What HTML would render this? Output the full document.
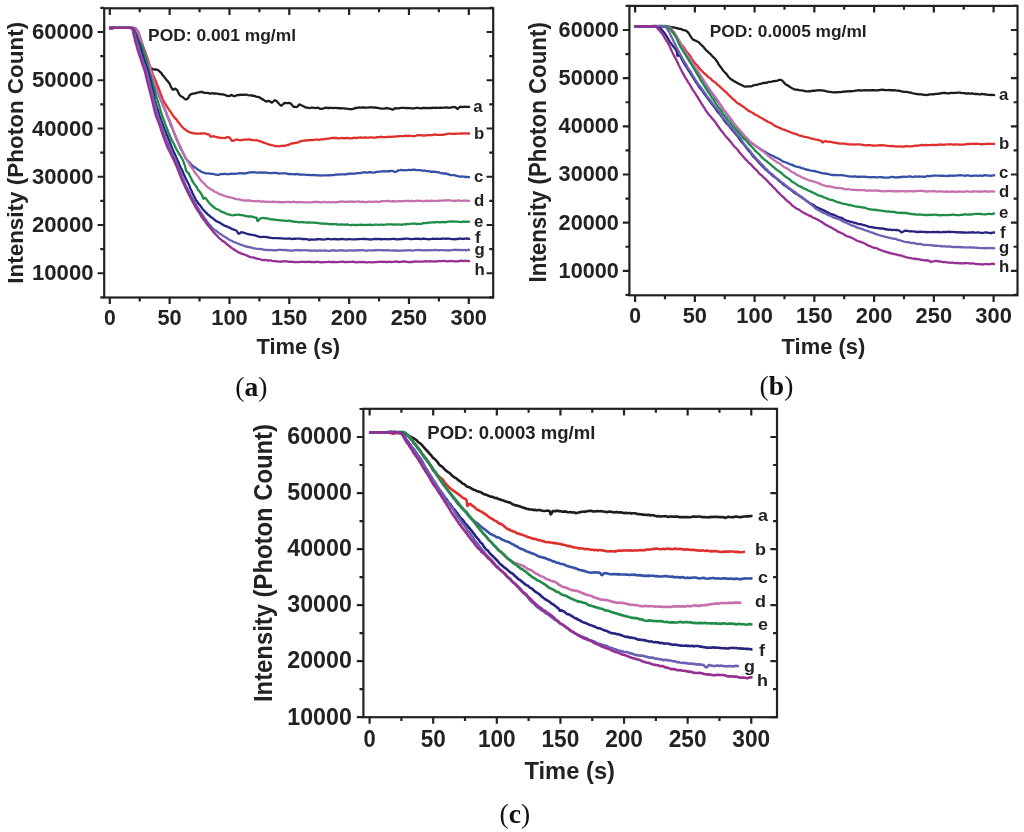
<!DOCTYPE html>
<html lang="en">
<head>
<meta charset="utf-8">
<title>Intensity (Photon Count) vs Time (s)</title>
<style>
html,body{margin:0;padding:0;background:#ffffff;}
body{width:1024px;height:832px;overflow:hidden;font-family:"Liberation Sans",sans-serif;}
svg{display:block;filter:blur(0.45px);}
text{white-space:pre;}
</style>
</head>
<body>
<svg width="1024" height="832" viewBox="0 0 1024 832">
<rect x="0" y="0" width="1024" height="832" fill="#ffffff"/>
<g>
<path d="M109.30,28.00 L110.05,28.00 L110.97,27.99 L112.06,27.98 L113.29,27.97 L114.63,27.96 L116.07,27.95 L117.58,27.94 L119.15,27.92 L120.75,27.91 L122.36,27.90 L123.97,27.89 L125.55,27.89 L127.07,27.89 L128.53,27.89 L129.89,27.90 L131.14,27.81 L132.26,27.88 L133.22,28.04 L134.00,28.16 L134.87,28.74 L135.50,29.54 L136.16,30.44 L136.87,31.56 L137.50,32.70 L137.80,33.24 L138.13,34.25 L138.48,35.32 L138.85,36.61 L139.25,37.78 L139.65,39.19 L140.06,40.27 L140.48,41.62 L140.89,42.53 L141.30,43.94 L141.70,44.89 L142.10,46.23 L142.51,47.30 L142.93,48.38 L143.35,49.55 L143.77,50.60 L144.19,52.13 L144.60,53.30 L145.01,54.37 L145.40,55.23 L145.79,56.54 L146.15,57.23 L146.63,58.91 L147.11,60.15 L147.57,61.55 L148.02,62.84 L148.45,63.52 L148.84,64.57 L149.20,65.19 L149.50,65.89 L149.97,67.28 L150.60,67.88 L151.65,68.60 L153.00,69.16 L153.99,69.53 L155.17,69.27 L156.38,69.58 L157.50,69.96 L158.49,70.36 L159.42,71.44 L160.33,72.22 L161.25,72.93 L162.00,74.08 L162.75,75.28 L163.50,75.91 L164.25,77.10 L165.00,77.80 L165.77,78.93 L166.56,80.02 L167.34,80.60 L168.08,81.81 L168.75,82.60 L169.34,83.30 L169.87,84.25 L170.36,85.39 L170.81,86.74 L171.25,87.28 L171.87,88.33 L172.48,89.42 L173.10,89.67 L174.05,89.31 L175.00,88.57 L175.97,89.19 L176.90,89.89 L177.47,90.59 L178.07,92.05 L178.72,93.39 L179.40,94.66 L180.12,95.50 L180.87,96.19 L181.67,96.57 L182.50,96.86 L183.44,97.74 L184.45,98.63 L185.43,99.32 L186.25,99.42 L187.28,99.03 L188.10,98.15 L188.63,97.23 L189.19,96.07 L189.83,95.03 L190.60,94.47 L191.52,94.19 L192.57,93.54 L193.73,93.53 L195.00,93.25 L196.13,93.22 L197.37,92.59 L198.66,92.41 L199.97,92.05 L201.25,91.86 L202.46,92.01 L203.63,92.60 L204.81,92.82 L206.09,92.78 L207.50,92.86 L208.60,93.21 L209.82,93.52 L211.14,93.29 L212.50,93.15 L213.86,93.61 L215.18,93.48 L216.40,93.59 L217.50,93.72 L218.93,94.01 L220.24,94.21 L221.46,94.47 L222.62,94.27 L223.75,94.68 L224.87,94.92 L225.96,95.38 L226.99,95.79 L227.93,95.83 L228.75,96.09 L229.71,95.83 L230.48,95.58 L231.25,94.85 L232.03,95.18 L232.81,95.55 L233.75,96.17 L234.73,96.03 L235.90,95.64 L237.19,95.09 L238.58,94.93 L240.00,95.00 L241.05,94.59 L242.16,94.77 L243.31,94.56 L244.48,94.84 L245.66,94.64 L246.84,94.70 L248.00,95.16 L249.16,95.31 L250.34,95.36 L251.53,95.35 L252.71,95.84 L253.86,95.76 L254.96,96.16 L256.00,96.62 L257.36,96.77 L258.63,97.19 L259.82,97.56 L260.94,98.30 L262.00,99.10 L263.23,99.65 L264.34,100.42 L265.35,101.18 L266.25,101.53 L267.52,101.17 L268.75,100.81 L269.73,101.28 L270.79,102.14 L271.90,102.63 L272.74,101.95 L273.59,101.28 L274.53,100.40 L275.60,100.46 L276.46,101.02 L277.43,102.10 L278.46,103.17 L279.48,104.30 L280.43,105.26 L281.25,105.71 L282.39,104.97 L283.26,103.99 L284.40,103.08 L285.39,102.92 L286.55,103.15 L287.78,103.03 L288.96,102.97 L290.00,103.22 L291.07,103.75 L291.99,104.97 L292.86,105.99 L293.75,106.78 L295.07,106.92 L296.39,106.98 L297.50,106.58 L298.16,106.05 L298.61,104.99 L299.40,104.33 L300.22,104.81 L301.21,105.23 L302.34,105.65 L303.57,106.33 L304.87,107.09 L306.19,107.55 L307.50,107.63 L308.70,107.90 L310.00,108.04 L311.36,107.71 L312.73,107.71 L314.08,107.88 L315.35,108.04 L316.50,107.81 L317.50,107.68 L318.78,108.08 L319.91,108.71 L320.94,108.94 L321.90,108.89 L322.97,108.51 L323.89,108.31 L325.00,107.84 L325.82,107.73 L326.80,107.95 L327.92,107.99 L329.15,108.01 L330.47,107.92 L331.85,107.96 L333.28,108.07 L334.73,107.85 L336.17,107.83 L337.58,108.18 L338.95,108.25 L340.24,108.05 L341.43,108.33 L342.50,108.45 L343.91,108.41 L345.31,108.62 L346.67,108.72 L347.98,108.92 L349.22,109.03 L350.37,109.24 L351.41,109.16 L352.33,109.08 L353.10,108.98 L354.05,108.58 L355.00,108.07 L355.80,107.88 L356.79,108.02 L357.93,107.57 L359.21,107.38 L360.59,107.59 L362.04,107.50 L363.52,107.34 L365.02,107.61 L366.50,107.60 L367.92,107.57 L369.26,107.28 L370.49,107.41 L371.58,107.25 L372.50,107.51 L373.71,107.55 L374.76,107.45 L375.75,107.50 L376.79,107.89 L378.00,107.80 L378.98,108.08 L380.14,108.42 L381.42,108.64 L382.79,108.66 L384.19,108.55 L385.57,108.25 L386.89,108.22 L388.10,108.44 L389.16,108.69 L390.00,108.64 L390.95,108.97 L391.73,109.29 L392.50,109.74 L393.26,109.50 L394.03,108.85 L395.00,108.36 L395.74,108.09 L396.59,108.34 L397.52,108.31 L398.53,108.47 L399.62,108.19 L400.79,107.93 L402.01,107.96 L403.29,107.90 L404.63,107.94 L406.01,108.11 L407.43,107.91 L408.88,108.07 L410.35,108.22 L411.84,108.36 L413.35,108.50 L414.86,108.08 L416.37,107.83 L417.87,107.86 L419.36,108.20 L420.83,108.42 L422.27,107.99 L423.68,107.95 L425.05,108.01 L426.37,108.06 L427.64,107.84 L428.85,108.06 L430.00,107.96 L431.50,108.00 L433.01,107.75 L434.51,107.78 L436.00,107.63 L437.48,107.87 L438.94,107.91 L440.39,107.55 L441.80,107.82 L443.18,107.65 L444.53,107.66 L445.84,107.32 L447.10,107.52 L448.31,107.56 L449.47,107.76 L450.57,107.55 L451.60,107.24 L452.56,107.14 L453.46,107.15 L454.27,107.02 L455.00,107.07 L455.96,107.68 L456.73,108.31 L457.50,109.00 L458.26,108.36 L459.02,107.45 L460.00,106.89 L460.96,106.74 L462.21,107.11 L463.64,106.93 L465.16,106.73 L466.65,106.88 L468.03,106.93 L469.18,106.87 L470.00,106.65" fill="none" stroke="#1d1d1d" stroke-width="2.3" stroke-linejoin="round" stroke-linecap="butt"/>
<path d="M109.30,28.00 L110.03,28.00 L110.94,27.99 L111.99,27.99 L113.18,27.98 L114.49,27.96 L115.88,27.95 L117.36,27.94 L118.89,27.93 L120.46,27.92 L122.06,27.91 L123.65,27.90 L125.23,27.89 L126.77,27.89 L128.26,27.89 L129.67,27.89 L131.00,27.94 L132.21,28.06 L133.29,27.85 L134.23,28.18 L135.00,28.09 L135.87,28.37 L136.50,29.66 L137.16,30.23 L137.87,30.96 L138.50,32.05 L138.80,33.30 L139.13,34.35 L139.48,35.11 L139.85,36.31 L140.25,37.74 L140.65,38.81 L141.06,40.25 L141.48,41.25 L141.89,42.60 L142.30,43.77 L142.70,45.14 L143.10,46.26 L143.50,47.62 L143.91,48.33 L144.32,49.24 L144.73,50.44 L145.14,51.64 L145.55,52.77 L145.96,53.73 L146.36,55.12 L146.76,56.16 L147.15,57.19 L147.53,58.47 L147.90,59.61 L148.26,60.58 L148.61,61.98 L148.96,63.00 L149.31,64.27 L149.67,65.13 L150.03,66.63 L150.41,67.82 L150.80,69.12 L151.20,69.95 L151.62,71.09 L152.06,71.96 L152.51,73.45 L152.96,74.79 L153.43,75.71 L153.90,77.09 L154.38,78.09 L154.85,78.92 L155.32,79.96 L155.79,80.98 L156.25,82.22 L156.72,83.59 L157.20,85.11 L157.70,86.03 L158.20,87.18 L158.70,88.33 L159.19,89.74 L159.67,90.85 L160.11,92.28 L160.53,93.43 L160.91,94.31 L161.25,95.37 L161.65,96.13 L161.96,97.30 L162.26,97.98 L162.62,99.10 L163.10,99.85 L163.58,100.84 L164.12,102.12 L164.71,103.08 L165.35,103.85 L166.03,105.29 L166.75,106.25 L167.50,107.26 L168.11,108.59 L168.76,109.39 L169.45,110.42 L170.15,111.16 L170.87,112.38 L171.60,113.32 L172.33,114.51 L173.05,115.64 L173.75,116.53 L174.54,117.64 L175.33,118.41 L176.12,119.19 L176.92,120.11 L177.70,121.54 L178.48,122.25 L179.25,123.04 L180.00,124.43 L180.84,125.27 L181.68,126.42 L182.51,127.09 L183.32,128.16 L184.11,128.73 L184.87,129.12 L185.60,129.86 L186.68,130.72 L187.67,131.27 L188.72,131.85 L190.00,132.25 L191.07,132.81 L192.27,132.90 L193.56,133.39 L194.89,133.47 L196.21,133.68 L197.50,133.66 L198.79,133.69 L200.11,133.52 L201.44,133.43 L202.73,133.62 L203.93,133.46 L205.00,133.35 L206.33,133.95 L207.53,134.29 L208.58,134.34 L209.40,134.83 L210.04,135.89 L210.60,136.72 L211.45,136.69 L212.52,136.48 L213.75,136.19 L214.75,136.62 L215.93,136.79 L217.23,137.35 L218.59,137.43 L219.95,137.82 L221.25,137.96 L222.55,137.91 L223.91,138.05 L225.27,137.82 L226.57,137.40 L227.75,137.13 L228.75,136.98 L229.82,137.95 L230.52,139.09 L231.13,139.78 L231.90,140.74 L232.89,140.89 L233.96,140.37 L235.09,139.98 L236.25,139.50 L237.45,139.60 L238.71,139.90 L239.98,140.16 L241.25,140.26 L242.45,139.93 L243.60,139.65 L244.84,139.63 L246.25,139.48 L247.17,139.54 L248.24,139.32 L249.43,139.36 L250.69,139.81 L252.00,139.93 L253.32,140.20 L254.61,140.30 L255.85,140.13 L256.99,140.17 L258.00,140.65 L259.38,141.19 L260.63,141.44 L261.78,141.80 L262.87,142.17 L263.93,142.85 L265.00,142.93 L266.24,143.47 L267.40,143.94 L268.54,144.48 L269.72,144.73 L271.00,144.80 L272.17,145.20 L273.43,145.44 L274.72,146.05 L276.02,146.06 L277.29,146.01 L278.50,146.28 L279.66,146.19 L280.80,146.00 L281.91,145.97 L282.98,145.80 L284.02,145.66 L285.00,145.75 L286.31,145.36 L287.47,144.97 L288.65,144.79 L290.00,144.11 L290.99,143.77 L292.07,143.40 L293.22,143.26 L294.41,143.21 L295.63,142.95 L296.83,142.69 L298.00,142.48 L299.11,141.70 L300.19,141.19 L301.25,141.23 L302.33,140.76 L303.47,140.56 L304.68,140.52 L306.00,140.45 L307.06,140.55 L308.22,140.10 L309.47,140.26 L310.78,139.89 L312.13,140.12 L313.50,139.93 L314.88,139.65 L316.24,139.70 L317.56,139.63 L318.82,139.81 L320.00,139.58 L321.33,139.35 L322.56,139.39 L323.72,139.38 L324.85,138.96 L325.96,138.97 L327.11,138.59 L328.31,138.71 L329.59,138.43 L331.00,138.11 L332.02,137.87 L333.07,138.01 L334.17,137.88 L335.30,138.01 L336.46,137.97 L337.66,138.27 L338.89,138.44 L340.16,138.22 L341.47,137.92 L342.81,138.20 L344.18,138.25 L345.59,138.20 L347.02,137.84 L348.50,138.04 L350.00,138.26 L351.06,138.38 L352.17,138.35 L353.31,137.90 L354.50,137.73 L355.71,138.05 L356.95,137.80 L358.22,137.56 L359.52,137.63 L360.83,137.51 L362.17,137.62 L363.52,137.70 L364.88,137.39 L366.24,137.67 L367.62,137.62 L368.99,137.64 L370.37,137.31 L371.74,137.42 L373.11,137.60 L374.47,137.57 L375.81,137.65 L377.14,137.14 L378.45,137.15 L379.74,137.04 L381.00,136.71 L382.31,137.02 L383.62,137.20 L384.94,137.04 L386.26,137.14 L387.59,136.80 L388.91,136.74 L390.23,136.96 L391.55,136.93 L392.87,136.60 L394.17,136.57 L395.48,136.69 L396.77,136.31 L398.05,136.35 L399.33,136.13 L400.58,136.06 L401.83,136.08 L403.06,136.05 L404.27,135.99 L405.46,135.69 L406.63,135.84 L407.78,136.11 L408.90,135.69 L410.00,135.79 L411.45,135.94 L412.85,136.05 L414.21,136.13 L415.53,135.84 L416.82,135.47 L418.08,135.16 L419.32,135.12 L420.53,135.37 L421.72,135.19 L422.89,135.51 L424.06,135.63 L425.21,135.31 L426.37,135.38 L427.52,135.08 L428.67,135.01 L429.83,135.11 L431.00,135.13 L432.32,135.15 L433.63,134.75 L434.91,134.49 L436.18,134.74 L437.44,134.86 L438.70,134.85 L439.94,134.88 L441.18,134.83 L442.42,134.71 L443.67,134.74 L444.91,134.40 L446.17,134.19 L447.43,133.86 L448.71,133.65 L450.00,133.61 L451.26,133.80 L452.59,133.73 L453.97,133.62 L455.40,133.88 L456.85,133.66 L458.31,133.71 L459.76,133.64 L461.19,133.48 L462.58,133.49 L463.92,133.62 L465.19,133.34 L466.38,133.43 L467.47,133.58 L468.45,133.29 L469.30,133.55 L470.00,133.44" fill="none" stroke="#df2f2d" stroke-width="2.3" stroke-linejoin="round" stroke-linecap="butt"/>
<path d="M109.30,28.00 L110.01,28.00 L110.89,27.99 L111.91,27.99 L113.06,27.98 L114.32,27.96 L115.68,27.95 L117.11,27.94 L118.59,27.93 L120.11,27.92 L121.66,27.91 L123.20,27.90 L124.73,27.89 L126.22,27.89 L127.67,27.89 L129.04,27.89 L130.32,28.04 L131.49,28.24 L132.55,28.40 L133.45,28.19 L134.20,27.89 L135.07,28.47 L135.70,29.49 L136.39,30.40 L137.15,31.38 L137.80,32.63 L138.10,33.41 L138.43,34.49 L138.78,35.57 L139.15,36.68 L139.53,37.99 L139.93,38.88 L140.34,40.25 L140.74,41.34 L141.15,42.44 L141.56,43.45 L141.95,44.68 L142.34,45.87 L142.74,47.16 L143.14,48.07 L143.55,49.34 L143.96,50.57 L144.37,51.49 L144.77,52.96 L145.18,54.05 L145.57,55.14 L145.97,56.06 L146.35,57.48 L146.73,58.35 L147.10,59.61 L147.46,60.83 L147.83,61.78 L148.18,63.06 L148.54,64.00 L148.89,65.10 L149.25,66.44 L149.60,67.35 L149.95,68.83 L150.30,70.19 L150.65,70.98 L151.00,72.18 L151.35,73.15 L151.70,74.19 L152.05,75.39 L152.39,76.72 L152.74,78.30 L153.08,79.63 L153.42,80.31 L153.76,81.23 L154.10,82.24 L154.56,83.58 L155.02,84.82 L155.48,85.91 L155.93,87.54 L156.38,88.42 L156.83,89.66 L157.27,90.95 L157.70,91.86 L158.17,93.04 L158.62,94.47 L159.05,95.48 L159.49,96.52 L159.94,97.64 L160.42,98.82 L160.95,100.22 L161.34,101.32 L161.75,102.03 L162.19,103.04 L162.64,104.42 L163.10,105.52 L163.58,106.93 L164.06,107.72 L164.54,108.73 L165.02,110.02 L165.49,111.11 L165.95,112.18 L166.40,113.71 L166.86,114.81 L167.31,116.01 L167.77,117.05 L168.22,118.40 L168.68,119.26 L169.13,120.23 L169.59,121.47 L170.04,122.88 L170.50,124.19 L170.95,125.45 L171.40,126.45 L171.86,127.41 L172.31,128.23 L172.77,129.72 L173.22,130.90 L173.68,131.72 L174.13,133.06 L174.59,134.44 L175.04,135.33 L175.50,136.29 L175.95,137.54 L176.45,138.71 L176.95,139.93 L177.45,140.89 L177.95,142.20 L178.45,143.41 L178.95,144.41 L179.45,145.68 L179.95,146.63 L180.45,147.99 L180.95,149.09 L181.51,149.88 L182.08,150.92 L182.65,152.07 L183.22,153.50 L183.79,154.41 L184.35,155.47 L184.90,156.77 L185.44,158.09 L185.95,158.76 L186.71,159.54 L187.49,160.45 L188.29,161.41 L189.12,162.05 L190.00,162.83 L190.78,163.95 L191.60,164.78 L192.44,165.53 L193.30,166.44 L194.16,166.96 L195.00,167.56 L196.00,168.02 L197.00,168.97 L198.00,169.68 L199.00,170.24 L200.00,170.82 L200.98,171.48 L201.94,172.01 L202.91,172.43 L203.92,172.69 L205.00,173.12 L206.17,173.30 L207.41,173.47 L208.69,173.41 L209.98,173.57 L211.25,173.82 L212.56,173.82 L213.93,174.05 L215.27,174.51 L216.49,174.71 L217.50,175.00 L218.39,174.81 L219.12,174.49 L220.00,174.39 L220.87,174.11 L221.91,174.11 L223.09,174.04 L224.38,173.72 L225.74,174.06 L227.15,174.09 L228.58,174.20 L230.00,174.02 L231.14,173.68 L232.29,173.92 L233.47,173.74 L234.68,173.86 L235.91,173.65 L237.16,173.58 L238.45,173.43 L239.77,173.24 L241.12,173.48 L242.50,173.21 L243.67,173.53 L244.84,173.26 L246.02,173.45 L247.21,172.98 L248.43,172.68 L249.67,172.48 L250.94,172.43 L252.26,172.27 L253.61,172.21 L255.02,172.37 L256.48,172.52 L258.00,172.65 L259.02,172.58 L260.11,172.35 L261.25,172.60 L262.45,172.48 L263.70,172.78 L264.98,172.47 L266.30,172.57 L267.64,172.82 L269.01,173.10 L270.39,173.11 L271.78,173.08 L273.18,172.89 L274.57,172.79 L275.95,172.84 L277.33,173.22 L278.67,173.56 L280.00,173.28 L281.29,173.38 L282.54,173.38 L283.75,173.28 L284.90,173.25 L286.00,173.49 L287.49,173.79 L288.94,174.14 L290.34,173.90 L291.69,174.16 L293.01,174.11 L294.29,174.42 L295.55,174.23 L296.78,174.12 L297.98,174.15 L299.17,174.55 L300.35,174.51 L301.51,174.63 L302.68,174.55 L303.84,174.54 L305.00,174.56 L306.32,175.02 L307.60,174.84 L308.84,174.78 L310.05,175.23 L311.24,175.08 L312.41,174.95 L313.59,175.20 L314.76,175.19 L315.95,175.24 L317.16,175.43 L318.40,175.28 L319.68,175.41 L321.00,175.56 L322.19,175.47 L323.41,175.44 L324.66,175.46 L325.93,175.32 L327.22,175.29 L328.53,175.25 L329.84,175.40 L331.16,175.07 L332.47,175.11 L333.78,175.18 L335.07,174.70 L336.34,174.65 L337.59,174.44 L338.81,174.54 L340.00,174.42 L341.32,174.32 L342.60,174.41 L343.84,174.47 L345.05,174.52 L346.24,174.09 L347.41,173.87 L348.59,174.01 L349.76,173.58 L350.95,173.63 L352.16,173.74 L353.40,173.66 L354.68,173.71 L356.00,173.47 L357.18,173.22 L358.39,173.05 L359.62,173.13 L360.88,173.02 L362.15,172.69 L363.43,172.38 L364.73,172.20 L366.03,172.59 L367.33,172.57 L368.63,172.26 L369.93,172.07 L371.22,172.35 L372.49,172.50 L373.76,172.53 L375.00,172.33 L376.35,171.83 L377.76,171.96 L379.20,171.64 L380.67,171.71 L382.14,171.28 L383.60,171.26 L385.03,171.45 L386.42,171.33 L387.76,171.17 L389.02,171.26 L390.19,171.07 L391.25,170.94 L392.19,170.96 L393.00,171.12 L393.96,171.56 L394.73,171.82 L395.50,172.06 L396.25,171.72 L397.00,171.18 L398.00,170.35 L398.80,170.50 L399.78,170.25 L400.90,169.89 L402.12,170.10 L403.42,170.05 L404.77,170.27 L406.13,170.05 L407.46,170.05 L408.74,169.94 L409.93,169.87 L411.00,170.09 L412.46,169.77 L413.78,169.73 L415.00,169.75 L416.19,170.20 L417.39,170.18 L418.64,170.17 L420.00,170.17 L421.12,170.37 L422.25,170.72 L423.41,170.75 L424.59,170.48 L425.80,170.87 L427.04,171.16 L428.32,171.11 L429.64,171.44 L431.00,171.76 L432.17,171.58 L433.40,171.87 L434.68,171.71 L436.00,171.96 L437.33,172.32 L438.67,172.23 L440.00,172.82 L441.32,173.04 L442.60,173.44 L443.83,173.52 L445.00,173.33 L446.34,173.71 L447.59,174.06 L448.78,174.38 L449.93,174.89 L451.07,175.16 L452.22,175.13 L453.41,175.16 L454.66,175.22 L456.00,175.81 L457.21,175.89 L458.55,176.36 L459.98,176.73 L461.46,176.48 L462.95,176.57 L464.41,176.67 L465.81,177.11 L467.11,176.98 L468.27,177.20 L469.24,177.10 L470.00,177.12" fill="none" stroke="#3451a6" stroke-width="2.3" stroke-linejoin="round" stroke-linecap="butt"/>
<path d="M109.30,28.00 L110.02,28.00 L110.91,27.99 L111.94,27.99 L113.11,27.98 L114.38,27.96 L115.75,27.95 L117.20,27.94 L118.70,27.93 L120.24,27.92 L121.81,27.91 L123.37,27.90 L124.92,27.89 L126.43,27.89 L127.89,27.89 L129.28,27.89 L130.57,27.97 L131.76,28.22 L132.83,28.09 L133.74,28.26 L134.50,28.23 L135.37,28.50 L136.00,29.68 L136.69,30.43 L137.45,31.11 L138.10,32.45 L138.40,33.14 L138.73,34.17 L139.08,35.12 L139.45,36.01 L139.83,37.56 L140.23,38.89 L140.64,40.07 L141.04,41.11 L141.45,42.58 L141.86,43.71 L142.25,45.09 L142.64,46.45 L143.04,47.24 L143.44,48.44 L143.85,49.63 L144.26,51.02 L144.67,52.20 L145.07,53.44 L145.48,54.32 L145.87,55.44 L146.27,56.41 L146.65,57.57 L147.03,58.69 L147.40,60.09 L147.76,61.03 L148.13,62.19 L148.48,63.47 L148.84,64.29 L149.19,65.44 L149.55,66.35 L149.90,67.50 L150.25,69.00 L150.60,70.35 L150.95,71.17 L151.30,72.04 L151.65,73.35 L152.00,74.45 L152.35,75.62 L152.69,76.74 L153.04,78.05 L153.38,79.17 L153.72,80.30 L154.06,81.43 L154.40,82.44 L154.86,84.10 L155.32,85.15 L155.78,86.58 L156.23,87.65 L156.68,88.75 L157.13,89.84 L157.57,90.97 L158.00,91.81 L158.47,93.35 L158.92,94.17 L159.35,95.57 L159.79,96.65 L160.24,97.76 L160.72,98.59 L161.25,100.11 L161.64,101.30 L162.05,102.01 L162.49,103.14 L162.94,104.02 L163.40,105.51 L163.88,106.65 L164.36,108.02 L164.84,109.23 L165.32,110.07 L165.79,111.41 L166.25,112.58 L166.70,113.43 L167.16,114.65 L167.61,116.13 L168.07,116.97 L168.52,117.91 L168.98,118.96 L169.43,120.02 L169.89,121.16 L170.34,122.51 L170.80,123.46 L171.25,124.55 L171.70,126.03 L172.16,127.48 L172.61,128.39 L173.07,129.79 L173.52,130.77 L173.98,131.78 L174.43,132.97 L174.89,134.21 L175.34,135.56 L175.80,136.35 L176.25,137.32 L176.75,138.73 L177.25,139.67 L177.75,141.08 L178.25,142.27 L178.75,143.22 L179.25,144.40 L179.75,145.70 L180.25,146.42 L180.75,147.32 L181.25,148.83 L181.80,149.98 L182.34,151.18 L182.87,152.23 L183.40,153.58 L183.94,154.61 L184.49,155.60 L185.05,156.80 L185.64,157.59 L186.25,158.70 L186.82,159.71 L187.42,161.02 L188.03,161.73 L188.66,162.59 L189.30,163.55 L189.94,164.94 L190.59,165.70 L191.23,167.04 L191.87,167.66 L192.50,168.76 L193.19,169.62 L193.89,170.57 L194.58,171.94 L195.28,173.10 L195.97,173.84 L196.67,174.98 L197.36,175.56 L198.06,176.40 L198.75,177.18 L199.53,178.57 L200.31,179.61 L201.09,180.71 L201.88,181.43 L202.66,182.29 L203.44,182.69 L204.22,183.45 L205.00,184.40 L205.89,185.48 L206.79,186.35 L207.68,187.16 L208.57,187.72 L209.46,188.27 L210.36,188.95 L211.25,189.54 L212.29,189.88 L213.33,190.76 L214.38,191.69 L215.42,192.01 L216.46,192.41 L217.50,192.94 L218.54,193.66 L219.58,194.24 L220.62,194.32 L221.67,194.56 L222.71,195.10 L223.75,195.61 L224.76,195.79 L225.73,196.48 L226.70,196.75 L227.71,196.98 L228.80,196.99 L230.00,197.41 L230.98,197.43 L232.05,197.97 L233.20,198.08 L234.41,198.67 L235.67,198.98 L236.98,199.24 L238.33,199.44 L239.71,199.34 L241.10,199.96 L242.50,200.34 L243.70,200.46 L244.95,200.52 L246.25,200.63 L247.57,200.42 L248.92,200.52 L250.28,200.51 L251.64,200.81 L252.98,201.04 L254.30,201.08 L255.58,201.33 L256.82,201.21 L258.00,200.99 L259.35,201.20 L260.64,201.56 L261.89,201.51 L263.10,201.47 L264.28,201.62 L265.44,201.83 L266.58,201.65 L267.72,201.96 L268.86,201.86 L270.00,201.83 L271.24,201.92 L272.43,201.76 L273.58,201.69 L274.72,201.80 L275.86,201.87 L277.04,202.16 L278.28,201.83 L279.59,202.16 L281.00,202.24 L281.81,202.25 L282.68,202.23 L283.60,202.09 L284.57,202.23 L285.59,202.07 L286.65,201.96 L287.76,201.87 L288.91,202.14 L290.10,201.85 L291.32,202.07 L292.58,201.96 L293.87,201.73 L295.19,202.04 L296.53,202.24 L297.89,202.25 L299.28,201.91 L300.68,202.15 L302.10,202.09 L303.53,202.29 L304.97,202.34 L306.42,202.30 L307.88,202.44 L309.34,202.29 L310.80,202.33 L312.25,202.02 L313.70,202.06 L315.15,201.76 L316.58,201.84 L318.01,202.15 L319.41,202.00 L320.80,202.30 L322.17,202.32 L323.52,201.89 L324.85,201.96 L326.14,202.21 L327.41,202.35 L328.64,202.00 L329.84,202.18 L331.00,202.33 L332.43,202.14 L333.83,202.05 L335.22,202.29 L336.59,202.20 L337.95,202.14 L339.29,201.76 L340.61,201.59 L341.92,201.52 L343.22,201.58 L344.50,201.96 L345.77,201.94 L347.03,201.75 L348.29,201.66 L349.53,201.89 L350.76,201.63 L351.99,201.41 L353.21,201.86 L354.42,202.00 L355.63,201.63 L356.83,201.59 L358.03,201.62 L359.23,201.51 L360.42,201.83 L361.61,201.80 L362.81,201.75 L364.00,201.95 L365.19,202.07 L366.39,202.11 L367.59,201.82 L368.79,201.57 L370.00,201.53 L371.34,201.76 L372.67,201.81 L374.00,201.91 L375.32,201.58 L376.64,201.63 L377.95,201.82 L379.26,201.86 L380.56,201.53 L381.86,201.23 L383.16,201.07 L384.45,201.10 L385.74,201.06 L387.03,201.01 L388.31,201.01 L389.59,201.15 L390.87,201.51 L392.14,201.26 L393.41,201.15 L394.68,201.29 L395.95,201.37 L397.21,201.34 L398.47,201.10 L399.73,200.99 L400.99,201.31 L402.24,201.09 L403.50,201.10 L404.75,200.97 L406.00,200.79 L407.30,200.79 L408.59,200.75 L409.89,201.09 L411.18,201.00 L412.48,200.87 L413.77,201.13 L415.06,201.22 L416.34,200.96 L417.63,200.70 L418.91,200.92 L420.19,200.92 L421.47,200.74 L422.74,201.08 L424.01,201.29 L425.27,200.85 L426.53,200.89 L427.79,200.70 L429.04,201.08 L430.28,200.86 L431.52,200.75 L432.75,200.97 L433.98,200.90 L435.20,200.78 L436.41,200.88 L437.61,201.12 L438.81,200.71 L440.00,200.54 L441.35,200.65 L442.74,200.63 L444.15,200.51 L445.58,200.47 L447.03,200.28 L448.48,200.17 L449.95,200.47 L451.41,200.57 L452.86,200.81 L454.30,200.64 L455.73,200.86 L457.12,200.56 L458.49,200.29 L459.83,200.63 L461.12,200.86 L462.37,200.85 L463.57,200.55 L464.70,200.64 L465.78,200.50 L466.78,200.79 L467.71,200.91 L468.56,200.97 L469.33,200.84 L470.00,200.50" fill="none" stroke="#c66fae" stroke-width="2.3" stroke-linejoin="round" stroke-linecap="butt"/>
<path d="M109.30,28.00 L110.05,28.00 L110.98,27.99 L112.08,27.98 L113.31,27.96 L114.67,27.94 L116.12,27.93 L117.64,27.91 L119.21,27.89 L120.81,27.88 L122.40,27.86 L123.98,27.85 L125.51,27.85 L126.98,27.86 L128.36,27.87 L129.62,27.88 L130.75,27.84 L131.71,27.96 L132.50,28.17 L133.46,28.61 L134.00,29.99 L134.35,30.92 L134.71,31.48 L135.09,32.56 L135.52,33.74 L136.00,34.93 L136.47,36.22 L137.01,37.12 L137.57,38.74 L138.15,40.02 L138.70,41.08 L139.20,42.19 L140.02,43.12 L140.88,43.89 L141.60,44.98 L141.92,45.75 L142.26,46.76 L142.64,47.66 L143.03,49.03 L143.43,50.18 L143.84,51.46 L144.25,52.67 L144.65,54.07 L145.04,55.13 L145.41,56.12 L145.75,57.66 L146.09,58.60 L146.41,60.11 L146.71,61.12 L147.00,62.31 L147.28,63.60 L147.55,64.94 L147.83,65.92 L148.12,67.56 L148.42,69.00 L148.75,70.34 L149.06,71.34 L149.39,72.59 L149.73,73.55 L150.07,74.59 L150.42,75.52 L150.77,76.96 L151.12,77.79 L151.48,79.25 L151.82,80.17 L152.17,81.25 L152.50,82.54 L152.87,83.82 L153.25,85.37 L153.63,86.60 L154.01,87.79 L154.39,89.15 L154.76,90.27 L155.10,91.93 L155.43,92.76 L155.73,93.79 L156.00,94.95 L156.32,96.04 L156.60,97.10 L156.88,98.18 L157.17,98.81 L157.50,100.07 L157.75,100.71 L158.04,101.74 L158.34,102.53 L158.67,103.86 L159.02,105.01 L159.38,106.42 L159.75,107.49 L160.12,108.81 L160.50,110.29 L160.88,111.40 L161.25,112.65 L161.62,113.82 L162.00,114.85 L162.38,116.04 L162.76,117.18 L163.15,117.96 L163.54,119.43 L163.95,120.39 L164.35,121.51 L164.76,122.56 L165.18,124.00 L165.60,125.30 L166.03,126.39 L166.47,127.21 L166.92,128.32 L167.37,129.49 L167.83,130.79 L168.29,132.16 L168.75,133.05 L169.22,134.04 L169.68,135.35 L170.14,136.19 L170.60,137.20 L171.16,138.82 L171.72,139.82 L172.29,140.87 L172.86,141.99 L173.42,142.93 L173.98,143.95 L174.53,145.26 L175.07,146.63 L175.60,147.69 L176.27,148.99 L176.92,150.17 L177.56,151.14 L178.19,152.27 L178.81,153.25 L179.41,153.90 L180.00,155.16 L180.59,156.26 L181.18,157.17 L181.76,158.03 L182.32,159.08 L182.84,160.34 L183.32,161.33 L183.75,162.50 L184.24,163.89 L184.63,164.99 L184.96,165.88 L185.24,166.87 L185.50,168.04 L185.74,168.95 L185.90,170.12 L186.25,171.01 L186.97,171.64 L187.89,172.63 L188.75,173.40 L189.21,174.60 L189.69,175.79 L190.20,176.49 L190.74,177.61 L191.30,178.69 L191.89,180.09 L192.50,181.28 L193.15,182.20 L193.84,183.32 L194.56,184.35 L195.29,185.24 L196.03,186.33 L196.77,187.25 L197.50,188.78 L198.25,190.08 L199.05,190.87 L199.85,191.95 L200.64,193.01 L201.36,194.30 L202.00,195.07 L202.50,196.15 L202.91,197.40 L203.18,198.19 L203.50,198.81 L204.17,198.11 L205.00,197.75 L205.51,198.07 L206.10,198.85 L206.77,199.47 L207.50,200.90 L208.29,201.69 L209.12,202.63 L210.00,203.87 L210.82,204.51 L211.70,205.35 L212.63,206.34 L213.59,206.93 L214.58,207.85 L215.57,208.49 L216.55,208.95 L217.50,209.34 L218.57,209.81 L219.64,210.59 L220.71,211.19 L221.79,211.83 L222.86,212.07 L223.93,212.64 L225.00,212.89 L226.28,213.68 L227.59,214.29 L228.91,214.44 L230.19,214.77 L231.39,215.15 L232.50,215.43 L233.84,215.19 L235.00,214.82 L236.16,214.82 L237.50,214.71 L238.52,214.53 L239.68,214.90 L240.94,215.13 L242.27,215.20 L243.62,215.46 L244.97,216.05 L246.28,216.02 L247.50,216.42 L248.88,216.52 L250.31,216.52 L251.73,216.49 L253.09,216.97 L254.33,217.30 L255.40,217.61 L256.25,217.54 L256.99,218.40 L257.10,220.09 L257.50,221.02 L258.17,220.91 L258.99,219.77 L259.99,218.72 L261.25,218.16 L262.21,218.03 L263.28,218.00 L264.47,218.06 L265.74,218.38 L267.10,218.40 L268.52,218.65 L270.00,219.11 L271.10,219.44 L272.28,219.36 L273.52,219.51 L274.80,219.67 L276.11,219.82 L277.43,220.13 L278.74,220.21 L280.04,220.31 L281.29,220.45 L282.50,220.51 L283.76,220.58 L284.96,220.76 L286.11,220.80 L287.25,220.83 L288.39,220.62 L289.56,220.68 L290.79,221.20 L292.09,221.46 L293.50,221.72 L294.58,221.74 L295.69,221.97 L296.84,221.79 L298.02,222.04 L299.24,222.27 L300.49,222.18 L301.77,222.21 L303.08,222.26 L304.41,222.34 L305.77,222.29 L307.16,222.73 L308.57,222.49 L310.00,222.48 L311.12,222.65 L312.28,222.61 L313.46,222.69 L314.67,222.66 L315.91,222.97 L317.16,222.89 L318.43,222.99 L319.70,223.46 L320.99,223.71 L322.27,223.46 L323.55,223.54 L324.83,223.79 L326.10,223.64 L327.36,223.69 L328.59,224.08 L329.81,224.12 L331.00,223.95 L332.33,224.40 L333.64,224.10 L334.94,224.20 L336.22,224.19 L337.50,224.61 L338.77,224.59 L340.03,224.51 L341.28,224.64 L342.53,224.43 L343.78,224.67 L345.02,224.75 L346.26,224.55 L347.51,224.39 L348.75,224.75 L350.00,225.04 L351.24,225.01 L352.47,224.92 L353.68,224.93 L354.89,225.02 L356.09,224.83 L357.29,225.05 L358.49,224.78 L359.70,224.73 L360.91,224.64 L362.13,225.03 L363.36,224.79 L364.62,224.95 L365.89,224.81 L367.18,224.94 L368.50,224.95 L369.70,224.70 L370.93,224.74 L372.19,225.12 L373.47,224.86 L374.77,224.72 L376.09,224.56 L377.41,224.71 L378.74,224.81 L380.07,224.71 L381.39,224.62 L382.70,224.81 L383.99,224.79 L385.26,224.64 L386.50,224.44 L387.70,224.40 L388.87,224.43 L390.00,224.36 L391.40,224.37 L392.73,224.62 L394.01,224.36 L395.23,224.60 L396.42,224.67 L397.58,224.39 L398.73,224.29 L399.88,224.63 L401.04,224.66 L402.22,224.76 L403.43,224.48 L404.69,224.24 L406.00,224.36 L407.18,223.97 L408.39,224.21 L409.62,223.92 L410.86,223.77 L412.13,223.52 L413.41,223.54 L414.70,223.64 L415.99,223.87 L417.29,223.99 L418.59,223.93 L419.89,223.89 L421.18,223.92 L422.47,223.47 L423.74,223.16 L425.00,223.07 L426.23,223.01 L427.43,222.79 L428.61,222.55 L429.77,222.47 L430.93,222.59 L432.08,222.44 L433.23,222.29 L434.40,222.09 L435.59,222.33 L436.80,222.21 L438.04,222.19 L439.33,222.38 L440.66,222.36 L442.05,221.96 L443.50,222.13 L444.62,222.26 L445.82,222.05 L447.10,221.89 L448.44,221.58 L449.83,221.62 L451.26,221.42 L452.72,221.48 L454.20,221.65 L455.69,221.69 L457.17,221.57 L458.64,221.91 L460.08,221.81 L461.48,222.06 L462.83,221.68 L464.13,221.76 L465.35,221.66 L466.49,221.54 L467.53,221.86 L468.48,221.54 L469.30,221.60 L470.00,221.61" fill="none" stroke="#1f8c48" stroke-width="2.3" stroke-linejoin="round" stroke-linecap="butt"/>
<path d="M109.30,28.00 L110.05,28.00 L110.98,27.99 L112.08,27.98 L113.31,27.96 L114.67,27.94 L116.12,27.93 L117.64,27.91 L119.21,27.89 L120.81,27.88 L122.40,27.86 L123.98,27.85 L125.51,27.85 L126.98,27.86 L128.36,27.87 L129.62,27.88 L130.75,27.77 L131.71,27.87 L132.50,28.17 L133.46,29.08 L134.00,29.99 L134.34,30.63 L134.69,31.89 L135.06,32.77 L135.46,34.10 L135.89,35.09 L136.23,35.68 L136.61,37.02 L137.02,38.19 L137.45,39.01 L137.90,40.17 L138.36,41.25 L138.82,42.72 L139.27,43.61 L139.70,45.07 L140.04,46.35 L140.39,47.11 L140.73,48.49 L141.07,49.29 L141.41,50.31 L141.75,51.39 L142.09,52.82 L142.43,53.84 L142.78,55.05 L143.14,56.01 L143.50,57.52 L143.87,58.94 L144.25,60.17 L144.64,60.85 L145.04,62.24 L145.43,63.19 L145.83,64.40 L146.22,65.69 L146.61,66.51 L146.99,67.80 L147.35,68.69 L147.70,69.88 L148.07,71.21 L148.42,72.23 L148.77,73.43 L149.10,74.86 L149.42,76.47 L149.74,77.63 L150.06,78.60 L150.37,79.95 L150.69,81.14 L151.00,82.56 L151.32,84.00 L151.65,85.26 L151.99,86.40 L152.33,87.98 L152.66,89.29 L152.97,90.83 L153.27,92.26 L153.55,93.02 L153.79,93.93 L154.00,94.65 L154.23,95.90 L154.37,97.10 L154.52,98.35 L154.80,99.70 L155.03,100.56 L155.30,101.37 L155.61,102.37 L155.94,103.70 L156.29,104.98 L156.67,106.50 L157.05,107.67 L157.44,108.78 L157.84,109.77 L158.22,110.85 L158.60,112.22 L158.97,113.57 L159.35,114.57 L159.73,116.09 L160.11,117.01 L160.50,118.29 L160.90,119.67 L161.30,120.69 L161.70,121.46 L162.11,122.68 L162.53,124.02 L162.95,124.87 L163.38,126.01 L163.82,127.46 L164.27,128.80 L164.72,129.87 L165.18,130.67 L165.64,131.61 L166.10,132.94 L166.57,134.24 L167.03,135.12 L167.49,136.01 L167.95,137.31 L168.40,138.47 L168.85,139.57 L169.30,140.59 L169.74,142.01 L170.19,143.04 L170.63,144.24 L171.08,145.60 L171.54,146.48 L172.00,147.70 L172.47,148.91 L172.95,150.07 L173.44,151.34 L173.94,152.32 L174.44,153.26 L174.95,154.34 L175.47,155.52 L175.99,156.90 L176.51,158.10 L177.04,159.10 L177.56,160.21 L178.08,161.22 L178.59,162.23 L179.11,163.69 L179.62,164.97 L180.13,166.11 L180.64,167.26 L181.15,168.34 L181.66,169.13 L182.17,170.18 L182.69,171.57 L183.20,172.90 L183.72,174.14 L184.24,175.10 L184.76,176.24 L185.29,177.56 L185.82,178.70 L186.36,179.83 L186.89,180.68 L187.42,181.71 L187.96,182.69 L188.48,183.74 L189.00,184.88 L189.50,186.07 L190.00,187.40 L190.58,188.89 L191.11,190.01 L191.63,190.93 L192.14,192.28 L192.65,193.50 L193.18,194.41 L193.74,195.52 L194.34,196.68 L195.00,198.05 L195.59,199.28 L196.21,200.41 L196.87,201.03 L197.54,202.18 L198.24,203.27 L198.95,204.12 L199.67,204.85 L200.39,205.80 L201.10,206.62 L201.81,207.95 L202.50,208.93 L203.32,209.78 L204.12,210.69 L204.91,211.46 L205.70,212.45 L206.50,213.02 L207.31,214.04 L208.17,214.73 L209.06,215.31 L210.00,216.41 L210.90,217.09 L211.84,217.63 L212.82,218.23 L213.82,219.23 L214.84,220.06 L215.88,220.73 L216.92,221.52 L217.96,221.84 L218.99,222.25 L220.00,222.94 L221.13,223.60 L222.29,224.41 L223.47,224.94 L224.65,225.69 L225.81,226.24 L226.94,226.47 L228.03,227.07 L229.05,227.46 L230.00,227.79 L231.21,228.63 L232.38,229.06 L233.49,229.54 L234.52,229.96 L235.45,230.22 L236.25,230.56 L237.09,231.53 L237.69,232.40 L238.20,233.48 L238.75,233.72 L239.51,233.59 L240.27,232.94 L241.25,232.22 L242.12,232.36 L243.16,232.56 L244.34,232.85 L245.62,233.25 L246.99,233.80 L248.40,234.02 L249.83,234.56 L251.25,234.66 L252.40,234.92 L253.59,235.10 L254.82,235.33 L256.07,235.72 L257.34,236.22 L258.63,236.60 L259.92,236.97 L261.21,237.06 L262.49,236.90 L263.75,236.95 L264.99,236.95 L266.23,237.09 L267.46,237.10 L268.69,237.70 L269.92,237.55 L271.16,237.93 L272.41,238.04 L273.67,238.07 L274.95,238.09 L276.25,238.15 L277.44,238.18 L278.64,238.02 L279.85,238.47 L281.06,238.30 L282.29,238.27 L283.53,238.59 L284.78,238.66 L286.05,238.61 L287.35,238.67 L288.66,238.70 L290.00,238.51 L291.19,238.85 L292.47,239.01 L293.80,238.73 L295.18,238.74 L296.58,238.68 L297.98,238.61 L299.36,238.56 L300.69,238.67 L301.96,239.07 L303.15,239.02 L304.23,239.12 L305.19,238.89 L306.00,239.07 L307.12,239.16 L308.06,239.55 L309.00,240.04 L309.94,239.71 L310.88,239.52 L312.00,239.48 L312.73,239.64 L313.52,239.64 L314.38,239.59 L315.30,239.67 L316.28,239.24 L317.31,239.16 L318.40,239.41 L319.53,238.99 L320.71,239.26 L321.94,239.46 L323.20,239.61 L324.50,239.38 L325.83,239.28 L327.20,238.92 L328.59,238.79 L330.00,239.22 L331.44,239.46 L332.89,239.21 L334.36,238.97 L335.84,239.28 L337.33,239.12 L338.82,239.39 L340.31,239.08 L341.81,238.95 L343.30,239.10 L344.78,239.38 L346.25,239.30 L347.71,239.24 L349.15,239.09 L350.57,239.22 L351.97,239.31 L353.35,239.44 L354.69,239.39 L356.00,239.41 L357.30,239.20 L358.59,239.18 L359.90,239.05 L361.20,238.95 L362.51,238.79 L363.82,238.99 L365.13,238.99 L366.44,239.12 L367.75,239.05 L369.06,239.35 L370.38,239.51 L371.69,239.36 L373.00,239.24 L374.32,238.98 L375.63,238.86 L376.94,239.21 L378.25,238.94 L379.56,238.98 L380.86,239.25 L382.17,239.23 L383.47,239.06 L384.77,239.03 L386.06,239.05 L387.35,239.11 L388.64,239.29 L389.92,239.22 L391.20,239.16 L392.47,238.83 L393.74,238.95 L395.01,239.02 L396.26,239.25 L397.52,239.37 L398.76,239.23 L400.00,239.19 L401.36,239.02 L402.71,239.04 L404.07,238.73 L405.43,238.67 L406.79,238.67 L408.14,238.66 L409.50,239.00 L410.85,239.09 L412.20,239.09 L413.55,238.95 L414.90,238.86 L416.23,238.65 L417.57,238.93 L418.90,238.72 L420.22,239.04 L421.53,238.99 L422.84,238.74 L424.14,238.74 L425.43,238.91 L426.71,239.06 L427.98,239.21 L429.24,239.24 L430.49,239.05 L431.72,238.89 L432.95,238.61 L434.16,238.78 L435.36,238.99 L436.54,238.74 L437.71,238.85 L438.86,238.89 L440.00,238.85 L441.47,238.77 L442.95,238.70 L444.43,238.58 L445.93,238.75 L447.42,238.55 L448.91,238.61 L450.39,238.84 L451.85,239.05 L453.30,239.17 L454.73,239.27 L456.13,239.00 L457.50,239.12 L458.84,238.66 L460.13,238.50 L461.39,238.83 L462.59,238.73 L463.75,239.00 L464.84,238.59 L465.88,238.60 L466.85,238.46 L467.75,238.74 L468.58,238.77 L469.33,238.99 L470.00,238.58" fill="none" stroke="#27247f" stroke-width="2.3" stroke-linejoin="round" stroke-linecap="butt"/>
<path d="M109.30,28.00 L110.03,28.00 L110.94,27.99 L112.02,27.98 L113.23,27.96 L114.56,27.94 L115.98,27.93 L117.47,27.91 L119.01,27.89 L120.58,27.88 L122.14,27.86 L123.68,27.85 L125.19,27.85 L126.62,27.86 L127.96,27.87 L129.20,27.88 L130.30,28.07 L131.24,27.85 L132.00,27.91 L132.82,28.93 L133.20,30.25 L133.49,30.93 L133.81,31.74 L134.14,32.94 L134.49,33.72 L134.86,35.20 L135.14,36.15 L135.45,37.18 L135.78,38.34 L136.12,39.31 L136.49,40.45 L136.86,41.29 L137.24,42.55 L137.62,43.82 L138.00,45.01 L138.31,45.87 L138.63,47.08 L138.95,48.48 L139.27,49.73 L139.60,50.82 L139.93,52.05 L140.27,52.83 L140.62,54.15 L140.97,55.45 L141.33,56.69 L141.70,57.43 L142.08,58.31 L142.49,59.48 L142.90,60.65 L143.33,62.11 L143.76,63.19 L144.20,64.07 L144.63,65.17 L145.04,66.55 L145.45,67.63 L145.84,68.92 L146.20,69.76 L146.57,70.91 L146.92,72.04 L147.26,73.52 L147.57,74.91 L147.88,76.08 L148.18,77.11 L148.48,78.62 L148.78,79.65 L149.09,80.80 L149.40,82.15 L149.72,83.40 L150.02,84.68 L150.33,85.98 L150.63,87.46 L150.93,88.56 L151.24,89.72 L151.56,90.63 L151.89,92.33 L152.24,93.34 L152.60,94.70 L152.87,95.80 L153.16,97.35 L153.45,98.48 L153.75,99.60 L154.05,100.75 L154.36,102.50 L154.68,103.64 L154.99,104.80 L155.31,106.45 L155.63,107.96 L155.95,108.92 L156.27,110.01 L156.59,111.16 L156.90,112.14 L157.30,113.82 L157.69,114.87 L158.09,116.36 L158.49,117.55 L158.89,118.76 L159.29,119.98 L159.70,120.79 L160.10,121.79 L160.50,122.70 L160.90,123.77 L161.30,125.14 L161.70,126.27 L162.09,127.16 L162.48,128.34 L162.87,129.43 L163.27,130.51 L163.66,131.95 L164.06,132.92 L164.46,134.09 L164.86,135.26 L165.28,136.56 L165.70,137.59 L166.13,138.73 L166.56,139.88 L166.99,141.17 L167.43,142.27 L167.88,143.22 L168.33,144.35 L168.79,145.27 L169.25,146.26 L169.72,147.33 L170.21,148.51 L170.70,149.97 L171.21,150.98 L171.74,152.14 L172.28,153.22 L172.84,154.28 L173.40,155.83 L173.97,157.09 L174.53,157.94 L175.08,158.87 L175.62,160.22 L176.15,161.23 L176.65,162.71 L177.13,163.52 L177.58,164.81 L178.02,166.18 L178.45,167.14 L178.86,167.96 L179.28,169.25 L179.70,170.61 L180.12,171.45 L180.56,172.38 L181.02,173.38 L181.50,174.50 L181.95,175.62 L182.42,176.88 L182.88,178.18 L183.36,179.57 L183.84,180.62 L184.33,181.92 L184.84,183.00 L185.35,184.47 L185.87,185.68 L186.40,186.55 L186.94,187.57 L187.50,188.58 L188.03,189.68 L188.57,191.20 L189.13,192.02 L189.70,193.31 L190.28,194.66 L190.86,195.42 L191.45,196.56 L192.05,197.77 L192.64,198.64 L193.24,199.89 L193.83,200.65 L194.42,201.73 L195.00,202.65 L195.68,203.74 L196.35,205.21 L197.01,206.64 L197.67,207.44 L198.34,208.33 L199.01,209.59 L199.68,210.60 L200.36,211.88 L201.06,212.70 L201.77,213.62 L202.50,214.83 L203.19,216.14 L203.89,216.84 L204.60,218.10 L205.32,219.01 L206.06,219.92 L206.80,221.05 L207.54,222.29 L208.29,223.22 L209.03,224.33 L209.78,224.97 L210.52,225.55 L211.25,226.60 L212.22,227.83 L213.17,228.65 L214.12,229.59 L215.07,230.29 L216.03,230.67 L216.99,231.60 L217.97,232.20 L218.97,233.06 L220.00,233.67 L220.95,234.17 L221.92,235.10 L222.91,235.75 L223.91,236.34 L224.92,236.94 L225.94,237.65 L226.96,238.02 L227.98,238.91 L228.99,239.68 L230.00,240.04 L231.11,240.56 L232.22,241.03 L233.33,241.85 L234.44,242.21 L235.56,242.50 L236.67,243.03 L237.78,243.54 L238.89,243.80 L240.00,244.52 L241.11,244.90 L242.22,244.98 L243.33,245.54 L244.44,246.03 L245.56,246.51 L246.67,246.49 L247.78,246.94 L248.89,247.09 L250.00,247.14 L251.22,247.59 L252.40,247.89 L253.57,248.29 L254.74,248.41 L255.94,248.70 L257.20,248.80 L258.55,248.94 L260.00,249.06 L261.03,249.01 L262.09,249.13 L263.19,249.57 L264.32,249.79 L265.50,249.86 L266.71,249.98 L267.95,250.02 L269.24,250.21 L270.56,249.97 L271.93,250.12 L273.33,250.30 L274.77,250.08 L276.25,250.37 L277.31,250.07 L278.40,249.89 L279.50,249.77 L280.63,249.95 L281.78,249.79 L282.95,250.06 L284.14,249.99 L285.35,249.85 L286.58,250.25 L287.83,250.37 L289.10,250.43 L290.40,250.57 L291.71,250.45 L293.04,250.53 L294.39,250.33 L295.77,250.07 L297.16,250.01 L298.57,250.44 L300.00,250.14 L301.14,250.48 L302.29,250.32 L303.44,250.17 L304.60,250.17 L305.77,250.35 L306.95,250.32 L308.14,250.27 L309.34,250.48 L310.55,250.77 L311.77,250.67 L313.02,250.60 L314.27,250.37 L315.55,250.55 L316.84,250.80 L318.15,250.52 L319.48,250.29 L320.83,250.58 L322.21,250.62 L323.61,250.72 L325.03,250.46 L326.48,250.72 L327.96,250.91 L329.47,250.86 L331.00,250.73 L331.94,250.37 L332.90,250.17 L333.89,250.44 L334.90,250.74 L335.94,250.38 L336.99,250.72 L338.07,250.74 L339.17,250.38 L340.29,250.31 L341.43,250.22 L342.58,250.55 L343.76,250.37 L344.95,250.65 L346.16,250.85 L347.39,250.51 L348.63,250.40 L349.88,250.28 L351.15,250.36 L352.43,250.56 L353.72,250.44 L355.03,250.53 L356.34,250.27 L357.67,250.24 L359.01,250.19 L360.35,250.28 L361.70,250.09 L363.06,250.09 L364.43,250.47 L365.80,250.74 L367.18,250.68 L368.56,250.47 L369.95,250.33 L371.34,250.32 L372.73,250.53 L374.12,250.24 L375.52,250.15 L376.91,250.24 L378.31,250.01 L379.70,250.17 L381.09,250.14 L382.48,250.25 L383.87,250.35 L385.25,250.28 L386.63,250.16 L388.00,250.25 L389.37,250.29 L390.73,250.47 L392.08,250.54 L393.43,250.30 L394.76,250.50 L396.09,250.44 L397.40,250.61 L398.71,250.76 L400.00,250.54 L401.30,250.70 L402.62,250.37 L403.97,250.58 L405.33,250.39 L406.72,250.33 L408.12,250.41 L409.54,250.23 L410.97,250.32 L412.42,250.53 L413.88,250.33 L415.35,250.06 L416.83,250.08 L418.32,249.90 L419.82,250.18 L421.32,250.05 L422.83,250.38 L424.34,250.47 L425.85,250.10 L427.36,250.33 L428.88,250.20 L430.38,250.10 L431.89,250.34 L433.39,250.13 L434.88,249.85 L436.37,250.11 L437.85,250.08 L439.31,250.32 L440.77,250.18 L442.21,250.15 L443.64,250.18 L445.05,250.28 L446.44,250.38 L447.81,250.16 L449.17,250.29 L450.50,250.40 L451.81,250.03 L453.10,249.93 L454.36,249.88 L455.60,249.73 L456.81,250.09 L457.98,249.85 L459.13,249.93 L460.25,250.16 L461.33,249.97 L462.37,250.22 L463.38,250.15 L464.36,249.97 L465.29,250.27 L466.18,250.22 L467.04,250.28 L467.84,249.91 L468.61,249.71 L469.33,250.11 L470.00,250.10" fill="none" stroke="#6c61b2" stroke-width="2.3" stroke-linejoin="round" stroke-linecap="butt"/>
<path d="M109.30,28.00 L110.01,28.00 L110.91,27.99 L111.96,27.98 L113.15,27.96 L114.45,27.94 L115.84,27.93 L117.30,27.91 L118.81,27.89 L120.34,27.88 L121.87,27.86 L123.38,27.85 L124.85,27.85 L126.25,27.86 L127.57,27.87 L128.77,27.88 L129.84,27.91 L130.76,27.83 L131.50,27.80 L132.23,28.35 L132.50,29.59 L132.78,30.55 L133.08,32.09 L133.40,33.74 L133.75,35.22 L133.99,36.19 L134.26,36.97 L134.54,38.10 L134.84,39.68 L135.17,41.14 L135.51,42.35 L135.87,43.55 L136.25,44.70 L136.54,45.62 L136.85,46.81 L137.16,47.81 L137.49,49.39 L137.83,50.79 L138.18,51.75 L138.54,52.93 L138.90,53.79 L139.26,54.93 L139.63,56.10 L140.00,57.10 L140.38,58.12 L140.78,59.22 L141.19,60.80 L141.61,62.16 L142.03,63.48 L142.45,64.52 L142.87,65.54 L143.28,66.53 L143.67,67.60 L144.05,69.01 L144.40,69.86 L144.76,71.07 L145.10,72.38 L145.42,73.55 L145.73,75.18 L146.03,76.63 L146.32,77.43 L146.60,78.81 L146.89,80.02 L147.19,81.44 L147.50,82.46 L147.82,83.60 L148.16,85.12 L148.50,86.35 L148.84,87.78 L149.18,89.08 L149.52,90.36 L149.84,91.54 L150.15,92.74 L150.44,93.88 L150.70,94.76 L151.03,96.19 L151.33,97.64 L151.61,98.64 L151.89,99.75 L152.18,100.86 L152.50,101.87 L152.74,102.71 L152.97,104.17 L153.21,105.11 L153.46,106.10 L153.72,107.46 L154.00,108.42 L154.30,109.58 L154.63,111.31 L155.00,112.71 L155.33,113.95 L155.69,114.98 L156.06,116.13 L156.46,117.22 L156.87,118.35 L157.30,119.29 L157.72,120.47 L158.15,121.49 L158.58,122.47 L158.99,123.47 L159.40,124.70 L159.79,125.86 L160.19,126.88 L160.57,128.26 L160.96,129.38 L161.34,130.57 L161.73,131.94 L162.12,133.02 L162.52,134.24 L162.92,135.30 L163.33,136.26 L163.75,137.37 L164.18,138.77 L164.60,139.82 L165.03,141.01 L165.47,142.38 L165.91,143.48 L166.36,144.52 L166.81,145.78 L167.28,146.79 L167.76,148.04 L168.25,149.07 L168.75,150.03 L169.28,150.86 L169.83,151.98 L170.40,153.37 L170.98,154.58 L171.58,155.48 L172.17,156.86 L172.77,157.93 L173.35,159.06 L173.92,160.46 L174.47,161.65 L175.00,162.75 L175.50,164.04 L175.97,165.01 L176.42,166.14 L176.86,167.00 L177.29,167.89 L177.71,169.30 L178.14,170.16 L178.58,171.39 L179.03,172.69 L179.50,173.86 L180.00,174.78 L180.44,176.17 L180.88,177.38 L181.33,178.51 L181.79,179.56 L182.26,180.61 L182.73,181.79 L183.21,182.73 L183.70,183.59 L184.19,184.80 L184.70,185.96 L185.21,187.29 L185.72,188.34 L186.25,189.19 L186.79,190.26 L187.34,191.60 L187.90,192.54 L188.47,193.57 L189.04,195.03 L189.63,195.97 L190.22,197.39 L190.81,198.28 L191.40,199.28 L191.99,200.82 L192.58,201.63 L193.17,202.52 L193.75,203.97 L194.37,204.87 L195.00,205.92 L195.62,207.28 L196.25,208.32 L196.87,209.09 L197.50,210.54 L198.12,211.21 L198.75,212.07 L199.38,212.98 L200.00,213.88 L200.62,215.27 L201.25,216.45 L201.99,217.37 L202.73,218.18 L203.46,219.55 L204.19,220.21 L204.92,221.22 L205.66,222.05 L206.41,223.44 L207.17,224.33 L207.95,225.41 L208.75,226.14 L209.50,227.05 L210.26,228.12 L211.05,228.86 L211.84,229.75 L212.64,230.95 L213.45,232.02 L214.27,232.83 L215.08,233.67 L215.89,234.60 L216.70,235.37 L217.50,236.18 L218.47,237.40 L219.44,238.35 L220.42,239.06 L221.39,239.77 L222.36,240.90 L223.33,241.34 L224.31,241.87 L225.28,242.61 L226.25,243.63 L227.22,244.60 L228.17,245.15 L229.12,246.10 L230.07,246.57 L231.03,247.49 L231.99,248.26 L232.97,248.76 L233.97,249.46 L235.00,250.01 L236.06,250.87 L237.14,251.49 L238.24,252.21 L239.36,252.81 L240.49,252.95 L241.62,253.76 L242.75,253.99 L243.88,254.37 L245.00,254.69 L246.11,255.37 L247.22,255.54 L248.33,256.28 L249.44,256.60 L250.56,257.07 L251.67,257.44 L252.78,257.45 L253.89,257.63 L255.00,258.14 L256.24,258.37 L257.47,258.93 L258.70,258.78 L259.92,259.28 L261.16,259.70 L262.41,260.05 L263.69,260.08 L265.00,259.93 L266.17,260.08 L267.33,260.49 L268.49,260.51 L269.66,260.42 L270.86,260.47 L272.11,260.87 L273.42,261.16 L274.79,261.03 L276.25,261.26 L277.24,261.34 L278.27,261.68 L279.35,261.70 L280.46,261.81 L281.61,261.41 L282.80,261.28 L284.02,261.49 L285.28,261.33 L286.57,261.25 L287.90,261.58 L289.26,261.96 L290.64,261.64 L292.06,261.92 L293.51,261.99 L294.98,262.19 L296.48,262.21 L298.00,262.21 L298.91,262.21 L299.86,261.98 L300.84,261.86 L301.87,261.69 L302.93,261.92 L304.03,261.85 L305.15,262.19 L306.31,261.95 L307.50,261.90 L308.72,261.99 L309.96,261.73 L311.23,262.08 L312.52,262.22 L313.84,261.95 L315.17,262.08 L316.52,261.77 L317.88,261.80 L319.26,262.08 L320.66,262.26 L322.06,262.42 L323.47,262.01 L324.90,262.10 L326.32,262.04 L327.76,261.92 L329.19,261.74 L330.63,262.15 L332.07,261.85 L333.50,262.01 L334.93,262.20 L336.36,262.12 L337.78,262.18 L339.19,261.84 L340.59,261.79 L341.98,261.77 L343.36,261.76 L344.72,262.11 L346.06,261.77 L347.38,262.05 L348.69,261.90 L349.97,261.80 L351.23,261.86 L352.46,261.75 L353.67,261.95 L354.85,262.13 L356.00,262.34 L357.49,262.08 L358.96,262.14 L360.41,261.88 L361.84,262.12 L363.26,262.00 L364.65,262.15 L366.03,262.30 L367.40,262.39 L368.75,262.23 L370.09,262.10 L371.41,262.30 L372.73,262.41 L374.03,261.97 L375.31,262.10 L376.59,262.07 L377.86,261.83 L379.12,261.90 L380.38,261.79 L381.63,261.66 L382.87,261.78 L384.10,261.65 L385.33,261.90 L386.56,262.14 L387.78,261.83 L389.00,261.86 L390.22,261.75 L391.44,262.09 L392.65,261.93 L393.87,261.88 L395.09,261.63 L396.31,261.42 L397.54,261.88 L398.77,262.00 L400.00,261.94 L401.36,261.75 L402.71,261.52 L404.07,261.46 L405.43,261.54 L406.79,261.79 L408.14,261.98 L409.50,262.04 L410.85,261.83 L412.20,261.99 L413.55,261.62 L414.90,261.51 L416.23,261.67 L417.57,261.44 L418.90,261.56 L420.22,261.63 L421.53,261.55 L422.84,261.69 L424.14,261.32 L425.43,261.19 L426.71,261.51 L427.98,261.39 L429.24,261.41 L430.49,261.17 L431.72,261.47 L432.95,261.43 L434.16,261.65 L435.36,261.31 L436.54,261.46 L437.71,261.30 L438.86,261.01 L440.00,261.16 L441.47,261.05 L442.95,260.95 L444.43,260.81 L445.93,261.16 L447.42,261.32 L448.91,261.02 L450.39,260.80 L451.85,261.05 L453.30,261.16 L454.73,261.33 L456.13,261.28 L457.50,261.40 L458.84,261.09 L460.13,260.80 L461.39,260.67 L462.59,260.98 L463.75,260.93 L464.84,260.79 L465.88,260.69 L466.85,260.87 L467.75,261.03 L468.58,261.00 L469.33,261.12 L470.00,260.80" fill="none" stroke="#962f92" stroke-width="2.3" stroke-linejoin="round" stroke-linecap="butt"/>
<rect x="104.2" y="8.3" width="389.0" height="289.2" fill="none" stroke="#222222" stroke-width="2.2"/>
<path d="M109.80,297.5 v6.6 M109.80,8.3 v6.6 M139.72,297.5 v3.9 M139.72,8.3 v3.9 M169.63,297.5 v6.6 M169.63,8.3 v6.6 M199.55,297.5 v3.9 M199.55,8.3 v3.9 M229.47,297.5 v6.6 M229.47,8.3 v6.6 M259.39,297.5 v3.9 M259.39,8.3 v3.9 M289.31,297.5 v6.6 M289.31,8.3 v6.6 M319.22,297.5 v3.9 M319.22,8.3 v3.9 M349.14,297.5 v6.6 M349.14,8.3 v6.6 M379.06,297.5 v3.9 M379.06,8.3 v3.9 M408.98,297.5 v6.6 M408.98,8.3 v6.6 M438.89,297.5 v3.9 M438.89,8.3 v3.9 M468.81,297.5 v6.6 M468.81,8.3 v6.6 M104.2,297.38 h-3.9 M493.2,297.38 h-3.9 M104.2,273.25 h-6.6 M493.2,273.25 h-6.6 M104.2,249.12 h-3.9 M493.2,249.12 h-3.9 M104.2,225.00 h-6.6 M493.2,225.00 h-6.6 M104.2,200.88 h-3.9 M493.2,200.88 h-3.9 M104.2,176.75 h-6.6 M493.2,176.75 h-6.6 M104.2,152.62 h-3.9 M493.2,152.62 h-3.9 M104.2,128.50 h-6.6 M493.2,128.50 h-6.6 M104.2,104.38 h-3.9 M493.2,104.38 h-3.9 M104.2,80.25 h-6.6 M493.2,80.25 h-6.6 M104.2,56.12 h-3.9 M493.2,56.12 h-3.9 M104.2,32.00 h-6.6 M493.2,32.00 h-6.6 M104.2,7.88 h-3.9 M493.2,7.88 h-3.9" fill="none" stroke="#222222" stroke-width="2.2"/>
<text x="93.5" y="280.45" font-family='"Liberation Sans", sans-serif' font-size="21.2" font-weight="bold" fill="#222222" text-anchor="end" textLength="61.5" lengthAdjust="spacingAndGlyphs">10000</text>
<text x="93.5" y="232.2" font-family='"Liberation Sans", sans-serif' font-size="21.2" font-weight="bold" fill="#222222" text-anchor="end" textLength="61.5" lengthAdjust="spacingAndGlyphs">20000</text>
<text x="93.5" y="183.95" font-family='"Liberation Sans", sans-serif' font-size="21.2" font-weight="bold" fill="#222222" text-anchor="end" textLength="61.5" lengthAdjust="spacingAndGlyphs">30000</text>
<text x="93.5" y="135.7" font-family='"Liberation Sans", sans-serif' font-size="21.2" font-weight="bold" fill="#222222" text-anchor="end" textLength="61.5" lengthAdjust="spacingAndGlyphs">40000</text>
<text x="93.5" y="87.45" font-family='"Liberation Sans", sans-serif' font-size="21.2" font-weight="bold" fill="#222222" text-anchor="end" textLength="61.5" lengthAdjust="spacingAndGlyphs">50000</text>
<text x="93.5" y="39.2" font-family='"Liberation Sans", sans-serif' font-size="21.2" font-weight="bold" fill="#222222" text-anchor="end" textLength="61.5" lengthAdjust="spacingAndGlyphs">60000</text>
<text x="109.8" y="324.5" font-family='"Liberation Sans", sans-serif' font-size="21.2" font-weight="bold" fill="#222222" text-anchor="middle" textLength="11.8" lengthAdjust="spacingAndGlyphs">0</text>
<text x="169.63" y="324.5" font-family='"Liberation Sans", sans-serif' font-size="21.2" font-weight="bold" fill="#222222" text-anchor="middle" textLength="24.2" lengthAdjust="spacingAndGlyphs">50</text>
<text x="229.47" y="324.5" font-family='"Liberation Sans", sans-serif' font-size="21.2" font-weight="bold" fill="#222222" text-anchor="middle" textLength="36.5" lengthAdjust="spacingAndGlyphs">100</text>
<text x="289.31" y="324.5" font-family='"Liberation Sans", sans-serif' font-size="21.2" font-weight="bold" fill="#222222" text-anchor="middle" textLength="36.5" lengthAdjust="spacingAndGlyphs">150</text>
<text x="349.14" y="324.5" font-family='"Liberation Sans", sans-serif' font-size="21.2" font-weight="bold" fill="#222222" text-anchor="middle" textLength="36.5" lengthAdjust="spacingAndGlyphs">200</text>
<text x="408.98" y="324.5" font-family='"Liberation Sans", sans-serif' font-size="21.2" font-weight="bold" fill="#222222" text-anchor="middle" textLength="36.5" lengthAdjust="spacingAndGlyphs">250</text>
<text x="468.81" y="324.5" font-family='"Liberation Sans", sans-serif' font-size="21.2" font-weight="bold" fill="#222222" text-anchor="middle" textLength="36.5" lengthAdjust="spacingAndGlyphs">300</text>
<text x="298.3" y="354.4" font-family='"Liberation Sans", sans-serif' font-size="21.5" font-weight="bold" fill="#222222" text-anchor="middle" textLength="83.8" lengthAdjust="spacingAndGlyphs">Time (s)</text>
<text transform="translate(23.2,152.8) rotate(-90)" font-family='"Liberation Sans", sans-serif' font-size="22" font-weight="bold" fill="#222222" text-anchor="middle" textLength="262" lengthAdjust="spacingAndGlyphs">Intensity (Photon Count)</text>
<text x="148.1" y="40.6" font-family='"Liberation Sans", sans-serif' font-size="16.3" font-weight="bold" fill="#222222" text-anchor="start" textLength="147.9" lengthAdjust="spacingAndGlyphs">POD: 0.001 mg/ml</text>
<text x="473.3" y="111.6" font-family='"Liberation Sans", sans-serif' font-size="16.5" font-weight="bold" fill="#222222" text-anchor="start" textLength="9.36" lengthAdjust="spacingAndGlyphs">a</text>
<text x="474" y="139" font-family='"Liberation Sans", sans-serif' font-size="16.5" font-weight="bold" fill="#222222" text-anchor="start" textLength="10.28" lengthAdjust="spacingAndGlyphs">b</text>
<text x="474" y="182" font-family='"Liberation Sans", sans-serif' font-size="16.5" font-weight="bold" fill="#222222" text-anchor="start" textLength="9.36" lengthAdjust="spacingAndGlyphs">c</text>
<text x="474" y="205.5" font-family='"Liberation Sans", sans-serif' font-size="16.5" font-weight="bold" fill="#222222" text-anchor="start" textLength="10.28" lengthAdjust="spacingAndGlyphs">d</text>
<text x="474" y="226.5" font-family='"Liberation Sans", sans-serif' font-size="16.5" font-weight="bold" fill="#222222" text-anchor="start" textLength="9.36" lengthAdjust="spacingAndGlyphs">e</text>
<text x="475" y="243" font-family='"Liberation Sans", sans-serif' font-size="16.5" font-weight="bold" fill="#222222" text-anchor="start" textLength="5.6" lengthAdjust="spacingAndGlyphs">f</text>
<text x="474.5" y="254.5" font-family='"Liberation Sans", sans-serif' font-size="16.5" font-weight="bold" fill="#222222" text-anchor="start" textLength="10.28" lengthAdjust="spacingAndGlyphs">g</text>
<text x="474.5" y="275" font-family='"Liberation Sans", sans-serif' font-size="16.5" font-weight="bold" fill="#222222" text-anchor="start" textLength="10.28" lengthAdjust="spacingAndGlyphs">h</text>
<text x="251.3" y="396.3" font-family='"Liberation Serif", serif' font-size="27.6" fill="#111" text-anchor="middle">(<tspan font-weight="bold">a</tspan>)</text>
</g>
<g>
<path d="M634.50,26.30 L635.20,26.30 L636.03,26.30 L636.99,26.30 L638.06,26.29 L639.22,26.29 L640.48,26.29 L641.81,26.28 L643.21,26.28 L644.66,26.28 L646.15,26.27 L647.68,26.27 L649.22,26.26 L650.78,26.26 L652.33,26.32 L653.87,26.35 L655.38,26.58 L656.86,26.38 L658.29,26.15 L659.66,26.03 L660.96,25.91 L662.17,25.86 L663.30,26.20 L664.32,26.16 L665.22,25.93 L666.00,26.13 L667.08,26.27 L668.01,26.71 L668.93,26.54 L670.00,26.69 L670.96,27.10 L672.11,27.23 L673.40,27.28 L674.78,27.63 L676.20,28.06 L677.60,28.15 L678.95,28.86 L680.18,28.93 L681.25,29.07 L682.50,29.84 L683.65,30.07 L684.72,30.27 L685.71,30.64 L686.64,31.07 L687.50,31.82 L688.43,32.96 L689.24,34.02 L689.96,35.29 L690.62,36.30 L691.25,37.28 L691.88,38.22 L692.40,38.92 L692.97,39.32 L693.75,40.07 L694.58,40.23 L695.55,40.57 L696.60,41.27 L697.69,41.63 L698.75,42.25 L699.48,43.06 L700.28,44.11 L701.14,44.65 L702.04,45.61 L702.97,46.37 L703.91,47.55 L704.85,48.68 L705.77,49.74 L706.66,50.71 L707.50,51.40 L708.40,52.31 L709.30,52.98 L710.19,53.83 L711.06,54.54 L711.91,55.71 L712.73,56.53 L713.53,57.26 L714.28,58.03 L715.00,58.62 L715.85,59.63 L716.61,61.01 L717.32,61.94 L717.99,62.93 L718.64,64.33 L719.31,65.25 L720.00,66.05 L720.71,67.12 L721.43,68.05 L722.14,68.98 L722.86,70.17 L723.57,70.99 L724.29,71.81 L725.00,72.53 L725.80,73.23 L726.57,74.19 L727.34,75.14 L728.15,76.42 L729.02,77.51 L730.00,78.40 L730.94,79.17 L731.96,79.84 L733.04,80.37 L734.15,81.41 L735.28,81.72 L736.41,82.55 L737.50,82.90 L738.59,83.77 L739.72,84.12 L740.85,84.75 L741.96,85.26 L743.04,85.84 L744.06,86.28 L745.00,86.62 L746.32,86.62 L747.48,86.43 L748.65,86.29 L750.00,86.30 L751.07,86.36 L752.20,85.97 L753.41,85.34 L754.69,85.12 L756.05,84.83 L757.50,84.58 L758.55,84.25 L759.70,83.91 L760.91,83.90 L762.15,83.26 L763.41,82.89 L764.65,82.99 L765.84,82.67 L766.97,82.74 L768.00,82.16 L769.35,81.83 L770.60,81.79 L771.77,81.55 L772.88,81.25 L773.95,81.08 L775.00,81.01 L776.24,80.86 L777.45,80.72 L778.59,80.08 L779.62,79.85 L780.50,79.89 L781.46,80.25 L782.23,80.58 L783.00,81.53 L783.77,82.25 L784.54,83.16 L785.50,84.18 L786.26,84.66 L787.11,85.09 L788.03,85.52 L789.00,86.28 L790.00,87.02 L791.00,87.64 L792.03,88.26 L793.11,88.65 L794.26,89.28 L795.50,89.61 L796.63,89.60 L797.85,89.75 L799.12,90.12 L800.43,90.37 L801.73,90.34 L803.00,90.53 L804.25,91.02 L805.50,91.12 L806.75,91.34 L808.00,91.29 L809.25,91.04 L810.50,91.32 L811.72,90.97 L812.91,90.72 L814.09,90.76 L815.31,90.74 L816.61,90.41 L818.00,90.32 L819.13,90.26 L820.32,90.41 L821.57,90.35 L822.84,90.52 L824.14,90.57 L825.44,90.98 L826.73,91.50 L828.00,91.66 L829.25,91.84 L830.50,91.86 L831.75,92.03 L833.00,92.27 L834.25,92.45 L835.50,92.26 L836.75,92.32 L838.00,92.13 L839.27,92.06 L840.56,92.13 L841.86,91.86 L843.16,91.79 L844.43,91.48 L845.68,91.68 L846.87,91.41 L848.00,91.26 L849.36,91.40 L850.57,91.25 L851.71,91.11 L852.86,91.14 L854.10,90.96 L855.50,90.56 L856.55,90.68 L857.68,90.38 L858.88,90.11 L860.14,90.48 L861.44,90.48 L862.76,90.39 L864.09,90.41 L865.42,90.17 L866.73,90.44 L868.00,90.35 L869.25,90.06 L870.52,90.38 L871.78,90.20 L873.05,90.27 L874.31,90.16 L875.57,90.28 L876.82,90.40 L878.06,90.25 L879.29,90.16 L880.50,89.84 L881.82,89.66 L883.13,89.89 L884.43,90.00 L885.71,90.16 L886.98,90.05 L888.24,90.03 L889.50,89.97 L890.75,90.26 L892.00,90.26 L893.26,90.26 L894.54,90.21 L895.81,90.41 L897.09,90.54 L898.34,90.58 L899.57,90.89 L900.77,91.23 L901.91,91.55 L903.00,91.62 L904.31,91.88 L905.53,91.81 L906.69,91.92 L907.80,92.10 L908.87,92.45 L909.94,92.56 L911.00,92.66 L912.22,93.09 L913.39,93.37 L914.53,93.58 L915.67,93.91 L916.82,94.04 L918.00,94.01 L919.21,94.36 L920.43,94.45 L921.66,94.34 L922.91,94.61 L924.19,94.97 L925.50,94.77 L926.66,95.12 L927.84,94.74 L929.05,94.71 L930.27,94.43 L931.51,94.47 L932.75,94.25 L934.00,94.30 L935.23,93.89 L936.45,93.92 L937.66,93.79 L938.91,93.51 L940.20,93.51 L941.55,93.14 L943.00,92.88 L944.07,93.02 L945.19,93.00 L946.35,93.12 L947.54,93.30 L948.75,93.37 L949.98,93.12 L951.23,92.97 L952.49,92.81 L953.75,93.04 L955.00,92.78 L956.14,92.89 L957.29,92.70 L958.45,92.59 L959.61,92.58 L960.79,92.78 L961.97,92.96 L963.16,93.09 L964.36,93.17 L965.56,93.48 L966.78,93.53 L968.00,93.24 L969.24,93.54 L970.50,93.66 L971.77,93.38 L973.06,93.48 L974.35,93.88 L975.65,94.00 L976.94,93.96 L978.23,94.17 L979.50,94.40 L980.76,94.24 L982.00,93.96 L983.27,94.21 L984.60,94.23 L985.97,94.61 L987.35,94.71 L988.71,94.80 L990.03,94.84 L991.27,95.00 L992.42,94.94 L993.44,94.87 L994.31,95.09 L995.00,94.79" fill="none" stroke="#1d1d1d" stroke-width="2.3" stroke-linejoin="round" stroke-linecap="butt"/>
<path d="M634.50,26.30 L635.22,26.30 L636.08,26.30 L637.08,26.29 L638.20,26.29 L639.42,26.28 L640.73,26.27 L642.13,26.26 L643.58,26.25 L645.09,26.24 L646.64,26.24 L648.21,26.23 L649.79,26.22 L651.37,26.22 L652.93,26.00 L654.46,25.87 L655.95,25.89 L657.38,26.13 L658.74,26.37 L660.01,26.30 L661.19,26.27 L662.26,26.15 L663.20,26.03 L664.00,26.45 L665.14,26.55 L666.13,26.92 L667.05,27.30 L668.00,27.94 L668.80,28.41 L669.59,28.73 L670.38,29.40 L671.18,30.37 L672.00,31.20 L672.66,31.94 L673.36,33.07 L674.07,34.16 L674.80,35.20 L675.54,36.13 L676.28,37.01 L677.00,38.08 L677.71,38.94 L678.41,39.84 L679.12,40.90 L679.82,42.23 L680.53,43.26 L681.26,44.46 L682.00,45.36 L682.75,46.16 L683.51,47.31 L684.28,48.15 L685.06,49.52 L685.86,50.43 L686.67,51.70 L687.50,52.80 L688.16,53.44 L688.84,54.12 L689.53,55.01 L690.23,56.13 L690.93,57.50 L691.64,58.62 L692.35,59.65 L693.05,60.50 L693.75,61.64 L694.52,62.59 L695.28,63.46 L696.04,64.29 L696.80,64.87 L697.56,65.85 L698.35,66.97 L699.16,67.85 L700.00,69.04 L700.78,69.91 L701.58,70.76 L702.41,71.51 L703.25,72.40 L704.10,73.19 L704.95,73.65 L705.81,74.65 L706.66,75.39 L707.50,76.29 L708.42,77.10 L709.32,77.59 L710.20,78.28 L711.09,79.13 L712.00,80.09 L712.95,80.90 L713.94,81.72 L715.00,82.31 L715.82,82.98 L716.70,83.93 L717.61,85.01 L718.56,85.45 L719.52,86.16 L720.48,87.34 L721.44,88.13 L722.39,89.01 L723.30,89.82 L724.18,90.57 L725.00,91.23 L725.94,92.22 L726.83,92.81 L727.69,93.99 L728.50,94.80 L729.30,95.55 L730.09,96.21 L730.88,96.90 L731.68,97.87 L732.50,98.69 L733.42,99.43 L734.32,100.22 L735.20,100.97 L736.09,101.83 L737.00,102.66 L737.95,103.48 L738.94,103.83 L740.00,104.35 L740.89,105.20 L741.80,105.65 L742.74,106.50 L743.70,107.06 L744.69,107.55 L745.70,108.53 L746.74,109.42 L747.80,110.22 L748.89,111.03 L750.00,111.30 L750.95,111.89 L751.94,112.44 L752.95,112.92 L753.98,113.84 L755.03,114.45 L756.09,115.08 L757.17,115.54 L758.24,116.05 L759.32,116.88 L760.39,117.48 L761.45,117.84 L762.50,118.57 L763.64,119.39 L764.77,119.81 L765.91,120.68 L767.05,121.10 L768.18,122.08 L769.32,122.38 L770.45,122.82 L771.59,123.36 L772.73,124.29 L773.86,125.09 L775.00,125.85 L776.14,126.52 L777.27,126.74 L778.41,127.28 L779.55,127.93 L780.68,128.31 L781.82,129.08 L782.95,129.37 L784.09,129.62 L785.23,130.06 L786.36,130.51 L787.50,131.16 L788.64,131.45 L789.77,131.96 L790.91,132.49 L792.05,132.85 L793.18,133.22 L794.32,133.64 L795.45,133.89 L796.59,134.48 L797.73,134.68 L798.86,135.25 L800.00,135.77 L801.27,135.85 L802.56,136.26 L803.87,136.59 L805.18,136.90 L806.48,137.03 L807.77,137.54 L809.03,137.69 L810.24,138.22 L811.40,138.60 L812.50,138.69 L814.00,139.15 L815.47,139.46 L816.89,139.70 L818.21,139.81 L819.40,140.43 L820.42,140.79 L821.25,140.79 L822.01,141.71 L822.50,142.46 L823.13,142.26 L824.00,141.52 L824.82,141.23 L825.84,141.13 L826.94,141.57 L828.00,141.70 L828.96,141.80 L829.89,141.70 L830.88,141.81 L832.00,142.19 L832.91,142.35 L833.95,142.69 L835.11,142.73 L836.35,143.05 L837.66,143.08 L839.00,143.48 L840.35,143.57 L841.70,143.64 L843.00,143.55 L844.16,143.50 L845.32,143.81 L846.49,143.99 L847.68,144.05 L848.88,144.37 L850.08,144.30 L851.29,144.43 L852.52,144.64 L853.75,144.26 L855.00,144.54 L856.13,144.44 L857.25,144.33 L858.37,144.38 L859.49,144.29 L860.62,144.40 L861.76,144.74 L862.94,145.00 L864.14,145.13 L865.38,145.28 L866.66,145.24 L868.00,145.22 L869.09,145.09 L870.21,145.03 L871.36,145.31 L872.54,145.51 L873.74,145.52 L874.95,145.61 L876.19,145.57 L877.43,145.47 L878.69,145.37 L879.95,145.25 L881.22,145.43 L882.48,145.26 L883.75,145.35 L885.00,145.48 L886.27,145.75 L887.57,145.78 L888.90,145.98 L890.24,146.13 L891.60,145.93 L892.96,146.13 L894.31,146.39 L895.65,146.47 L896.97,146.60 L898.27,146.28 L899.52,146.36 L900.73,146.53 L901.90,146.30 L903.00,146.55 L904.38,146.58 L905.65,146.18 L906.84,146.07 L907.98,146.26 L909.08,146.40 L910.18,146.32 L911.29,146.36 L912.45,146.21 L913.68,146.05 L915.00,145.72 L916.16,145.72 L917.33,145.76 L918.54,145.58 L919.76,145.36 L921.01,145.12 L922.28,144.96 L923.58,145.33 L924.91,145.00 L926.26,144.89 L927.64,145.16 L929.06,145.22 L930.50,145.21 L931.61,144.95 L932.76,144.93 L933.93,145.00 L935.13,145.15 L936.35,144.77 L937.59,145.02 L938.84,144.69 L940.09,144.51 L941.36,144.54 L942.62,144.60 L943.88,144.78 L945.14,144.53 L946.38,144.46 L947.61,144.44 L948.82,144.31 L950.00,144.32 L951.31,144.27 L952.59,144.67 L953.83,144.35 L955.04,144.66 L956.24,144.42 L957.44,144.30 L958.64,144.57 L959.86,144.55 L961.10,144.62 L962.38,144.62 L963.69,144.62 L965.06,144.35 L966.50,144.07 L968.00,144.16 L969.12,143.89 L970.33,143.95 L971.62,143.82 L972.98,143.94 L974.39,143.88 L975.85,143.70 L977.33,143.80 L978.84,143.78 L980.36,144.03 L981.87,144.27 L983.37,144.20 L984.85,144.17 L986.28,143.93 L987.67,143.83 L988.99,143.67 L990.24,143.91 L991.41,143.91 L992.48,143.77 L993.44,143.87 L994.29,143.98 L995.00,143.92" fill="none" stroke="#df2f2d" stroke-width="2.3" stroke-linejoin="round" stroke-linecap="butt"/>
<path d="M634.10,26.30 L634.80,26.30 L635.64,26.30 L636.60,26.30 L637.67,26.29 L638.85,26.29 L640.11,26.29 L641.45,26.29 L642.86,26.28 L644.32,26.28 L645.82,26.28 L647.36,26.27 L648.91,26.27 L650.48,26.27 L652.03,26.06 L653.58,26.23 L655.09,26.44 L656.57,26.36 L658.00,26.16 L659.36,26.28 L660.65,26.40 L661.86,26.64 L662.97,26.25 L663.97,26.49 L664.85,26.44 L665.60,26.55 L666.98,26.38 L668.10,26.80 L668.91,26.98 L669.60,27.66 L670.16,28.17 L670.83,28.55 L671.57,29.53 L672.34,30.40 L673.10,31.54 L673.73,32.28 L674.38,33.27 L675.04,34.21 L675.71,35.51 L676.40,36.33 L677.10,37.70 L677.60,38.62 L678.10,39.59 L678.60,40.83 L679.12,42.01 L679.65,42.72 L680.21,43.63 L680.80,45.11 L681.43,46.12 L682.10,47.27 L682.69,48.16 L683.33,49.43 L684.00,50.41 L684.70,51.73 L685.41,52.61 L686.13,53.41 L686.86,54.73 L687.58,55.54 L688.28,56.46 L688.96,57.89 L689.60,59.06 L690.28,60.07 L690.93,60.86 L691.57,61.65 L692.19,62.49 L692.80,63.86 L693.41,64.97 L694.01,66.06 L694.62,66.83 L695.23,68.07 L695.85,68.84 L696.47,69.50 L697.08,70.85 L697.69,71.60 L698.29,72.54 L698.90,73.57 L699.51,74.75 L700.13,75.56 L700.77,76.48 L701.42,77.84 L702.10,79.05 L702.73,79.92 L703.39,80.79 L704.06,81.78 L704.74,82.68 L705.42,83.88 L706.12,84.66 L706.82,85.83 L707.52,86.87 L708.22,88.18 L708.91,89.16 L709.60,90.27 L710.35,91.42 L711.10,92.37 L711.85,93.13 L712.60,93.98 L713.35,94.91 L714.10,95.96 L714.85,97.45 L715.60,98.47 L716.35,99.77 L717.10,100.81 L717.79,101.56 L718.50,102.36 L719.21,103.44 L719.93,104.47 L720.65,105.39 L721.36,106.37 L722.06,107.49 L722.73,108.79 L723.39,109.84 L724.01,110.34 L724.60,111.00 L725.38,111.98 L726.09,113.15 L726.74,114.15 L727.39,115.04 L728.05,116.02 L728.78,116.99 L729.60,117.76 L730.23,118.79 L730.88,119.84 L731.54,120.67 L732.23,121.35 L732.95,122.25 L733.70,123.36 L734.48,124.49 L735.31,125.71 L736.18,126.34 L737.10,127.55 L737.80,128.15 L738.55,129.16 L739.34,129.88 L740.17,131.16 L741.04,132.11 L741.92,133.25 L742.82,133.87 L743.73,135.19 L744.63,136.21 L745.53,137.12 L746.41,138.29 L747.26,138.88 L748.08,139.54 L748.87,140.69 L749.60,141.57 L750.66,142.46 L751.70,143.02 L752.72,143.88 L753.72,144.57 L754.70,145.15 L755.65,145.86 L756.58,146.49 L757.48,147.20 L758.35,147.72 L759.53,148.50 L760.60,149.12 L761.61,149.80 L762.64,150.68 L763.75,151.15 L765.00,151.69 L765.95,152.60 L766.95,152.81 L767.99,153.72 L769.08,154.10 L770.20,154.90 L771.36,155.47 L772.55,155.84 L773.76,156.24 L775.00,157.21 L776.04,157.64 L777.12,157.94 L778.23,158.62 L779.36,159.04 L780.51,159.88 L781.68,160.77 L782.85,161.46 L784.02,161.79 L785.19,162.26 L786.35,162.56 L787.50,163.09 L788.64,163.50 L789.77,164.20 L790.91,164.59 L792.05,164.76 L793.18,165.42 L794.32,165.94 L795.45,166.30 L796.59,166.56 L797.73,166.77 L798.86,167.06 L800.00,167.31 L801.25,168.06 L802.49,168.32 L803.73,168.50 L804.98,169.05 L806.22,169.60 L807.46,169.74 L808.71,169.96 L809.97,170.46 L811.23,170.69 L812.50,170.81 L813.68,170.91 L814.89,171.13 L816.13,171.71 L817.38,171.74 L818.63,172.19 L819.87,172.62 L821.08,172.82 L822.27,173.28 L823.40,173.38 L824.49,173.38 L825.50,173.82 L826.88,173.72 L828.15,173.95 L829.34,174.42 L830.49,174.61 L831.63,174.83 L832.79,175.08 L834.00,174.91 L835.23,175.10 L836.45,174.88 L837.66,175.28 L838.91,175.11 L840.20,175.18 L841.55,175.11 L843.00,175.40 L844.07,175.28 L845.19,175.51 L846.35,175.95 L847.54,176.10 L848.75,176.36 L849.98,176.37 L851.23,176.53 L852.49,176.71 L853.75,176.51 L855.00,176.48 L856.13,176.59 L857.25,176.75 L858.37,176.98 L859.49,176.69 L860.62,176.86 L861.76,176.71 L862.94,176.55 L864.14,176.86 L865.38,176.63 L866.66,176.90 L868.00,177.24 L869.08,177.05 L870.19,177.04 L871.32,177.31 L872.46,177.12 L873.63,177.15 L874.82,177.16 L876.03,177.34 L877.26,177.34 L878.51,177.22 L879.77,177.01 L881.05,177.17 L882.35,177.24 L883.67,177.52 L885.00,177.67 L886.19,177.59 L887.40,177.67 L888.64,177.51 L889.90,177.28 L891.18,176.95 L892.48,176.91 L893.78,177.24 L895.09,177.37 L896.41,177.54 L897.73,177.05 L899.05,177.37 L900.36,176.96 L901.67,177.01 L902.96,176.73 L904.24,176.89 L905.50,176.72 L906.75,176.81 L908.00,176.60 L909.24,176.42 L910.48,176.36 L911.72,176.79 L912.95,177.04 L914.18,176.59 L915.41,176.43 L916.63,176.63 L917.84,176.58 L919.05,176.46 L920.25,176.56 L921.45,176.58 L922.64,176.65 L923.82,176.76 L925.00,176.81 L926.32,176.28 L927.59,175.96 L928.83,176.04 L930.05,176.27 L931.25,175.88 L932.45,175.89 L933.66,175.68 L934.87,175.61 L936.12,175.53 L937.39,175.63 L938.71,175.58 L940.07,175.83 L941.50,175.76 L943.00,175.67 L944.09,175.85 L945.21,175.96 L946.35,175.89 L947.52,176.06 L948.71,175.62 L949.92,175.74 L951.15,175.70 L952.40,175.59 L953.66,175.74 L954.94,175.66 L956.22,175.53 L957.52,175.35 L958.82,175.40 L960.13,175.24 L961.45,175.43 L962.76,175.46 L964.07,175.67 L965.39,175.88 L966.70,175.46 L968.00,175.35 L969.27,175.65 L970.60,175.86 L971.99,175.98 L973.41,175.54 L974.87,175.70 L976.36,175.57 L977.85,175.83 L979.35,175.65 L980.85,175.59 L982.33,175.85 L983.79,175.45 L985.21,175.21 L986.60,175.48 L987.93,175.59 L989.20,175.67 L990.39,175.75 L991.51,175.53 L992.54,175.58 L993.47,175.42 L994.30,175.19 L995.00,175.35" fill="none" stroke="#3451a6" stroke-width="2.3" stroke-linejoin="round" stroke-linecap="butt"/>
<path d="M634.50,26.30 L635.20,26.30 L636.04,26.30 L637.00,26.30 L638.07,26.29 L639.25,26.29 L640.51,26.29 L641.85,26.29 L643.26,26.28 L644.72,26.28 L646.22,26.28 L647.76,26.27 L649.31,26.27 L650.88,26.27 L652.43,26.19 L653.98,26.38 L655.49,26.59 L656.97,26.51 L658.40,26.13 L659.76,26.29 L661.05,26.51 L662.26,26.65 L663.37,26.53 L664.37,26.69 L665.25,26.28 L666.00,26.05 L667.38,26.31 L668.50,26.68 L669.31,26.94 L670.00,27.20 L670.56,27.91 L671.23,28.85 L671.97,29.72 L672.74,30.84 L673.50,31.57 L674.13,32.44 L674.78,33.10 L675.44,34.29 L676.11,35.28 L676.80,36.54 L677.50,37.84 L678.00,38.60 L678.50,39.40 L679.00,40.63 L679.52,41.92 L680.05,42.69 L680.61,43.82 L681.20,44.93 L681.83,46.30 L682.50,47.77 L683.09,48.47 L683.73,49.60 L684.40,50.85 L685.10,51.61 L685.81,52.71 L686.53,53.58 L687.26,54.92 L687.98,55.89 L688.68,56.56 L689.36,57.89 L690.00,58.95 L690.68,59.93 L691.33,61.04 L691.97,61.70 L692.59,62.93 L693.20,63.93 L693.81,65.07 L694.41,65.99 L695.02,66.78 L695.63,68.06 L696.25,68.86 L696.87,69.73 L697.48,70.44 L698.09,71.71 L698.69,72.64 L699.30,73.41 L699.91,74.64 L700.53,75.40 L701.17,76.45 L701.82,77.39 L702.50,78.56 L703.13,79.33 L703.79,80.50 L704.46,81.91 L705.14,82.73 L705.82,83.95 L706.52,84.81 L707.22,85.89 L707.92,86.96 L708.62,87.72 L709.31,88.88 L710.00,89.77 L710.75,90.86 L711.50,92.13 L712.25,92.98 L713.00,94.02 L713.75,95.13 L714.50,96.07 L715.25,96.95 L716.00,97.92 L716.75,99.26 L717.50,100.10 L718.19,101.02 L718.90,102.49 L719.61,103.44 L720.33,104.38 L721.05,105.45 L721.76,106.76 L722.46,107.86 L723.13,108.68 L723.79,109.51 L724.41,110.50 L725.00,111.42 L725.78,112.62 L726.49,113.18 L727.14,114.26 L727.79,114.86 L728.45,115.60 L729.18,116.78 L730.00,117.69 L730.63,118.64 L731.28,119.28 L731.94,120.13 L732.63,121.51 L733.35,122.58 L734.10,123.68 L734.88,124.54 L735.71,125.75 L736.58,126.46 L737.50,127.66 L738.20,128.68 L738.95,129.43 L739.74,130.07 L740.57,130.93 L741.44,132.00 L742.32,133.13 L743.22,134.05 L744.13,135.33 L745.03,136.41 L745.93,137.49 L746.81,137.99 L747.66,138.93 L748.48,139.79 L749.27,140.63 L750.00,141.54 L751.03,142.37 L752.01,143.05 L752.95,143.80 L753.86,144.26 L754.78,145.05 L755.71,145.78 L756.67,146.60 L757.68,147.20 L758.75,147.84 L759.68,148.92 L760.64,149.77 L761.64,150.41 L762.66,151.06 L763.69,151.77 L764.75,152.80 L765.80,153.52 L766.86,154.49 L767.92,155.54 L768.97,156.42 L770.00,157.35 L771.00,158.10 L771.98,158.68 L772.93,159.12 L773.88,160.11 L774.83,160.71 L775.80,161.26 L776.79,162.21 L777.82,162.62 L778.90,163.13 L780.04,163.85 L781.25,164.83 L782.19,165.49 L783.18,166.41 L784.20,167.20 L785.26,167.61 L786.34,168.05 L787.45,168.74 L788.57,169.50 L789.71,170.48 L790.85,171.30 L791.99,171.99 L793.13,172.52 L794.25,173.07 L795.36,173.82 L796.44,174.70 L797.50,175.16 L798.70,175.65 L799.90,176.11 L801.10,176.99 L802.29,177.62 L803.47,177.97 L804.65,178.59 L805.82,178.85 L806.97,179.50 L808.11,180.02 L809.23,180.47 L810.34,180.82 L811.43,180.96 L812.50,181.25 L813.74,181.51 L814.97,181.97 L816.18,182.25 L817.38,182.75 L818.55,183.09 L819.70,183.62 L820.82,184.20 L821.91,184.81 L822.97,185.16 L824.00,185.37 L825.00,185.80 L826.28,186.08 L827.47,186.38 L828.61,186.23 L829.70,186.43 L830.76,186.58 L831.82,186.83 L832.90,187.10 L834.00,187.43 L835.10,187.73 L836.18,187.96 L837.24,187.78 L838.31,188.00 L839.41,188.20 L840.54,188.18 L841.73,188.37 L843.00,188.51 L844.07,188.99 L845.19,189.32 L846.35,189.47 L847.54,189.21 L848.75,189.05 L849.98,189.40 L851.23,189.66 L852.49,189.80 L853.75,189.57 L855.00,189.77 L856.12,189.98 L857.23,189.91 L858.33,190.14 L859.43,190.18 L860.55,190.21 L861.68,190.22 L862.85,190.08 L864.05,190.13 L865.30,190.49 L866.62,190.53 L868.00,190.51 L869.05,190.37 L870.14,190.50 L871.27,190.54 L872.43,190.58 L873.63,190.57 L874.86,190.38 L876.12,190.55 L877.41,190.70 L878.72,190.73 L880.06,191.00 L881.43,191.04 L882.81,191.20 L884.22,191.33 L885.64,191.19 L887.08,191.04 L888.53,191.22 L890.00,190.84 L891.14,190.98 L892.31,190.99 L893.48,191.31 L894.67,191.08 L895.88,191.31 L897.10,191.19 L898.33,191.43 L899.57,191.25 L900.83,191.15 L902.10,191.06 L903.38,191.23 L904.66,191.37 L905.96,191.14 L907.27,191.33 L908.59,191.40 L909.91,191.08 L911.25,191.04 L912.58,191.39 L913.93,191.07 L915.28,191.35 L916.64,191.00 L918.00,190.83 L919.20,190.84 L920.39,190.74 L921.57,190.92 L922.76,190.86 L923.94,191.25 L925.12,191.27 L926.31,191.51 L927.50,191.44 L928.69,191.37 L929.90,191.18 L931.11,191.33 L932.33,191.18 L933.57,190.97 L934.82,191.29 L936.09,191.37 L937.37,191.60 L938.67,191.33 L940.00,191.35 L941.35,191.36 L942.72,191.68 L944.11,191.67 L945.54,191.80 L946.99,191.48 L948.48,191.71 L950.00,191.90 L951.13,191.50 L952.31,191.49 L953.54,191.64 L954.82,191.88 L956.14,191.91 L957.50,191.65 L958.89,191.48 L960.31,191.61 L961.75,191.69 L963.22,191.79 L964.71,191.59 L966.20,191.31 L967.71,191.40 L969.22,191.56 L970.74,191.83 L972.25,191.50 L973.75,191.51 L975.24,191.36 L976.72,191.40 L978.18,191.63 L979.62,191.60 L981.02,191.38 L982.40,191.67 L983.74,191.44 L985.04,191.26 L986.30,191.33 L987.51,191.51 L988.67,191.75 L989.78,191.60 L990.82,191.41 L991.80,191.27 L992.71,191.33 L993.55,191.61 L994.32,191.53 L995.00,191.82" fill="none" stroke="#c66fae" stroke-width="2.3" stroke-linejoin="round" stroke-linecap="butt"/>
<path d="M634.50,26.30 L635.21,26.30 L636.06,26.30 L637.04,26.30 L638.14,26.29 L639.34,26.29 L640.64,26.29 L642.01,26.28 L643.44,26.28 L644.93,26.28 L646.46,26.27 L648.02,26.27 L649.59,26.27 L651.17,26.27 L652.73,26.34 L654.27,26.57 L655.78,26.48 L657.23,26.50 L658.63,26.53 L659.95,26.51 L661.18,26.41 L662.32,26.44 L663.34,26.63 L664.24,26.50 L665.00,26.48 L666.38,26.36 L667.50,26.77 L668.31,27.06 L669.00,27.60 L669.67,28.02 L670.46,29.17 L671.32,30.29 L672.20,31.36 L672.79,32.48 L673.40,33.09 L674.03,34.20 L674.68,35.13 L675.33,36.21 L676.00,37.42 L676.48,38.09 L676.95,39.04 L677.44,40.15 L677.93,41.47 L678.45,42.76 L678.99,44.07 L679.55,44.95 L680.16,46.36 L680.80,47.72 L681.37,48.30 L681.98,49.18 L682.62,50.14 L683.29,51.55 L683.98,52.72 L684.67,53.50 L685.37,54.53 L686.06,55.73 L686.73,56.86 L687.38,58.00 L688.00,58.91 L688.72,59.75 L689.41,61.21 L690.09,62.53 L690.75,63.34 L691.40,64.28 L692.04,65.57 L692.69,66.84 L693.34,67.74 L694.00,68.61 L694.66,69.93 L695.31,70.96 L695.96,71.78 L696.61,73.23 L697.26,74.17 L697.93,75.39 L698.60,76.52 L699.29,77.52 L700.00,78.82 L700.60,79.78 L701.22,81.00 L701.84,81.83 L702.48,82.75 L703.13,83.66 L703.78,84.96 L704.43,86.11 L705.08,86.89 L705.73,88.25 L706.37,89.15 L707.00,90.35 L707.67,91.25 L708.32,92.11 L708.95,93.12 L709.58,93.99 L710.21,94.75 L710.85,95.82 L711.52,96.78 L712.22,97.93 L712.96,98.87 L713.75,100.00 L714.33,101.11 L714.93,102.05 L715.56,103.05 L716.22,103.98 L716.89,104.93 L717.58,106.13 L718.29,107.07 L719.02,107.81 L719.75,108.76 L720.49,109.66 L721.24,111.03 L721.99,112.11 L722.75,113.40 L723.50,114.61 L724.25,115.23 L725.00,116.30 L725.75,117.40 L726.50,118.21 L727.27,119.14 L728.04,120.37 L728.81,121.46 L729.60,122.07 L730.38,123.02 L731.17,124.03 L731.96,125.16 L732.76,126.24 L733.55,126.73 L734.35,127.69 L735.14,128.51 L735.93,129.54 L736.72,130.40 L737.50,131.33 L738.33,132.34 L739.17,133.14 L740.00,134.16 L740.83,135.30 L741.67,136.35 L742.50,137.38 L743.33,137.96 L744.17,138.94 L745.00,139.52 L745.83,140.36 L746.67,141.36 L747.50,142.29 L748.33,143.44 L749.17,144.52 L750.00,145.00 L750.89,145.99 L751.79,146.73 L752.68,147.87 L753.57,148.68 L754.46,149.86 L755.36,150.89 L756.25,151.41 L757.14,152.41 L758.04,153.28 L758.93,153.99 L759.82,155.03 L760.71,156.10 L761.61,157.03 L762.50,157.84 L763.46,158.76 L764.42,159.69 L765.38,160.49 L766.35,160.84 L767.31,161.79 L768.27,162.56 L769.23,163.47 L770.19,164.19 L771.15,165.04 L772.12,166.01 L773.08,166.87 L774.04,167.28 L775.00,168.28 L775.96,169.16 L776.92,169.84 L777.88,170.48 L778.85,171.18 L779.81,171.92 L780.77,172.52 L781.73,173.26 L782.69,174.26 L783.65,175.24 L784.62,175.74 L785.58,176.81 L786.54,177.35 L787.50,177.97 L788.54,178.63 L789.58,179.18 L790.62,180.34 L791.67,181.26 L792.71,182.08 L793.75,182.42 L794.79,183.28 L795.83,183.74 L796.88,184.68 L797.92,185.44 L798.96,185.99 L800.00,186.38 L801.13,186.86 L802.23,187.37 L803.33,188.30 L804.42,188.53 L805.51,189.17 L806.62,189.54 L807.73,190.18 L808.87,190.80 L810.04,191.16 L811.25,191.96 L812.50,192.27 L813.60,193.03 L814.72,193.38 L815.88,193.95 L817.06,194.70 L818.27,195.31 L819.48,195.89 L820.71,195.97 L821.94,196.34 L823.17,197.09 L824.40,197.49 L825.61,197.78 L826.82,198.40 L828.00,198.82 L829.18,199.42 L830.36,199.81 L831.55,199.90 L832.73,200.07 L833.92,200.74 L835.10,201.13 L836.27,201.74 L837.44,202.04 L838.59,202.32 L839.72,202.63 L840.84,203.04 L841.93,203.38 L843.00,203.58 L844.35,203.89 L845.66,204.23 L846.93,204.35 L848.18,205.02 L849.41,204.94 L850.62,205.22 L851.83,205.47 L853.04,205.77 L854.26,206.24 L855.50,206.46 L856.75,206.65 L858.00,206.60 L859.25,206.99 L860.50,207.12 L861.75,207.14 L863.00,207.70 L864.25,207.69 L865.50,207.91 L866.75,208.48 L868.00,208.90 L869.23,209.15 L870.42,209.26 L871.59,209.58 L872.75,209.55 L873.93,209.85 L875.13,209.66 L876.37,209.96 L877.67,210.36 L879.04,210.34 L880.50,210.62 L881.53,210.66 L882.61,211.00 L883.74,211.04 L884.92,211.03 L886.13,211.32 L887.37,211.61 L888.63,211.46 L889.91,211.56 L891.20,211.83 L892.49,211.84 L893.78,211.77 L895.07,212.16 L896.34,212.58 L897.59,212.66 L898.81,212.90 L900.00,212.89 L901.35,212.75 L902.70,212.99 L904.06,212.88 L905.43,212.98 L906.79,213.06 L908.13,213.52 L909.47,213.50 L910.78,214.05 L912.08,214.00 L913.34,214.27 L914.57,214.12 L915.76,214.32 L916.90,214.60 L918.00,214.56 L919.39,214.45 L920.69,214.62 L921.92,214.65 L923.09,214.92 L924.23,214.89 L925.36,215.12 L926.48,214.83 L927.61,215.09 L928.78,214.81 L930.00,214.67 L931.15,215.08 L932.32,214.76 L933.50,214.86 L934.70,214.66 L935.90,214.55 L937.10,215.00 L938.30,215.18 L939.50,215.25 L940.68,215.37 L941.85,214.97 L943.00,215.10 L944.24,215.15 L945.45,215.08 L946.64,215.11 L947.82,215.07 L949.00,215.10 L950.18,214.91 L951.36,214.96 L952.55,214.71 L953.76,214.64 L955.00,214.92 L956.15,215.07 L957.32,215.09 L958.50,215.12 L959.70,215.12 L960.90,214.91 L962.10,214.73 L963.30,214.66 L964.50,214.46 L965.68,214.30 L966.85,214.49 L968.00,214.63 L969.23,214.32 L970.42,214.51 L971.58,214.42 L972.73,214.37 L973.88,214.03 L975.03,213.91 L976.21,213.97 L977.42,213.92 L978.68,213.92 L980.00,214.09 L981.19,213.99 L982.50,214.19 L983.89,214.36 L985.33,214.41 L986.80,214.18 L988.25,213.83 L989.66,213.98 L991.00,214.14 L992.23,214.07 L993.33,213.65 L994.27,213.40 L995.00,213.37" fill="none" stroke="#1f8c48" stroke-width="2.3" stroke-linejoin="round" stroke-linecap="butt"/>
<path d="M634.50,26.30 L635.25,26.30 L636.20,26.30 L637.32,26.29 L638.59,26.29 L639.98,26.28 L641.46,26.28 L642.99,26.27 L644.56,26.27 L646.14,26.27 L647.69,26.26 L649.20,26.26 L650.62,26.26 L651.95,26.27 L653.13,26.42 L654.16,26.13 L655.00,26.05 L656.13,26.01 L657.12,26.61 L658.00,26.61 L659.08,26.75 L660.00,27.60 L660.55,28.27 L661.18,29.03 L661.88,29.99 L662.63,30.67 L663.42,31.67 L664.21,32.78 L665.00,33.81 L665.58,34.47 L666.19,35.72 L666.81,36.74 L667.46,37.50 L668.11,38.76 L668.76,39.92 L669.41,41.13 L670.04,42.30 L670.66,42.84 L671.25,43.48 L672.09,44.97 L672.95,46.01 L673.79,47.17 L674.60,47.90 L675.34,49.10 L675.98,49.93 L676.50,51.10 L676.98,52.22 L677.16,53.74 L677.26,55.18 L677.50,55.93 L678.46,55.29 L679.50,55.07 L679.97,55.82 L680.49,56.59 L681.06,57.80 L681.67,59.06 L682.32,60.14 L683.02,61.34 L683.75,62.84 L684.29,63.66 L684.87,64.71 L685.48,65.58 L686.11,66.70 L686.75,67.32 L687.40,68.58 L688.06,69.78 L688.72,70.58 L689.37,71.47 L690.00,72.67 L690.62,73.49 L691.25,74.77 L691.87,75.66 L692.50,76.39 L693.12,77.71 L693.75,78.63 L694.37,79.69 L695.00,80.73 L695.62,81.82 L696.25,82.61 L696.94,83.33 L697.61,84.36 L698.29,85.60 L698.96,86.68 L699.64,87.74 L700.32,88.31 L701.03,89.33 L701.75,90.02 L702.50,91.05 L703.20,92.30 L703.92,93.36 L704.66,94.02 L705.41,95.23 L706.17,96.44 L706.94,97.08 L707.71,98.27 L708.48,99.28 L709.24,100.28 L710.00,101.26 L710.75,102.32 L711.50,103.56 L712.25,104.58 L713.00,105.13 L713.75,106.41 L714.50,107.20 L715.25,108.09 L716.00,109.44 L716.75,110.30 L717.50,111.58 L718.23,112.50 L718.94,113.34 L719.63,113.96 L720.32,114.72 L721.02,115.97 L721.73,116.76 L722.48,117.61 L723.26,118.88 L724.10,120.30 L725.00,121.62 L725.64,122.23 L726.32,123.24 L727.03,123.93 L727.77,124.56 L728.54,125.52 L729.32,126.24 L730.12,127.51 L730.94,128.41 L731.76,129.25 L732.59,130.50 L733.43,131.16 L734.26,132.44 L735.08,133.28 L735.90,134.40 L736.71,135.16 L737.50,136.06 L738.28,137.09 L739.06,138.31 L739.84,139.28 L740.62,140.52 L741.41,141.53 L742.19,142.54 L742.97,143.42 L743.75,144.26 L744.53,145.13 L745.31,146.25 L746.09,147.31 L746.88,148.52 L747.66,149.33 L748.44,150.36 L749.22,151.16 L750.00,152.08 L750.83,153.00 L751.67,154.44 L752.50,155.66 L753.33,156.58 L754.17,157.48 L755.00,158.23 L755.83,159.09 L756.67,160.00 L757.50,160.70 L758.33,161.76 L759.17,162.88 L760.00,163.76 L760.83,164.42 L761.67,165.58 L762.50,166.20 L763.46,167.33 L764.42,168.21 L765.38,169.28 L766.35,170.03 L767.31,170.70 L768.27,171.68 L769.23,172.72 L770.19,173.42 L771.15,174.25 L772.12,175.33 L773.08,175.92 L774.04,176.72 L775.00,177.33 L775.96,178.09 L776.92,178.88 L777.88,179.77 L778.85,180.42 L779.81,181.56 L780.77,182.03 L781.73,183.05 L782.69,184.07 L783.65,184.84 L784.62,185.44 L785.58,185.96 L786.54,186.48 L787.50,187.60 L788.55,188.04 L789.61,189.04 L790.68,189.60 L791.76,190.45 L792.83,191.53 L793.91,192.23 L794.97,193.01 L796.02,193.65 L797.05,194.17 L798.06,194.79 L799.05,195.73 L800.00,196.46 L801.11,196.87 L802.19,197.87 L803.25,198.49 L804.28,199.11 L805.28,199.91 L806.26,200.80 L807.23,201.49 L808.17,202.07 L809.09,202.82 L810.00,203.50 L811.07,203.67 L812.06,204.14 L812.99,204.83 L813.91,205.15 L814.83,205.91 L815.80,206.63 L816.85,207.30 L818.00,207.59 L818.94,208.22 L819.92,208.55 L820.96,209.13 L822.03,209.64 L823.13,210.11 L824.25,210.60 L825.39,211.07 L826.55,211.97 L827.70,212.28 L828.86,213.13 L830.00,213.51 L831.15,213.96 L832.32,214.50 L833.50,214.74 L834.70,215.35 L835.90,215.62 L837.10,216.39 L838.30,217.08 L839.50,217.38 L840.68,217.75 L841.85,217.95 L843.00,218.78 L844.24,219.48 L845.45,220.07 L846.64,220.49 L847.82,220.83 L849.00,221.27 L850.18,221.75 L851.36,221.88 L852.55,222.19 L853.76,222.72 L855.00,222.79 L856.15,223.14 L857.32,223.70 L858.50,224.08 L859.70,224.15 L860.90,224.25 L862.10,224.68 L863.30,225.13 L864.50,225.19 L865.68,225.70 L866.85,225.99 L868.00,226.40 L869.24,226.92 L870.45,227.20 L871.64,227.14 L872.82,227.52 L874.00,227.45 L875.18,227.90 L876.36,227.88 L877.55,228.07 L878.76,228.43 L880.00,228.26 L881.17,228.50 L882.40,228.48 L883.66,228.62 L884.95,229.23 L886.24,229.14 L887.51,229.58 L888.75,229.75 L889.93,229.61 L891.05,229.71 L892.08,230.08 L893.00,229.88 L894.40,229.90 L895.73,230.16 L896.95,229.96 L898.05,230.32 L899.00,230.32 L900.08,231.08 L900.88,231.86 L901.70,232.44 L902.54,232.08 L903.39,231.43 L904.50,230.90 L905.30,230.65 L906.23,230.80 L907.26,230.72 L908.39,231.13 L909.61,231.44 L910.89,231.23 L912.24,231.34 L913.64,231.46 L915.07,231.72 L916.53,232.00 L918.00,231.99 L918.93,231.67 L919.90,232.00 L920.90,231.67 L921.94,231.87 L923.01,231.81 L924.12,231.78 L925.26,232.00 L926.43,232.22 L927.62,232.26 L928.85,232.19 L930.11,232.12 L931.39,232.10 L932.70,231.86 L934.03,232.01 L935.39,232.21 L936.77,231.97 L938.17,232.00 L939.59,232.13 L941.03,232.38 L942.48,232.01 L943.96,231.84 L945.45,232.20 L946.95,231.91 L948.47,231.75 L950.00,231.99 L951.13,231.91 L952.31,231.94 L953.54,231.87 L954.82,232.17 L956.14,232.27 L957.50,232.03 L958.89,232.37 L960.31,232.19 L961.75,232.51 L963.22,232.29 L964.71,232.52 L966.20,232.56 L967.71,232.55 L969.22,232.30 L970.74,232.55 L972.25,232.22 L973.75,232.49 L975.24,232.69 L976.72,232.58 L978.18,232.25 L979.62,232.62 L981.02,232.82 L982.40,232.91 L983.74,232.77 L985.04,232.38 L986.30,232.36 L987.51,232.69 L988.67,232.82 L989.78,232.89 L990.82,232.99 L991.80,233.00 L992.71,232.52 L993.55,232.62 L994.32,232.42 L995.00,232.48" fill="none" stroke="#27247f" stroke-width="2.3" stroke-linejoin="round" stroke-linecap="butt"/>
<path d="M634.50,26.30 L635.21,26.30 L636.09,26.30 L637.10,26.30 L638.24,26.29 L639.49,26.29 L640.83,26.29 L642.24,26.28 L643.72,26.28 L645.24,26.27 L646.78,26.27 L648.34,26.27 L649.90,26.27 L651.43,26.26 L652.93,26.14 L654.37,26.12 L655.74,26.12 L657.03,26.19 L658.22,25.99 L659.28,25.91 L660.22,25.97 L661.00,26.33 L662.13,26.38 L663.12,26.69 L664.00,26.97 L665.09,27.05 L666.00,27.35 L666.53,27.84 L667.11,28.80 L667.73,29.58 L668.36,31.04 L669.00,31.81 L669.51,32.74 L670.04,33.85 L670.59,35.10 L671.16,36.52 L671.76,37.34 L672.37,38.55 L673.00,40.19 L673.50,41.01 L674.02,42.30 L674.54,42.99 L675.07,44.27 L675.62,45.46 L676.19,46.69 L676.77,47.75 L677.37,48.91 L678.00,50.30 L678.53,51.15 L679.09,52.19 L679.66,53.43 L680.25,54.17 L680.85,55.41 L681.46,56.47 L682.07,57.83 L682.69,58.95 L683.30,59.76 L683.90,61.11 L684.50,62.28 L685.15,63.05 L685.80,63.88 L686.46,65.11 L687.11,66.40 L687.77,67.63 L688.42,68.44 L689.07,69.16 L689.72,70.35 L690.36,71.30 L691.00,72.25 L691.64,73.43 L692.27,74.72 L692.89,75.90 L693.52,76.69 L694.14,77.49 L694.76,78.75 L695.38,79.95 L696.00,80.63 L696.63,81.43 L697.25,82.59 L697.94,83.68 L698.61,84.67 L699.29,85.41 L699.96,86.13 L700.64,87.05 L701.32,87.83 L702.03,89.22 L702.75,90.40 L703.50,91.15 L704.20,92.41 L704.92,93.04 L705.66,94.19 L706.41,95.48 L707.17,96.58 L707.94,97.13 L708.71,98.31 L709.48,99.24 L710.24,99.97 L711.00,101.20 L711.75,102.37 L712.50,103.52 L713.25,104.36 L714.00,105.45 L714.75,106.24 L715.50,107.10 L716.25,107.93 L717.00,109.12 L717.75,110.06 L718.50,111.07 L719.23,111.87 L719.94,113.09 L720.63,114.08 L721.32,115.26 L722.02,116.33 L722.73,117.22 L723.48,118.37 L724.26,119.53 L725.10,120.12 L726.00,121.43 L726.64,122.11 L727.32,123.18 L728.03,124.04 L728.77,124.56 L729.54,125.49 L730.32,126.69 L731.12,127.31 L731.94,128.18 L732.76,128.95 L733.59,130.37 L734.43,131.14 L735.26,132.17 L736.08,133.15 L736.90,134.32 L737.71,135.17 L738.50,136.02 L739.28,136.85 L740.06,137.87 L740.84,139.01 L741.62,140.12 L742.41,141.32 L743.19,142.65 L743.97,143.73 L744.75,144.92 L745.53,145.81 L746.31,146.86 L747.09,147.80 L747.88,148.47 L748.66,149.39 L749.44,150.24 L750.22,151.07 L751.00,152.45 L751.83,153.35 L752.67,154.58 L753.50,155.58 L754.33,156.61 L755.17,157.26 L756.00,158.43 L756.83,159.26 L757.67,159.96 L758.50,160.94 L759.33,161.72 L760.17,162.70 L761.00,163.62 L761.83,164.29 L762.67,165.27 L763.50,166.08 L764.46,167.21 L765.42,168.37 L766.38,168.98 L767.35,169.87 L768.31,171.02 L769.27,171.99 L770.23,172.69 L771.19,173.73 L772.15,174.13 L773.12,175.14 L774.08,175.98 L775.04,176.96 L776.00,177.71 L776.96,178.70 L777.92,179.13 L778.88,180.07 L779.85,180.54 L780.81,181.61 L781.77,182.45 L782.73,183.16 L783.69,183.61 L784.65,184.71 L785.62,185.27 L786.58,186.13 L787.54,186.99 L788.50,187.82 L789.55,188.33 L790.61,189.13 L791.68,189.75 L792.76,190.65 L793.83,191.20 L794.91,191.92 L795.97,192.87 L797.02,193.88 L798.05,194.66 L799.06,195.30 L800.05,196.00 L801.00,196.60 L802.11,197.14 L803.21,198.25 L804.28,199.28 L805.32,199.81 L806.34,200.74 L807.34,201.37 L808.30,201.88 L809.23,202.76 L810.13,203.37 L811.00,204.45 L812.12,205.32 L813.09,206.11 L813.97,206.72 L814.84,207.85 L815.76,208.69 L816.79,209.21 L818.00,209.83 L818.90,210.40 L819.86,211.19 L820.89,211.43 L821.95,212.00 L823.06,212.81 L824.20,213.18 L825.35,213.52 L826.52,214.00 L827.69,214.93 L828.85,215.36 L830.00,215.79 L831.15,216.11 L832.32,216.90 L833.50,217.53 L834.70,217.77 L835.90,218.32 L837.10,218.61 L838.30,219.02 L839.50,219.40 L840.68,220.04 L841.85,220.92 L843.00,221.57 L844.12,221.72 L845.23,222.51 L846.32,222.66 L847.40,223.37 L848.47,223.87 L849.53,224.21 L850.60,224.91 L851.68,225.48 L852.77,225.57 L853.88,225.75 L855.00,226.63 L856.15,227.12 L857.32,227.68 L858.50,227.86 L859.70,228.30 L860.90,228.57 L862.10,229.20 L863.30,229.41 L864.50,230.05 L865.68,230.40 L866.85,230.65 L868.00,231.08 L869.24,231.70 L870.45,232.02 L871.64,232.27 L872.82,232.87 L874.00,233.22 L875.18,233.89 L876.36,234.29 L877.55,234.37 L878.76,235.08 L880.00,235.30 L881.15,235.62 L882.32,236.22 L883.50,236.16 L884.70,236.82 L885.90,236.94 L887.10,237.24 L888.30,237.59 L889.50,237.64 L890.68,238.18 L891.85,238.44 L893.00,238.56 L894.24,238.76 L895.45,238.88 L896.64,239.14 L897.82,239.92 L899.00,240.20 L900.18,240.35 L901.36,240.75 L902.55,241.10 L903.76,241.51 L905.00,241.83 L906.15,242.09 L907.32,242.16 L908.50,242.13 L909.70,242.60 L910.90,242.98 L912.10,243.16 L913.30,242.92 L914.50,243.00 L915.68,243.54 L916.85,243.87 L918.00,244.00 L919.24,243.83 L920.45,243.90 L921.64,244.34 L922.82,244.61 L924.00,244.80 L925.18,245.11 L926.36,244.89 L927.55,244.89 L928.76,245.09 L930.00,245.06 L931.15,245.16 L932.32,245.44 L933.50,245.75 L934.70,245.74 L935.90,245.66 L937.10,245.83 L938.30,245.96 L939.50,245.83 L940.68,246.27 L941.85,246.22 L943.00,246.35 L944.24,246.44 L945.45,246.22 L946.64,246.66 L947.82,246.55 L949.00,246.39 L950.18,246.51 L951.36,246.87 L952.55,246.84 L953.76,247.05 L955.00,246.90 L956.15,247.21 L957.32,247.00 L958.50,247.01 L959.70,246.95 L960.90,247.24 L962.10,247.25 L963.30,247.43 L964.50,247.30 L965.68,247.45 L966.85,247.45 L968.00,247.69 L969.23,247.45 L970.42,247.25 L971.58,247.56 L972.73,247.51 L973.88,247.46 L975.03,247.69 L976.21,247.87 L977.42,247.66 L978.68,247.97 L980.00,248.15 L981.19,248.08 L982.50,248.09 L983.89,248.00 L985.33,248.26 L986.80,248.15 L988.25,247.83 L989.66,248.11 L991.00,248.12 L992.23,248.15 L993.33,248.21 L994.27,248.29 L995.00,248.24" fill="none" stroke="#6c61b2" stroke-width="2.3" stroke-linejoin="round" stroke-linecap="butt"/>
<path d="M634.50,26.30 L635.25,26.30 L636.21,26.30 L637.36,26.30 L638.66,26.29 L640.07,26.29 L641.56,26.29 L643.09,26.29 L644.63,26.29 L646.14,26.29 L647.58,26.29 L648.93,26.29 L650.13,26.29 L651.17,26.29 L652.00,26.21 L653.36,26.48 L654.50,26.67 L655.44,26.39 L656.25,27.00 L656.89,27.74 L657.66,28.44 L658.51,29.37 L659.42,30.40 L660.35,31.62 L661.25,32.50 L661.83,33.29 L662.44,34.05 L663.07,35.01 L663.72,36.14 L664.38,37.37 L665.03,38.25 L665.68,39.62 L666.31,40.74 L666.92,41.58 L667.50,42.35 L668.11,43.60 L668.70,44.43 L669.26,45.43 L669.81,46.98 L670.35,47.91 L670.88,49.29 L671.41,50.11 L671.95,51.55 L672.50,52.51 L673.05,53.70 L673.59,54.76 L674.12,55.67 L674.65,57.01 L675.19,57.85 L675.74,58.66 L676.30,59.90 L676.89,61.35 L677.50,62.28 L678.02,63.47 L678.56,64.72 L679.11,65.70 L679.68,66.81 L680.26,68.24 L680.84,69.20 L681.42,70.40 L682.01,71.57 L682.60,72.64 L683.18,73.69 L683.75,74.93 L684.38,75.81 L685.00,76.85 L685.62,78.24 L686.25,78.96 L686.88,79.94 L687.50,81.08 L688.12,82.34 L688.75,83.03 L689.38,83.97 L690.00,85.02 L690.62,86.17 L691.25,87.14 L691.87,88.36 L692.50,89.35 L693.12,90.38 L693.75,91.20 L694.37,92.04 L695.00,93.02 L695.62,93.84 L696.25,95.08 L696.88,96.14 L697.52,96.82 L698.16,97.90 L698.81,99.26 L699.45,100.09 L700.09,100.96 L700.72,102.27 L701.33,103.36 L701.93,104.47 L702.50,104.98 L703.28,106.47 L704.02,107.31 L704.73,108.65 L705.42,109.85 L706.11,110.99 L706.80,111.57 L707.50,112.74 L708.20,113.77 L708.88,114.51 L709.55,115.45 L710.23,115.86 L710.94,116.96 L711.69,118.03 L712.50,118.71 L713.08,119.54 L713.70,120.17 L714.38,120.86 L715.10,121.79 L715.85,123.00 L716.64,124.05 L717.45,125.36 L718.28,126.50 L719.13,127.71 L719.98,128.82 L720.84,130.05 L721.70,131.23 L722.55,131.99 L723.39,133.16 L724.21,134.31 L725.00,135.42 L725.78,136.41 L726.56,137.12 L727.34,138.25 L728.12,138.79 L728.91,139.87 L729.69,140.69 L730.47,141.64 L731.25,142.49 L732.03,143.69 L732.81,144.75 L733.59,145.54 L734.38,146.69 L735.16,147.33 L735.94,147.99 L736.72,148.73 L737.50,149.56 L738.33,150.73 L739.17,152.00 L740.00,152.92 L740.83,153.86 L741.67,154.94 L742.50,155.82 L743.33,156.78 L744.17,157.79 L745.00,158.44 L745.83,159.55 L746.67,160.35 L747.50,161.35 L748.33,162.30 L749.17,163.12 L750.00,163.60 L750.89,164.52 L751.79,165.23 L752.68,166.58 L753.57,167.38 L754.46,168.20 L755.36,169.09 L756.25,169.86 L757.14,170.59 L758.04,171.92 L758.93,173.00 L759.82,173.99 L760.71,174.69 L761.61,175.32 L762.50,176.23 L763.39,177.21 L764.29,177.83 L765.18,178.53 L766.07,179.62 L766.96,180.66 L767.86,181.43 L768.75,182.48 L769.64,183.55 L770.54,184.37 L771.43,184.99 L772.32,186.17 L773.21,187.29 L774.11,187.96 L775.00,188.63 L775.90,189.85 L776.83,190.92 L777.77,191.97 L778.72,192.81 L779.67,193.68 L780.62,194.76 L781.56,195.65 L782.49,196.49 L783.40,197.07 L784.29,198.04 L785.15,199.22 L785.98,199.74 L786.76,200.47 L787.50,201.00 L788.52,201.97 L789.45,202.79 L790.33,203.43 L791.19,204.31 L792.06,205.42 L792.96,206.12 L793.93,206.67 L795.00,207.52 L795.92,207.97 L796.88,208.88 L797.87,209.17 L798.89,209.53 L799.94,210.37 L801.01,211.16 L802.11,211.90 L803.22,212.57 L804.36,213.18 L805.50,213.66 L806.56,214.27 L807.65,214.84 L808.76,215.49 L809.90,215.65 L811.05,216.23 L812.21,217.14 L813.37,217.76 L814.54,218.12 L815.70,218.83 L816.86,219.21 L818.00,219.90 L819.04,220.58 L820.08,221.24 L821.12,221.60 L822.17,222.09 L823.21,223.06 L824.25,223.79 L825.29,224.45 L826.33,225.20 L827.38,225.47 L828.42,226.33 L829.46,226.62 L830.50,227.15 L831.64,227.69 L832.77,228.52 L833.91,228.97 L835.05,229.74 L836.18,230.32 L837.32,231.25 L838.45,231.90 L839.59,232.35 L840.73,232.73 L841.86,233.35 L843.00,233.68 L844.14,234.57 L845.27,235.18 L846.41,236.01 L847.55,236.46 L848.68,236.63 L849.82,237.01 L850.95,237.54 L852.09,237.96 L853.23,238.54 L854.36,239.24 L855.50,239.72 L856.64,240.60 L857.77,241.00 L858.91,241.49 L860.05,241.71 L861.18,242.03 L862.32,242.50 L863.45,242.89 L864.59,243.46 L865.73,243.87 L866.86,244.85 L868.00,245.41 L869.14,245.96 L870.27,246.19 L871.41,246.75 L872.55,247.42 L873.68,247.53 L874.82,247.82 L875.95,248.05 L877.09,248.40 L878.23,249.02 L879.36,249.71 L880.50,249.93 L881.64,250.53 L882.77,250.63 L883.91,251.31 L885.05,251.47 L886.18,252.12 L887.32,252.22 L888.45,252.75 L889.59,252.77 L890.73,253.36 L891.86,253.58 L893.00,253.66 L894.25,254.19 L895.50,254.45 L896.75,254.51 L898.00,255.11 L899.25,255.26 L900.50,255.49 L901.75,255.73 L903.00,256.44 L904.25,256.46 L905.50,257.03 L906.76,257.41 L908.04,257.53 L909.33,257.86 L910.62,258.13 L911.91,258.41 L913.18,258.55 L914.43,258.74 L915.66,258.65 L916.85,259.21 L918.00,259.07 L919.42,259.33 L920.84,259.80 L922.24,259.91 L923.59,260.25 L924.87,260.40 L926.05,260.19 L927.10,260.61 L928.00,260.41 L929.14,260.91 L930.07,261.29 L931.00,262.06 L931.94,261.55 L932.88,261.39 L934.00,261.32 L934.94,260.96 L936.03,260.83 L937.25,261.29 L938.58,261.21 L940.00,261.68 L941.48,261.66 L943.00,262.13 L944.11,262.19 L945.28,261.97 L946.49,262.39 L947.75,262.45 L949.03,262.74 L950.33,262.81 L951.64,262.71 L952.94,262.72 L954.23,263.01 L955.50,263.18 L956.75,263.18 L958.00,262.97 L959.25,263.28 L960.50,263.24 L961.75,263.47 L963.00,263.36 L964.25,263.25 L965.50,263.20 L966.75,263.12 L968.00,263.07 L969.24,263.30 L970.47,263.57 L971.69,263.43 L972.90,263.32 L974.12,263.62 L975.36,263.89 L976.60,264.18 L977.87,264.03 L979.17,264.08 L980.50,264.28 L981.68,264.44 L982.97,264.50 L984.32,264.12 L985.72,264.04 L987.13,264.19 L988.53,264.41 L989.88,264.09 L991.17,263.79 L992.35,263.73 L993.40,263.83 L994.29,264.10 L995.00,264.03" fill="none" stroke="#962f92" stroke-width="2.3" stroke-linejoin="round" stroke-linecap="butt"/>
<rect x="629.4" y="5.9" width="388.1" height="289.40000000000003" fill="none" stroke="#222222" stroke-width="2.2"/>
<path d="M635.10,295.3 v6.6 M635.10,5.9 v6.6 M664.98,295.3 v3.9 M664.98,5.9 v3.9 M694.85,295.3 v6.6 M694.85,5.9 v6.6 M724.73,295.3 v3.9 M724.73,5.9 v3.9 M754.60,295.3 v6.6 M754.60,5.9 v6.6 M784.48,295.3 v3.9 M784.48,5.9 v3.9 M814.35,295.3 v6.6 M814.35,5.9 v6.6 M844.23,295.3 v3.9 M844.23,5.9 v3.9 M874.10,295.3 v6.6 M874.10,5.9 v6.6 M903.98,295.3 v3.9 M903.98,5.9 v3.9 M933.85,295.3 v6.6 M933.85,5.9 v6.6 M963.73,295.3 v3.9 M963.73,5.9 v3.9 M993.60,295.3 v6.6 M993.60,5.9 v6.6 M629.4,294.94 h-3.9 M1017.5,294.94 h-3.9 M629.4,270.85 h-6.6 M1017.5,270.85 h-6.6 M629.4,246.77 h-3.9 M1017.5,246.77 h-3.9 M629.4,222.68 h-6.6 M1017.5,222.68 h-6.6 M629.4,198.59 h-3.9 M1017.5,198.59 h-3.9 M629.4,174.51 h-6.6 M1017.5,174.51 h-6.6 M629.4,150.43 h-3.9 M1017.5,150.43 h-3.9 M629.4,126.34 h-6.6 M1017.5,126.34 h-6.6 M629.4,102.25 h-3.9 M1017.5,102.25 h-3.9 M629.4,78.17 h-6.6 M1017.5,78.17 h-6.6 M629.4,54.09 h-3.9 M1017.5,54.09 h-3.9 M629.4,30.00 h-6.6 M1017.5,30.00 h-6.6 M629.4,5.91 h-3.9 M1017.5,5.91 h-3.9" fill="none" stroke="#222222" stroke-width="2.2"/>
<text x="618.8" y="277.75" font-family='"Liberation Sans", sans-serif' font-size="21.2" font-weight="bold" fill="#222222" text-anchor="end" textLength="60.2" lengthAdjust="spacingAndGlyphs">10000</text>
<text x="618.8" y="229.58" font-family='"Liberation Sans", sans-serif' font-size="21.2" font-weight="bold" fill="#222222" text-anchor="end" textLength="60.2" lengthAdjust="spacingAndGlyphs">20000</text>
<text x="618.8" y="181.41" font-family='"Liberation Sans", sans-serif' font-size="21.2" font-weight="bold" fill="#222222" text-anchor="end" textLength="60.2" lengthAdjust="spacingAndGlyphs">30000</text>
<text x="618.8" y="133.24" font-family='"Liberation Sans", sans-serif' font-size="21.2" font-weight="bold" fill="#222222" text-anchor="end" textLength="60.2" lengthAdjust="spacingAndGlyphs">40000</text>
<text x="618.8" y="85.07" font-family='"Liberation Sans", sans-serif' font-size="21.2" font-weight="bold" fill="#222222" text-anchor="end" textLength="60.2" lengthAdjust="spacingAndGlyphs">50000</text>
<text x="618.8" y="36.9" font-family='"Liberation Sans", sans-serif' font-size="21.2" font-weight="bold" fill="#222222" text-anchor="end" textLength="60.2" lengthAdjust="spacingAndGlyphs">60000</text>
<text x="635.1" y="322.6" font-family='"Liberation Sans", sans-serif' font-size="21.2" font-weight="bold" fill="#222222" text-anchor="middle" textLength="11.8" lengthAdjust="spacingAndGlyphs">0</text>
<text x="694.85" y="322.6" font-family='"Liberation Sans", sans-serif' font-size="21.2" font-weight="bold" fill="#222222" text-anchor="middle" textLength="24.2" lengthAdjust="spacingAndGlyphs">50</text>
<text x="754.6" y="322.6" font-family='"Liberation Sans", sans-serif' font-size="21.2" font-weight="bold" fill="#222222" text-anchor="middle" textLength="36.5" lengthAdjust="spacingAndGlyphs">100</text>
<text x="814.35" y="322.6" font-family='"Liberation Sans", sans-serif' font-size="21.2" font-weight="bold" fill="#222222" text-anchor="middle" textLength="36.5" lengthAdjust="spacingAndGlyphs">150</text>
<text x="874.1" y="322.6" font-family='"Liberation Sans", sans-serif' font-size="21.2" font-weight="bold" fill="#222222" text-anchor="middle" textLength="36.5" lengthAdjust="spacingAndGlyphs">200</text>
<text x="933.85" y="322.6" font-family='"Liberation Sans", sans-serif' font-size="21.2" font-weight="bold" fill="#222222" text-anchor="middle" textLength="36.5" lengthAdjust="spacingAndGlyphs">250</text>
<text x="993.6" y="322.6" font-family='"Liberation Sans", sans-serif' font-size="21.2" font-weight="bold" fill="#222222" text-anchor="middle" textLength="36.5" lengthAdjust="spacingAndGlyphs">300</text>
<text x="823.5" y="354.3" font-family='"Liberation Sans", sans-serif' font-size="21.5" font-weight="bold" fill="#222222" text-anchor="middle" textLength="83.8" lengthAdjust="spacingAndGlyphs">Time (s)</text>
<text transform="translate(546.0,152.3) rotate(-90)" font-family='"Liberation Sans", sans-serif' font-size="23" font-weight="bold" fill="#222222" text-anchor="middle" textLength="260.3" lengthAdjust="spacingAndGlyphs">Intensity (Photon Count)</text>
<text x="709.8" y="36.7" font-family='"Liberation Sans", sans-serif' font-size="16.3" font-weight="bold" fill="#222222" text-anchor="start" textLength="156.8" lengthAdjust="spacingAndGlyphs">POD: 0.0005 mg/ml</text>
<text x="999" y="100.4" font-family='"Liberation Sans", sans-serif' font-size="16.5" font-weight="bold" fill="#222222" text-anchor="start" textLength="9.36" lengthAdjust="spacingAndGlyphs">a</text>
<text x="999" y="148.9" font-family='"Liberation Sans", sans-serif' font-size="16.5" font-weight="bold" fill="#222222" text-anchor="start" textLength="10.28" lengthAdjust="spacingAndGlyphs">b</text>
<text x="999" y="178.4" font-family='"Liberation Sans", sans-serif' font-size="16.5" font-weight="bold" fill="#222222" text-anchor="start" textLength="9.36" lengthAdjust="spacingAndGlyphs">c</text>
<text x="999" y="197.4" font-family='"Liberation Sans", sans-serif' font-size="16.5" font-weight="bold" fill="#222222" text-anchor="start" textLength="10.28" lengthAdjust="spacingAndGlyphs">d</text>
<text x="999" y="218.4" font-family='"Liberation Sans", sans-serif' font-size="16.5" font-weight="bold" fill="#222222" text-anchor="start" textLength="9.36" lengthAdjust="spacingAndGlyphs">e</text>
<text x="1000" y="237.9" font-family='"Liberation Sans", sans-serif' font-size="16.5" font-weight="bold" fill="#222222" text-anchor="start" textLength="5.6" lengthAdjust="spacingAndGlyphs">f</text>
<text x="999" y="253.3" font-family='"Liberation Sans", sans-serif' font-size="16.5" font-weight="bold" fill="#222222" text-anchor="start" textLength="10.28" lengthAdjust="spacingAndGlyphs">g</text>
<text x="999" y="271.8" font-family='"Liberation Sans", sans-serif' font-size="16.5" font-weight="bold" fill="#222222" text-anchor="start" textLength="10.28" lengthAdjust="spacingAndGlyphs">h</text>
<text x="776.5" y="395.4" font-family='"Liberation Serif", serif' font-size="27.6" fill="#111" text-anchor="middle">(<tspan font-weight="bold">b</tspan>)</text>
</g>
<g>
<path d="M369.30,432.50 L370.00,432.50 L370.82,432.50 L371.77,432.49 L372.82,432.49 L373.97,432.49 L375.20,432.48 L376.51,432.47 L377.89,432.47 L379.32,432.46 L380.80,432.45 L382.31,432.45 L383.85,432.44 L385.40,432.44 L386.95,432.43 L388.50,432.51 L390.02,432.18 L391.52,432.44 L392.98,432.64 L394.39,432.93 L395.74,432.47 L397.02,432.80 L398.22,433.02 L399.33,433.07 L400.34,432.96 L401.23,433.02 L402.00,432.78 L403.13,432.46 L404.12,432.87 L405.04,433.09 L406.00,433.41 L406.98,434.33 L407.94,435.07 L408.93,435.68 L410.00,436.28 L410.94,436.89 L411.93,437.35 L412.95,437.74 L413.98,438.61 L415.00,439.21 L415.83,439.74 L416.67,440.39 L417.50,441.35 L418.33,442.09 L419.17,442.71 L420.00,443.28 L420.83,443.96 L421.67,444.75 L422.50,445.73 L423.33,446.61 L424.17,447.65 L425.00,448.59 L425.83,449.51 L426.67,450.31 L427.50,451.34 L428.33,451.93 L429.17,453.11 L430.00,454.20 L430.83,454.85 L431.67,455.97 L432.50,457.13 L433.33,458.07 L434.17,458.52 L435.00,459.25 L435.81,459.91 L436.59,461.10 L437.38,461.74 L438.19,463.14 L439.05,464.28 L440.00,465.33 L440.77,465.94 L441.59,466.42 L442.43,466.96 L443.31,467.68 L444.21,469.08 L445.13,469.55 L446.06,470.84 L447.00,471.26 L447.97,472.13 L448.98,472.72 L450.01,473.29 L451.06,474.66 L452.10,475.71 L453.12,476.37 L454.09,477.20 L455.00,477.77 L456.11,478.12 L457.13,479.35 L458.09,479.66 L459.04,480.79 L459.99,481.19 L461.00,482.04 L462.03,483.12 L463.06,483.77 L464.09,484.01 L465.17,484.98 L466.30,485.93 L467.50,486.84 L468.46,487.00 L469.45,487.19 L470.48,488.06 L471.53,488.41 L472.61,489.29 L473.72,489.74 L474.85,489.92 L476.00,490.64 L477.04,491.25 L478.10,491.25 L479.19,491.87 L480.29,492.05 L481.40,492.52 L482.54,493.44 L483.68,494.03 L484.84,494.53 L486.00,494.63 L487.18,495.15 L488.38,495.82 L489.59,496.25 L490.82,496.66 L492.06,496.84 L493.30,497.00 L494.54,497.88 L495.77,497.97 L497.00,498.13 L498.27,499.07 L499.63,499.23 L501.02,499.87 L502.41,500.17 L503.76,500.54 L505.04,501.31 L506.19,501.63 L507.19,501.70 L508.00,502.31 L508.78,502.38 L509.50,502.19 L510.15,502.65 L511.00,503.08 L511.84,503.83 L512.89,504.43 L514.09,504.75 L515.39,505.45 L516.71,505.40 L518.00,505.96 L519.07,506.12 L520.15,506.44 L521.25,506.95 L522.38,507.42 L523.54,507.57 L524.74,508.32 L526.00,508.40 L527.15,509.02 L528.34,508.99 L529.56,509.47 L530.81,509.55 L532.09,509.54 L533.38,510.09 L534.69,509.79 L536.00,510.12 L537.22,510.26 L538.54,509.97 L539.91,510.06 L541.29,510.52 L542.64,510.82 L543.93,510.96 L545.11,511.03 L546.15,510.81 L547.00,510.72 L548.40,510.61 L549.50,511.12 L549.97,512.12 L550.30,513.75 L550.70,514.35 L551.29,513.88 L551.94,512.64 L552.50,511.27 L553.50,510.86 L554.27,511.19 L555.25,511.25 L556.40,510.85 L557.66,510.73 L558.99,511.16 L560.36,511.13 L561.71,511.65 L563.00,511.46 L564.16,511.64 L565.40,511.39 L566.69,511.94 L567.98,512.12 L569.26,512.26 L570.48,512.06 L571.62,512.37 L572.64,512.43 L573.50,512.20 L574.73,512.46 L575.78,513.19 L577.00,512.92 L578.09,512.43 L579.26,512.54 L580.55,512.00 L582.00,511.72 L583.08,511.78 L584.28,511.57 L585.58,511.71 L586.93,511.30 L588.31,510.98 L589.68,510.86 L591.00,510.72 L592.27,511.18 L593.51,511.60 L594.75,511.34 L596.00,511.18 L597.28,511.05 L598.61,511.17 L600.00,511.31 L601.16,511.15 L602.40,511.49 L603.69,511.56 L605.00,511.85 L606.31,511.96 L607.59,512.09 L608.82,511.63 L609.96,511.45 L611.00,511.86 L612.20,511.92 L613.26,512.18 L614.25,512.39 L615.24,512.22 L616.30,511.92 L617.50,512.22 L618.51,512.54 L619.62,512.20 L620.81,512.41 L622.07,512.59 L623.38,512.97 L624.71,513.12 L626.06,512.82 L627.40,513.17 L628.72,513.01 L630.00,512.98 L631.25,513.58 L632.50,513.30 L633.75,513.25 L635.00,513.32 L636.25,513.58 L637.50,514.10 L638.75,513.95 L640.00,514.22 L641.25,514.21 L642.50,514.71 L643.74,514.66 L644.96,514.74 L646.17,514.98 L647.38,514.83 L648.59,514.74 L649.82,515.36 L651.07,515.14 L652.34,515.19 L653.65,515.36 L655.00,515.72 L656.16,516.00 L657.34,516.46 L658.55,516.10 L659.78,516.50 L661.02,516.49 L662.28,516.23 L663.55,516.32 L664.83,516.27 L666.12,516.17 L667.41,516.80 L668.71,516.87 L670.00,516.56 L671.20,516.43 L672.43,516.74 L673.66,516.51 L674.91,516.69 L676.17,516.63 L677.43,516.57 L678.69,517.03 L679.95,517.16 L681.19,516.90 L682.42,517.29 L683.64,517.01 L684.83,517.10 L686.00,517.27 L687.36,516.91 L688.69,517.32 L690.02,517.23 L691.32,517.01 L692.61,516.61 L693.88,516.63 L695.14,516.64 L696.38,516.68 L697.60,516.62 L698.81,516.51 L700.00,516.52 L701.29,517.02 L702.54,517.12 L703.78,517.13 L704.99,517.00 L706.19,517.26 L707.37,517.30 L708.54,517.46 L709.70,516.90 L710.85,517.14 L712.00,516.80 L713.32,516.98 L714.68,516.65 L716.07,517.09 L717.45,516.83 L718.78,517.08 L720.04,517.17 L721.18,517.14 L722.18,517.30 L723.00,517.13 L724.06,517.25 L725.00,518.01 L725.93,517.53 L727.00,517.33 L727.77,516.79 L728.70,516.85 L729.77,517.05 L730.94,517.20 L732.19,517.11 L733.50,517.12 L734.85,516.76 L736.19,516.39 L737.52,516.84 L738.80,517.01 L740.00,517.11 L741.33,517.09 L742.73,516.76 L744.18,516.46 L745.64,516.37 L747.06,516.24 L748.42,516.46 L749.68,516.13 L750.81,516.05 L751.76,515.96 L752.50,516.05" fill="none" stroke="#1d1d1d" stroke-width="2.6" stroke-linejoin="round" stroke-linecap="butt"/>
<path d="M369.30,432.50 L370.06,432.50 L371.02,432.49 L372.15,432.48 L373.43,432.47 L374.83,432.46 L376.32,432.44 L377.88,432.43 L379.46,432.42 L381.05,432.41 L382.62,432.40 L384.14,432.40 L385.58,432.41 L386.92,432.42 L388.12,432.08 L389.15,432.43 L390.00,432.86 L391.14,433.26 L392.07,433.44 L393.00,433.67 L393.94,433.63 L394.89,433.34 L396.00,433.22 L397.19,433.09 L398.59,432.86 L399.95,432.98 L401.00,433.36 L401.75,433.13 L402.50,433.01 L403.32,433.28 L404.34,432.98 L405.44,433.05 L406.50,434.09 L407.28,435.03 L408.05,435.61 L408.83,436.61 L409.64,437.14 L410.50,438.30 L411.14,438.81 L411.83,440.13 L412.54,441.04 L413.29,441.99 L414.06,443.25 L414.86,444.14 L415.67,444.77 L416.50,445.53 L417.18,446.64 L417.89,447.34 L418.63,448.75 L419.38,449.70 L420.14,450.77 L420.91,452.16 L421.66,453.14 L422.40,454.17 L423.12,455.21 L423.81,455.62 L424.55,456.78 L425.27,457.83 L425.97,458.43 L426.65,459.63 L427.33,460.44 L427.99,461.52 L428.66,462.25 L429.33,463.70 L430.00,464.98 L430.68,465.59 L431.36,466.36 L432.04,467.80 L432.72,468.51 L433.39,469.92 L434.06,470.52 L434.72,471.34 L435.37,472.73 L436.00,473.09 L436.89,474.14 L437.75,475.27 L438.59,475.81 L439.44,476.71 L440.32,477.76 L441.25,478.46 L441.97,478.85 L442.71,479.56 L443.47,480.52 L444.23,481.75 L445.02,482.77 L445.83,483.64 L446.65,484.78 L447.50,485.46 L448.38,486.66 L449.29,487.57 L450.22,488.03 L451.17,489.04 L452.13,489.73 L453.10,490.59 L454.05,491.00 L455.00,491.52 L455.96,492.54 L456.96,493.16 L457.98,493.84 L458.98,494.83 L459.96,495.29 L460.89,496.21 L461.74,496.81 L462.50,497.56 L463.62,498.25 L464.64,498.55 L465.53,498.91 L466.25,499.70 L466.64,500.69 L466.87,502.23 L467.03,503.36 L467.21,505.04 L467.50,505.97 L468.17,505.39 L468.97,504.28 L470.00,503.97 L470.69,504.11 L471.49,504.97 L472.39,505.93 L473.36,506.32 L474.38,506.91 L475.42,508.15 L476.47,509.08 L477.50,509.81 L478.53,510.10 L479.60,510.85 L480.69,511.35 L481.80,511.92 L482.91,512.56 L484.03,513.34 L485.15,514.29 L486.25,514.80 L487.23,515.62 L488.22,516.56 L489.21,517.34 L490.21,517.75 L491.20,518.55 L492.18,518.73 L493.14,519.62 L494.08,520.12 L495.00,520.77 L496.15,521.06 L497.29,522.03 L498.41,522.83 L499.49,523.60 L500.54,523.64 L501.54,524.32 L502.50,524.78 L503.50,525.65 L504.39,526.53 L505.22,527.31 L506.06,527.61 L506.96,528.60 L508.00,529.22 L508.99,529.52 L510.05,530.01 L511.15,530.79 L512.30,530.83 L513.50,531.60 L514.73,531.86 L516.00,532.65 L517.02,533.29 L518.09,533.38 L519.19,533.76 L520.31,534.37 L521.45,534.48 L522.59,534.72 L523.74,535.37 L524.88,535.80 L526.00,536.00 L527.10,536.88 L528.18,537.27 L529.26,537.31 L530.33,537.92 L531.42,538.02 L532.52,538.71 L533.64,538.87 L534.80,538.81 L536.00,538.98 L537.11,539.67 L538.26,540.20 L539.42,540.09 L540.61,540.41 L541.81,540.97 L543.03,540.97 L544.26,541.46 L545.50,542.04 L546.75,542.17 L548.00,542.02 L549.15,542.37 L550.32,542.54 L551.50,542.46 L552.70,542.75 L553.90,543.17 L555.10,543.15 L556.30,543.18 L557.50,543.43 L558.68,543.68 L559.85,543.76 L561.00,544.07 L562.24,544.82 L563.45,544.82 L564.64,545.04 L565.82,545.31 L567.00,545.85 L568.18,546.12 L569.36,546.10 L570.55,546.21 L571.76,546.83 L573.00,547.22 L574.17,547.38 L575.40,547.43 L576.66,547.78 L577.95,548.04 L579.24,548.45 L580.51,548.32 L581.75,548.55 L582.93,548.45 L584.05,549.02 L585.08,549.08 L586.00,549.02 L587.34,548.94 L588.54,549.16 L589.68,549.35 L590.81,549.69 L592.00,549.76 L593.03,549.70 L594.06,550.16 L595.09,549.92 L596.17,549.96 L597.30,550.38 L598.50,550.14 L599.60,550.03 L600.77,550.04 L601.98,550.40 L603.22,550.49 L604.48,550.75 L605.74,551.11 L607.00,551.32 L608.26,551.48 L609.53,551.17 L610.82,551.00 L612.12,551.21 L613.41,551.34 L614.71,551.34 L616.00,551.35 L617.27,550.78 L618.51,550.79 L619.75,550.62 L621.00,550.84 L622.28,550.78 L623.61,550.37 L625.00,550.55 L626.13,550.46 L627.28,550.37 L628.46,550.69 L629.67,550.41 L630.90,550.36 L632.15,550.67 L633.42,550.49 L634.70,550.24 L636.00,550.56 L637.19,550.48 L638.40,550.22 L639.64,550.24 L640.89,550.00 L642.16,550.22 L643.43,550.30 L644.70,550.28 L645.98,549.76 L647.24,549.47 L648.50,549.56 L649.75,549.71 L651.00,549.37 L652.25,548.99 L653.50,548.96 L654.75,548.92 L656.00,548.64 L657.25,548.50 L658.50,548.94 L659.75,549.20 L661.00,549.31 L662.28,549.08 L663.60,548.88 L664.94,549.18 L666.29,548.76 L667.62,548.60 L668.93,548.98 L670.19,548.67 L671.38,548.93 L672.49,549.17 L673.50,548.94 L674.70,548.58 L675.76,548.91 L676.75,548.90 L677.74,549.10 L678.80,548.75 L680.00,549.12 L681.09,548.86 L682.29,549.40 L683.56,549.20 L684.88,549.61 L686.21,549.58 L687.52,549.36 L688.80,549.78 L690.00,549.80 L691.26,549.89 L692.44,549.72 L693.57,549.98 L694.70,550.06 L695.86,550.24 L697.12,550.54 L698.50,550.25 L699.54,550.72 L700.66,550.71 L701.83,550.46 L703.06,550.42 L704.33,550.71 L705.62,550.91 L706.92,550.57 L708.22,550.88 L709.51,551.07 L710.77,551.42 L712.00,550.98 L713.21,551.37 L714.43,551.09 L715.66,551.12 L716.89,551.30 L718.11,551.54 L719.32,551.83 L720.51,551.97 L721.68,551.73 L722.83,551.94 L723.93,551.60 L725.00,551.59 L726.39,551.47 L727.71,551.59 L728.97,551.66 L730.19,551.56 L731.38,551.54 L732.57,551.50 L733.77,551.82 L735.00,551.87 L736.32,551.73 L737.73,551.91 L739.19,552.10 L740.62,552.23 L741.98,552.18 L743.20,552.00 L744.23,551.73 L745.00,551.65" fill="none" stroke="#df2f2d" stroke-width="2.6" stroke-linejoin="round" stroke-linecap="butt"/>
<path d="M368.90,432.50 L369.61,432.50 L370.45,432.50 L371.40,432.49 L372.47,432.48 L373.64,432.48 L374.89,432.47 L376.23,432.46 L377.62,432.45 L379.08,432.44 L380.58,432.43 L382.12,432.42 L383.68,432.41 L385.25,432.41 L386.83,432.40 L388.40,432.09 L389.95,431.90 L391.47,431.90 L392.95,432.16 L394.38,432.17 L395.75,432.21 L397.05,432.16 L398.27,432.00 L399.39,432.10 L400.41,432.00 L401.32,432.27 L402.10,432.10 L403.26,432.62 L404.24,432.93 L405.15,433.62 L406.10,434.27 L406.88,435.11 L407.65,435.58 L408.43,436.41 L409.24,437.53 L410.10,438.33 L410.74,438.71 L411.43,439.71 L412.14,440.63 L412.89,441.91 L413.66,442.97 L414.46,443.65 L415.27,444.69 L416.10,445.52 L416.78,446.41 L417.49,447.59 L418.23,448.57 L418.98,449.37 L419.74,450.23 L420.51,451.23 L421.26,452.71 L422.00,453.93 L422.72,454.94 L423.41,456.12 L424.15,457.32 L424.87,458.47 L425.57,458.88 L426.25,459.79 L426.93,460.94 L427.59,461.48 L428.26,462.38 L428.93,463.14 L429.60,464.56 L430.27,465.48 L430.94,466.20 L431.60,467.58 L432.25,468.75 L432.91,469.93 L433.57,470.97 L434.24,471.66 L434.91,472.55 L435.60,473.56 L436.30,474.63 L437.01,475.40 L437.73,476.66 L438.45,477.28 L439.18,478.31 L439.91,479.78 L440.65,480.63 L441.38,482.00 L442.10,482.84 L442.82,483.95 L443.55,485.14 L444.29,485.61 L445.02,486.78 L445.75,487.52 L446.47,488.51 L447.19,489.37 L447.90,490.47 L448.60,491.34 L449.37,492.34 L450.14,493.47 L450.89,494.48 L451.63,495.20 L452.37,496.49 L453.11,497.68 L453.85,498.88 L454.60,499.53 L455.35,500.48 L456.09,501.32 L456.83,502.42 L457.57,503.33 L458.31,504.41 L459.06,504.98 L459.83,505.44 L460.60,506.81 L461.41,507.32 L462.25,508.31 L463.12,509.00 L463.98,510.36 L464.83,511.11 L465.65,511.75 L466.41,512.78 L467.10,513.81 L467.96,515.18 L468.68,516.02 L469.35,516.61 L470.09,517.23 L471.00,518.35 L471.79,519.39 L472.67,520.32 L473.60,520.59 L474.58,521.35 L475.57,522.00 L476.55,522.84 L477.50,523.31 L478.43,524.14 L479.37,525.24 L480.31,525.84 L481.25,526.80 L482.18,527.61 L483.10,528.31 L484.00,528.79 L485.01,529.62 L485.96,530.17 L486.91,531.21 L487.87,531.88 L488.89,532.70 L490.00,533.57 L491.02,534.23 L492.10,534.66 L493.21,535.36 L494.36,535.67 L495.55,536.47 L496.76,537.32 L498.00,537.40 L499.11,537.66 L500.23,538.37 L501.39,539.26 L502.56,539.78 L503.76,540.17 L504.98,540.88 L506.23,541.27 L507.50,541.63 L508.55,542.06 L509.64,542.54 L510.77,543.25 L511.91,544.06 L513.06,544.32 L514.21,544.97 L515.34,545.90 L516.44,546.10 L517.49,546.59 L518.50,547.60 L519.68,548.10 L520.79,548.90 L521.85,548.93 L522.88,549.52 L523.89,549.83 L524.90,550.48 L525.93,551.00 L527.00,551.53 L528.08,551.70 L529.14,552.30 L530.21,552.66 L531.28,553.08 L532.38,553.60 L533.53,553.76 L534.73,554.41 L536.00,554.91 L537.07,555.63 L538.19,556.27 L539.35,556.48 L540.54,557.11 L541.75,557.04 L542.98,557.47 L544.23,557.90 L545.49,558.15 L546.75,558.92 L548.00,559.27 L549.15,559.66 L550.32,560.03 L551.50,560.68 L552.70,561.35 L553.90,561.29 L555.10,561.93 L556.30,562.60 L557.50,562.77 L558.68,562.86 L559.85,563.60 L561.00,564.04 L562.24,564.02 L563.45,564.37 L564.64,564.54 L565.82,565.31 L567.00,565.95 L568.18,566.37 L569.36,566.43 L570.55,567.02 L571.76,567.33 L573.00,567.55 L574.17,568.06 L575.38,568.03 L576.64,568.82 L577.91,569.31 L579.18,569.85 L580.44,570.14 L581.67,570.23 L582.86,570.70 L583.99,570.67 L585.04,571.30 L586.00,571.52 L587.32,572.03 L588.54,572.30 L589.68,572.45 L590.79,572.77 L591.88,572.72 L593.00,572.47 L594.19,572.28 L595.44,572.37 L596.68,572.53 L597.84,572.65 L598.87,572.46 L599.70,572.73 L600.52,573.40 L601.00,574.20 L601.50,574.96 L602.13,575.13 L602.79,574.49 L603.50,573.77 L604.66,573.18 L606.00,573.10 L606.94,573.48 L608.07,573.65 L609.35,573.96 L610.73,574.23 L612.17,574.33 L613.60,573.95 L615.00,574.31 L616.20,574.01 L617.41,574.45 L618.63,574.11 L619.88,574.38 L621.13,574.55 L622.41,574.55 L623.70,574.57 L625.00,574.45 L626.16,574.67 L627.32,574.44 L628.48,574.84 L629.66,575.09 L630.85,574.66 L632.07,574.74 L633.33,574.87 L634.64,574.60 L636.00,575.02 L637.14,575.39 L638.29,575.01 L639.45,575.53 L640.63,575.16 L641.84,575.59 L643.09,575.59 L644.37,575.90 L645.69,575.92 L647.07,575.85 L648.50,575.63 L650.00,575.84 L651.02,575.67 L652.11,575.68 L653.25,575.88 L654.45,576.09 L655.68,576.17 L656.96,576.00 L658.26,576.41 L659.58,576.57 L660.92,576.52 L662.27,576.44 L663.61,576.20 L664.95,576.11 L666.27,576.07 L667.57,576.36 L668.85,576.73 L670.08,576.67 L671.27,576.68 L672.42,576.46 L673.50,577.08 L674.97,576.97 L676.36,577.27 L677.67,576.98 L678.92,577.33 L680.12,577.67 L681.30,577.29 L682.46,577.05 L683.63,577.46 L684.81,577.88 L686.02,578.02 L687.28,577.63 L688.60,577.91 L690.00,578.00 L691.12,577.71 L692.28,577.63 L693.46,577.48 L694.67,577.52 L695.91,577.52 L697.16,577.95 L698.43,578.20 L699.70,578.46 L700.99,578.31 L702.27,578.00 L703.55,577.71 L704.83,578.27 L706.10,578.55 L707.36,578.70 L708.59,578.44 L709.81,578.50 L711.00,578.20 L712.34,577.99 L713.69,577.97 L715.04,578.44 L716.39,578.47 L717.74,578.38 L719.08,578.46 L720.41,578.68 L721.71,578.52 L723.00,578.36 L724.26,578.35 L725.49,578.70 L726.68,578.36 L727.83,578.86 L728.94,578.66 L730.00,578.73 L731.40,578.55 L732.73,578.99 L734.00,578.65 L735.22,578.95 L736.39,578.53 L737.54,578.67 L738.66,579.08 L739.77,579.30 L740.88,579.11 L742.00,578.90 L743.29,578.66 L744.64,578.35 L746.00,578.58 L747.35,578.57 L748.64,578.50 L749.83,578.43 L750.90,578.42 L751.80,578.48 L752.50,578.62" fill="none" stroke="#3451a6" stroke-width="2.6" stroke-linejoin="round" stroke-linecap="butt"/>
<path d="M369.30,432.50 L370.01,432.50 L370.85,432.50 L371.80,432.49 L372.87,432.48 L374.04,432.48 L375.29,432.47 L376.63,432.46 L378.02,432.45 L379.48,432.44 L380.98,432.43 L382.52,432.42 L384.08,432.41 L385.65,432.41 L387.23,432.40 L388.80,432.20 L390.35,432.34 L391.87,432.67 L393.35,432.74 L394.78,432.47 L396.15,432.38 L397.45,432.52 L398.67,432.22 L399.79,431.96 L400.81,432.23 L401.72,432.53 L402.50,432.33 L403.66,432.39 L404.64,432.76 L405.55,433.32 L406.50,433.67 L407.28,434.84 L408.05,435.46 L408.83,436.01 L409.64,437.40 L410.50,438.60 L411.14,438.93 L411.83,439.96 L412.54,440.95 L413.29,442.16 L414.06,442.93 L414.86,443.65 L415.67,445.11 L416.50,445.71 L417.18,446.98 L417.89,447.57 L418.63,448.50 L419.38,449.97 L420.14,450.81 L420.91,452.18 L421.66,452.98 L422.40,454.19 L423.12,455.18 L423.81,455.93 L424.55,456.99 L425.27,458.03 L425.97,458.83 L426.65,460.11 L427.33,460.55 L427.99,461.67 L428.66,462.29 L429.33,463.36 L430.00,464.49 L430.67,465.49 L431.34,466.67 L432.00,467.59 L432.65,468.49 L433.31,469.30 L433.97,470.62 L434.64,471.75 L435.31,472.30 L436.00,473.39 L436.70,474.61 L437.41,475.81 L438.13,476.34 L438.85,477.58 L439.58,478.93 L440.31,480.04 L441.05,480.88 L441.78,481.62 L442.50,482.27 L443.22,483.78 L443.95,485.02 L444.69,485.51 L445.42,486.62 L446.15,487.94 L446.87,488.63 L447.59,489.91 L448.30,490.57 L449.00,491.54 L449.77,492.51 L450.54,493.65 L451.29,494.26 L452.03,495.41 L452.77,496.21 L453.51,497.54 L454.25,498.10 L455.00,499.21 L455.75,500.40 L456.49,501.37 L457.23,502.03 L457.97,503.21 L458.71,503.70 L459.46,504.75 L460.23,505.37 L461.00,506.18 L461.78,506.99 L462.54,508.17 L463.32,509.03 L464.10,509.91 L464.90,510.46 L465.73,511.15 L466.59,512.19 L467.50,513.49 L468.19,514.34 L468.90,515.63 L469.63,516.76 L470.38,517.62 L471.14,518.09 L471.92,519.27 L472.71,520.04 L473.52,521.07 L474.34,522.04 L475.16,522.88 L476.00,524.29 L476.71,525.27 L477.44,526.51 L478.16,527.16 L478.90,528.33 L479.65,528.76 L480.40,529.54 L481.16,530.65 L481.94,531.68 L482.73,532.78 L483.53,533.55 L484.34,534.52 L485.16,535.58 L486.00,536.18 L486.79,537.25 L487.60,538.45 L488.42,539.44 L489.25,540.65 L490.10,541.12 L490.95,541.90 L491.81,542.60 L492.68,543.51 L493.56,544.77 L494.44,545.89 L495.33,546.57 L496.22,547.80 L497.11,548.68 L498.00,549.44 L498.90,549.87 L499.81,551.23 L500.73,551.77 L501.66,552.96 L502.59,553.98 L503.53,554.84 L504.47,556.03 L505.41,556.68 L506.35,557.10 L507.29,558.37 L508.23,559.24 L509.16,559.68 L510.08,560.04 L511.00,560.84 L512.18,561.41 L513.38,562.00 L514.61,563.04 L515.83,563.23 L517.05,563.73 L518.25,564.09 L519.42,564.51 L520.54,564.74 L521.60,565.41 L522.59,565.64 L523.50,566.06 L524.78,566.89 L525.92,567.72 L526.98,568.42 L527.99,569.20 L528.98,569.36 L530.00,569.66 L530.99,570.11 L531.93,570.69 L532.85,571.34 L533.80,572.09 L534.84,572.77 L536.00,573.54 L536.94,574.06 L537.95,574.29 L539.04,575.23 L540.17,575.87 L541.34,576.26 L542.52,576.62 L543.70,577.09 L544.87,578.16 L546.00,578.79 L547.15,579.27 L548.37,579.67 L549.61,579.90 L550.86,580.78 L552.07,581.42 L553.22,581.45 L554.28,581.53 L555.22,581.90 L556.00,582.66 L556.98,582.92 L557.74,583.65 L558.50,584.67 L559.27,584.85 L560.04,585.46 L561.00,585.71 L561.97,586.63 L563.12,587.09 L564.40,587.35 L565.71,587.63 L567.00,587.93 L568.03,588.56 L569.04,588.92 L570.07,589.44 L571.13,589.82 L572.27,590.16 L573.50,590.51 L574.41,590.26 L575.41,590.83 L576.48,590.76 L577.60,591.10 L578.78,591.72 L579.98,591.99 L581.20,592.70 L582.43,593.36 L583.65,593.37 L584.84,594.27 L586.00,594.61 L587.15,594.92 L588.31,594.99 L589.49,595.49 L590.67,595.75 L591.85,596.04 L593.02,597.03 L594.18,597.21 L595.31,597.72 L596.41,598.12 L597.48,598.21 L598.50,598.74 L599.83,599.24 L601.09,599.61 L602.28,599.66 L603.44,599.92 L604.57,599.71 L605.70,600.11 L606.83,600.08 L608.00,600.34 L609.19,600.88 L610.38,600.99 L611.56,601.50 L612.75,601.92 L613.94,601.83 L615.12,602.41 L616.31,602.73 L617.50,602.90 L618.68,602.60 L619.85,602.80 L621.02,602.72 L622.19,602.70 L623.36,603.14 L624.55,603.26 L625.76,603.61 L627.00,603.79 L628.11,604.41 L629.23,604.49 L630.35,604.67 L631.49,604.82 L632.64,604.71 L633.81,604.92 L635.01,605.02 L636.24,605.18 L637.50,605.12 L638.67,605.63 L639.87,605.98 L641.10,606.32 L642.36,606.08 L643.62,606.31 L644.90,605.99 L646.19,605.91 L647.47,606.30 L648.74,606.12 L650.00,606.23 L651.25,606.18 L652.50,606.31 L653.75,606.23 L655.00,606.79 L656.25,606.58 L657.50,606.43 L658.75,606.71 L660.00,606.59 L661.25,606.43 L662.50,606.90 L663.75,607.03 L664.99,606.84 L666.23,607.04 L667.48,607.02 L668.72,606.92 L669.96,606.99 L671.21,606.69 L672.47,606.61 L673.73,606.56 L675.00,606.23 L676.17,606.47 L677.35,606.49 L678.54,606.23 L679.73,606.45 L680.93,606.58 L682.13,606.39 L683.33,606.55 L684.51,606.32 L685.69,606.52 L686.85,606.15 L688.00,605.86 L689.24,606.16 L690.46,606.39 L691.67,605.99 L692.87,605.70 L694.06,605.48 L695.25,605.23 L696.43,605.60 L697.62,605.97 L698.80,605.64 L700.00,605.89 L701.20,605.32 L702.38,605.53 L703.57,605.20 L704.75,605.03 L705.94,605.24 L707.13,604.84 L708.33,604.52 L709.54,604.53 L710.76,604.14 L712.00,603.95 L713.16,603.90 L714.37,603.79 L715.61,603.70 L716.86,603.37 L718.12,603.70 L719.37,603.41 L720.60,603.07 L721.79,603.05 L722.93,603.09 L724.00,602.99 L725.00,603.07 L726.31,603.38 L727.51,602.88 L728.64,602.79 L729.72,603.00 L730.79,602.76 L731.87,602.93 L733.00,602.88 L734.24,602.67 L735.59,602.56 L736.97,602.59 L738.31,602.56 L739.52,602.59 L740.55,603.09 L741.30,603.29" fill="none" stroke="#c66fae" stroke-width="2.6" stroke-linejoin="round" stroke-linecap="butt"/>
<path d="M369.30,432.50 L370.01,432.50 L370.85,432.50 L371.80,432.49 L372.87,432.48 L374.04,432.48 L375.29,432.47 L376.63,432.46 L378.02,432.45 L379.48,432.44 L380.98,432.43 L382.52,432.42 L384.08,432.41 L385.65,432.41 L387.23,432.40 L388.80,432.37 L390.35,432.23 L391.87,432.08 L393.35,432.02 L394.78,431.85 L396.15,431.94 L397.45,432.38 L398.67,432.33 L399.79,432.28 L400.81,432.19 L401.72,432.10 L402.50,432.14 L403.66,432.10 L404.64,432.78 L405.55,433.10 L406.50,434.12 L407.28,434.82 L408.05,435.63 L408.83,436.03 L409.64,437.13 L410.50,438.34 L411.14,439.40 L411.83,440.30 L412.54,440.68 L413.29,441.91 L414.06,443.22 L414.86,443.85 L415.67,445.13 L416.50,446.27 L417.18,447.02 L417.89,448.26 L418.63,448.97 L419.38,450.03 L420.14,450.70 L420.91,452.00 L421.66,453.31 L422.40,454.14 L423.12,455.13 L423.81,456.02 L424.55,457.26 L425.27,457.91 L425.97,458.52 L426.65,459.66 L427.33,460.69 L427.99,461.94 L428.66,462.53 L429.33,463.31 L430.00,464.53 L430.67,465.38 L431.34,466.22 L432.00,467.30 L432.65,468.57 L433.31,469.80 L433.97,470.38 L434.64,471.07 L435.31,471.87 L436.00,472.77 L436.70,474.11 L437.41,475.21 L438.13,476.51 L438.85,477.21 L439.58,478.68 L440.31,479.37 L441.05,480.73 L441.78,481.49 L442.50,482.28 L443.22,483.66 L443.95,484.65 L444.69,485.51 L445.42,486.77 L446.15,487.85 L446.87,488.63 L447.59,489.52 L448.30,490.85 L449.00,491.92 L449.77,492.81 L450.54,493.36 L451.29,494.62 L452.03,495.76 L452.77,496.36 L453.51,497.34 L454.25,497.97 L455.00,499.05 L455.75,499.83 L456.49,500.78 L457.23,501.52 L457.97,502.33 L458.71,503.68 L459.46,504.60 L460.23,505.92 L461.00,506.97 L461.78,507.77 L462.54,508.54 L463.32,509.17 L464.10,510.33 L464.90,510.78 L465.73,511.82 L466.59,512.35 L467.50,513.65 L468.19,514.38 L468.90,515.38 L469.63,516.59 L470.38,517.14 L471.14,517.96 L471.92,518.79 L472.71,520.08 L473.52,521.03 L474.34,522.37 L475.16,523.36 L476.00,524.52 L476.71,525.39 L477.44,526.58 L478.16,527.10 L478.90,528.10 L479.65,529.29 L480.40,530.26 L481.16,530.95 L481.94,531.85 L482.73,532.86 L483.53,534.07 L484.34,534.48 L485.16,535.46 L486.00,536.15 L486.79,537.35 L487.60,538.31 L488.42,539.33 L489.25,540.27 L490.10,540.81 L490.95,541.77 L491.81,543.01 L492.68,543.77 L493.56,544.99 L494.44,545.60 L495.33,546.65 L496.22,547.34 L497.11,548.49 L498.00,549.62 L498.90,550.58 L499.81,551.31 L500.74,551.69 L501.67,552.28 L502.61,553.44 L503.55,554.11 L504.50,554.84 L505.45,556.01 L506.39,557.26 L507.33,558.09 L508.26,558.63 L509.19,559.48 L510.10,560.44 L511.00,560.79 L512.03,562.10 L513.05,562.81 L514.05,563.47 L515.04,564.34 L516.02,564.70 L517.00,565.49 L517.98,566.62 L518.96,567.06 L519.95,567.92 L520.95,568.81 L521.97,569.09 L523.00,569.82 L523.97,570.61 L524.95,571.12 L525.95,571.76 L526.96,572.91 L527.97,573.47 L528.99,574.59 L530.01,575.09 L531.03,576.06 L532.04,576.89 L533.05,577.59 L534.05,578.04 L535.03,578.57 L536.00,579.35 L537.12,580.32 L538.23,580.59 L539.32,581.02 L540.40,581.76 L541.47,582.42 L542.53,582.94 L543.60,583.73 L544.68,584.34 L545.77,584.97 L546.88,586.02 L548.00,587.06 L549.05,587.45 L550.11,588.29 L551.19,588.42 L552.28,589.35 L553.37,589.69 L554.47,590.35 L555.57,591.20 L556.67,591.71 L557.76,591.94 L558.85,592.44 L559.93,593.30 L561.00,594.14 L562.16,594.69 L563.30,595.25 L564.45,595.31 L565.58,595.64 L566.72,596.09 L567.85,596.94 L568.98,597.35 L570.10,598.12 L571.23,598.59 L572.37,599.20 L573.50,599.41 L574.64,600.13 L575.77,600.48 L576.91,601.10 L578.05,601.28 L579.18,601.75 L580.32,601.80 L581.45,602.03 L582.59,602.45 L583.73,602.68 L584.86,602.93 L586.00,603.32 L587.14,604.30 L588.27,604.91 L589.41,605.52 L590.55,605.54 L591.68,606.03 L592.82,606.26 L593.95,606.54 L595.09,607.09 L596.23,607.20 L597.36,607.82 L598.50,607.76 L599.64,608.44 L600.77,608.57 L601.91,608.72 L603.05,609.36 L604.18,609.81 L605.32,610.40 L606.45,610.56 L607.59,610.57 L608.73,610.99 L609.86,611.22 L611.00,611.97 L612.14,612.38 L613.27,612.34 L614.41,612.88 L615.55,613.34 L616.68,613.27 L617.82,613.96 L618.95,614.43 L620.09,614.36 L621.23,614.99 L622.36,615.45 L623.50,615.42 L624.75,616.07 L626.00,616.32 L627.25,616.63 L628.50,616.74 L629.75,617.26 L631.00,617.50 L632.25,617.95 L633.50,617.77 L634.75,618.19 L636.00,618.11 L637.25,618.31 L638.50,618.68 L639.75,619.42 L641.00,619.30 L642.25,619.50 L643.50,620.13 L644.75,620.47 L646.00,620.73 L647.25,620.95 L648.50,620.55 L649.75,620.36 L651.00,620.82 L652.25,620.61 L653.50,621.13 L654.75,621.00 L656.00,621.02 L657.25,621.25 L658.50,621.07 L659.75,621.28 L661.00,621.06 L662.23,621.30 L663.44,621.76 L664.62,622.03 L665.81,621.92 L667.00,621.85 L668.21,622.22 L669.46,622.44 L670.74,622.22 L672.09,622.37 L673.50,622.37 L674.63,622.60 L675.77,622.52 L676.94,622.54 L678.13,622.36 L679.35,621.97 L680.59,621.90 L681.85,622.14 L683.14,622.57 L684.46,622.21 L685.80,622.02 L687.17,622.10 L688.57,622.20 L690.00,622.45 L691.12,622.27 L692.28,622.71 L693.46,623.10 L694.67,622.81 L695.91,623.12 L697.16,623.01 L698.43,623.27 L699.70,622.79 L700.99,623.15 L702.27,623.14 L703.55,623.31 L704.83,622.90 L706.10,623.03 L707.36,623.45 L708.59,623.24 L709.81,623.30 L711.00,623.58 L712.32,623.28 L713.61,623.51 L714.87,623.38 L716.12,623.16 L717.35,623.64 L718.58,623.83 L719.80,623.49 L721.02,623.91 L722.24,623.42 L723.48,623.36 L724.73,623.39 L726.01,623.82 L727.31,623.96 L728.64,623.60 L730.00,623.65 L731.20,623.65 L732.47,623.51 L733.81,623.73 L735.20,624.13 L736.62,624.37 L738.07,624.05 L739.54,623.76 L740.99,624.19 L742.44,624.25 L743.85,624.21 L745.22,624.54 L746.54,624.70 L747.78,624.58 L748.95,624.17 L750.01,624.15 L750.97,624.31 L751.80,624.45 L752.50,624.51" fill="none" stroke="#1f8c48" stroke-width="2.6" stroke-linejoin="round" stroke-linecap="butt"/>
<path d="M369.30,432.50 L370.02,432.50 L370.89,432.49 L371.90,432.48 L373.02,432.47 L374.25,432.46 L375.58,432.45 L376.98,432.43 L378.45,432.42 L379.97,432.40 L381.52,432.39 L383.10,432.38 L384.70,432.37 L386.29,432.36 L387.86,432.35 L389.40,432.49 L390.90,432.13 L392.34,432.28 L393.71,432.29 L394.99,432.11 L396.17,432.33 L397.25,432.20 L398.19,432.35 L399.00,432.55 L400.20,432.64 L401.20,432.92 L402.09,433.82 L403.00,434.52 L403.66,435.40 L404.29,435.90 L404.92,436.96 L405.59,438.09 L406.31,439.70 L407.12,440.54 L407.73,441.43 L408.39,442.04 L409.09,443.39 L409.82,444.11 L410.57,445.37 L411.33,446.32 L412.09,447.45 L412.84,448.15 L413.57,448.89 L414.29,449.82 L415.02,451.04 L415.77,452.30 L416.51,453.11 L417.24,454.31 L417.96,455.44 L418.67,456.33 L419.35,457.19 L420.00,458.01 L420.69,458.96 L421.35,460.19 L421.98,461.10 L422.59,462.17 L423.19,463.77 L423.78,464.48 L424.38,465.86 L425.00,467.06 L425.62,468.35 L426.23,468.95 L426.83,469.58 L427.44,470.73 L428.05,472.12 L428.68,473.37 L429.33,474.25 L430.00,475.05 L430.62,476.03 L431.26,477.30 L431.91,477.93 L432.57,479.15 L433.24,480.37 L433.93,481.51 L434.61,482.19 L435.31,482.98 L436.00,484.49 L436.70,485.35 L437.41,486.83 L438.13,487.72 L438.85,489.05 L439.58,489.97 L440.31,490.80 L441.05,491.78 L441.78,492.54 L442.50,493.98 L443.22,494.64 L443.95,496.04 L444.69,496.88 L445.42,498.10 L446.15,498.87 L446.87,499.55 L447.59,500.94 L448.30,502.21 L449.00,503.04 L449.77,503.56 L450.54,504.39 L451.29,505.76 L452.03,506.83 L452.77,507.80 L453.51,508.71 L454.25,509.24 L455.00,510.27 L455.75,511.26 L456.49,512.54 L457.23,513.10 L457.97,514.44 L458.71,515.35 L459.46,516.40 L460.23,517.58 L461.00,518.22 L461.77,518.92 L462.54,519.77 L463.31,520.54 L464.09,521.87 L464.89,522.99 L465.72,524.14 L466.59,524.71 L467.50,525.88 L468.19,526.86 L468.90,527.85 L469.63,528.40 L470.38,529.39 L471.14,530.27 L471.92,530.95 L472.71,532.40 L473.52,533.10 L474.34,534.27 L475.16,535.49 L476.00,536.76 L476.71,537.34 L477.44,538.25 L478.16,539.16 L478.90,539.83 L479.65,541.22 L480.40,542.33 L481.16,542.91 L481.94,543.57 L482.73,544.56 L483.53,546.04 L484.34,547.09 L485.16,548.22 L486.00,549.31 L486.79,549.90 L487.60,550.36 L488.42,551.40 L489.25,552.54 L490.10,553.54 L490.95,554.48 L491.81,555.28 L492.68,555.84 L493.56,557.11 L494.44,557.60 L495.33,558.54 L496.22,559.55 L497.11,560.39 L498.00,561.52 L498.90,562.62 L499.81,563.59 L500.74,564.47 L501.67,565.06 L502.61,566.05 L503.55,566.81 L504.50,567.66 L505.45,568.17 L506.39,568.90 L507.33,569.84 L508.26,570.46 L509.19,571.44 L510.10,572.36 L511.00,572.65 L512.03,573.29 L513.05,574.02 L514.05,575.00 L515.04,576.31 L516.02,576.74 L517.00,577.85 L517.98,578.69 L518.96,579.61 L519.95,579.80 L520.95,580.79 L521.97,581.73 L523.00,582.34 L523.98,583.39 L524.97,584.07 L525.99,584.97 L527.02,585.36 L528.06,585.75 L529.11,586.90 L530.14,587.86 L531.17,588.20 L532.19,588.63 L533.18,589.90 L534.16,590.63 L535.10,591.52 L536.00,591.91 L537.14,592.87 L538.24,593.44 L539.31,594.30 L540.36,595.12 L541.38,596.37 L542.36,596.93 L543.31,597.92 L544.24,598.33 L545.13,599.27 L546.00,599.63 L547.12,600.23 L548.19,600.99 L549.22,601.54 L550.21,602.32 L551.17,603.28 L552.10,603.91 L553.00,604.13 L554.05,605.20 L555.10,605.84 L556.11,606.51 L557.04,607.60 L557.85,607.81 L558.50,608.49 L559.19,609.88 L559.70,610.65 L560.33,610.70 L561.00,610.08 L561.69,610.23 L562.52,610.91 L563.47,611.20 L564.53,611.86 L565.67,612.87 L566.87,613.91 L568.11,614.23 L569.37,614.60 L570.61,615.27 L571.83,616.32 L573.00,616.63 L574.05,617.51 L575.12,618.22 L576.20,618.36 L577.30,619.15 L578.40,619.89 L579.50,620.11 L580.60,621.01 L581.70,621.45 L582.80,622.04 L583.88,622.58 L584.95,622.87 L586.00,622.94 L587.24,623.86 L588.45,624.27 L589.64,624.98 L590.82,625.22 L592.00,625.45 L593.18,626.30 L594.36,626.31 L595.55,627.15 L596.76,627.60 L598.00,628.28 L599.15,628.17 L600.32,628.44 L601.50,629.14 L602.70,629.67 L603.90,629.96 L605.10,630.71 L606.30,630.73 L607.50,631.39 L608.68,632.06 L609.85,632.54 L611.00,632.90 L612.24,633.32 L613.45,633.35 L614.64,633.45 L615.82,633.84 L617.00,634.20 L618.18,634.14 L619.36,634.43 L620.55,635.13 L621.76,635.21 L623.00,635.89 L624.15,636.33 L625.32,636.71 L626.50,636.90 L627.70,636.76 L628.90,637.21 L630.10,637.66 L631.30,637.47 L632.50,637.94 L633.68,637.97 L634.85,638.16 L636.00,638.79 L637.24,639.16 L638.45,639.76 L639.64,639.61 L640.82,639.81 L642.00,640.07 L643.18,640.15 L644.36,640.10 L645.55,640.49 L646.76,641.07 L648.00,640.97 L649.15,641.54 L650.32,641.46 L651.50,641.37 L652.70,641.94 L653.90,642.21 L655.10,642.09 L656.30,642.21 L657.50,642.37 L658.68,642.33 L659.85,643.11 L661.00,643.02 L662.24,642.92 L663.45,643.49 L664.64,643.61 L665.82,643.57 L667.00,643.46 L668.18,643.58 L669.36,643.98 L670.55,644.37 L671.76,644.41 L673.00,644.82 L674.15,644.69 L675.32,644.47 L676.50,644.69 L677.70,645.20 L678.90,645.33 L680.10,645.60 L681.30,645.49 L682.50,645.74 L683.68,645.71 L684.85,645.77 L686.00,645.47 L687.24,646.03 L688.45,645.81 L689.64,646.04 L690.82,646.09 L692.00,645.81 L693.18,646.30 L694.36,646.33 L695.55,646.06 L696.76,646.06 L698.00,645.99 L699.14,646.23 L700.29,646.75 L701.45,646.56 L702.61,647.07 L703.79,647.17 L704.97,647.21 L706.16,647.58 L707.36,647.51 L708.56,647.69 L709.78,647.77 L711.00,647.53 L712.22,647.61 L713.44,647.31 L714.66,647.62 L715.89,647.61 L717.13,647.74 L718.38,647.76 L719.65,647.88 L720.94,647.95 L722.26,648.28 L723.61,648.26 L725.00,648.17 L726.14,648.39 L727.33,648.53 L728.56,648.41 L729.83,648.06 L731.12,647.92 L732.42,647.80 L733.72,648.03 L735.01,647.94 L736.29,647.92 L737.53,648.20 L738.73,648.46 L739.89,648.38 L740.98,648.39 L742.00,648.64 L743.41,648.46 L744.82,648.67 L746.20,648.91 L747.53,648.76 L748.78,649.05 L749.93,649.11 L750.95,649.23 L751.82,649.41 L752.50,649.33" fill="none" stroke="#27247f" stroke-width="2.6" stroke-linejoin="round" stroke-linecap="butt"/>
<path d="M369.30,432.50 L370.01,432.50 L370.87,432.49 L371.86,432.49 L372.96,432.47 L374.17,432.46 L375.47,432.45 L376.85,432.43 L378.29,432.42 L379.78,432.41 L381.31,432.39 L382.87,432.38 L384.43,432.37 L385.99,432.36 L387.54,432.35 L389.06,432.57 L390.53,432.65 L391.94,432.70 L393.29,432.92 L394.55,432.78 L395.72,432.55 L396.77,432.79 L397.71,432.49 L398.50,432.62 L399.71,433.03 L400.72,433.50 L401.62,434.05 L402.50,434.76 L403.05,435.10 L403.59,435.66 L404.14,436.99 L404.70,437.90 L405.30,438.60 L405.93,440.19 L406.62,441.22 L407.38,442.16 L408.04,442.95 L408.77,443.98 L409.54,444.66 L410.34,446.03 L411.17,446.61 L412.00,447.30 L412.83,448.51 L413.63,449.36 L414.40,450.31 L415.12,451.19 L415.87,452.26 L416.60,453.24 L417.31,454.23 L417.99,455.82 L418.66,456.94 L419.31,457.78 L419.95,459.16 L420.58,460.19 L421.20,460.80 L421.88,461.63 L422.53,462.92 L423.15,463.63 L423.77,464.99 L424.37,465.92 L424.98,467.23 L425.58,468.16 L426.20,468.99 L426.82,469.81 L427.43,470.60 L428.03,471.74 L428.64,473.07 L429.25,473.70 L429.88,474.60 L430.53,475.56 L431.20,476.55 L431.82,477.99 L432.46,479.02 L433.11,479.70 L433.77,480.64 L434.44,481.56 L435.13,482.71 L435.81,484.01 L436.51,485.39 L437.20,486.66 L437.90,487.52 L438.61,488.74 L439.33,489.50 L440.05,490.91 L440.78,491.67 L441.51,492.38 L442.25,493.26 L442.98,494.38 L443.70,495.85 L444.42,496.69 L445.15,498.21 L445.89,499.58 L446.62,500.57 L447.35,501.48 L448.07,502.64 L448.79,503.18 L449.50,504.41 L450.20,505.30 L450.89,506.11 L451.57,507.02 L452.24,508.29 L452.90,509.02 L453.56,510.16 L454.22,511.11 L454.88,512.24 L455.54,513.28 L456.20,514.52 L456.86,515.53 L457.52,516.70 L458.18,517.35 L458.84,517.96 L459.50,518.91 L460.16,520.25 L460.83,521.29 L461.51,521.75 L462.20,523.04 L462.89,523.69 L463.57,524.47 L464.26,525.28 L464.94,526.14 L465.65,527.16 L466.37,528.62 L467.11,529.93 L467.89,531.09 L468.70,531.81 L469.33,532.32 L469.98,533.01 L470.65,534.30 L471.33,535.19 L472.02,535.98 L472.73,537.05 L473.45,538.38 L474.18,539.55 L474.92,540.33 L475.67,541.57 L476.43,542.55 L477.20,543.30 L477.92,544.50 L478.65,545.13 L479.38,546.22 L480.13,547.12 L480.89,548.32 L481.66,549.37 L482.43,550.44 L483.21,551.02 L484.00,551.93 L484.79,552.92 L485.59,554.24 L486.39,554.84 L487.20,555.98 L488.01,556.51 L488.84,557.52 L489.67,558.23 L490.51,559.16 L491.36,559.83 L492.21,560.70 L493.07,561.75 L493.92,562.70 L494.78,563.88 L495.64,564.99 L496.50,566.01 L497.35,566.66 L498.20,567.08 L499.12,568.44 L500.04,569.61 L500.97,570.29 L501.90,571.22 L502.83,571.91 L503.76,572.71 L504.69,573.35 L505.61,574.24 L506.52,575.64 L507.42,576.78 L508.32,577.22 L509.20,578.45 L510.14,579.21 L511.07,580.43 L511.99,581.21 L512.89,582.27 L513.78,582.89 L514.68,583.66 L515.57,584.36 L516.46,585.77 L517.36,586.39 L518.28,587.46 L519.20,588.63 L520.06,589.60 L520.95,590.64 L521.84,591.44 L522.74,592.59 L523.65,593.10 L524.56,594.09 L525.46,594.81 L526.34,595.83 L527.22,596.58 L528.07,597.46 L528.90,598.81 L529.70,599.89 L530.71,600.97 L531.65,601.97 L532.55,602.76 L533.42,603.42 L534.28,604.01 L535.15,605.10 L536.05,606.00 L536.99,606.87 L538.00,607.80 L538.95,608.17 L539.93,608.87 L540.93,609.87 L541.95,610.52 L542.99,610.91 L544.05,611.68 L545.13,612.78 L546.24,613.46 L547.36,613.98 L548.50,614.81 L549.47,615.33 L550.47,616.52 L551.48,617.07 L552.52,618.08 L553.57,618.64 L554.62,619.70 L555.69,620.16 L556.76,620.58 L557.83,621.35 L558.89,622.56 L559.95,623.43 L561.00,623.76 L562.04,624.40 L563.08,624.96 L564.12,625.91 L565.17,626.62 L566.21,627.31 L567.25,628.24 L568.29,629.12 L569.33,629.99 L570.38,630.73 L571.42,631.48 L572.46,631.92 L573.50,632.16 L574.64,633.20 L575.77,633.41 L576.91,634.34 L578.05,635.11 L579.18,635.46 L580.32,635.96 L581.45,636.66 L582.59,636.74 L583.73,637.11 L584.86,637.64 L586.00,638.03 L587.14,638.41 L588.27,639.27 L589.41,640.08 L590.55,640.36 L591.68,640.41 L592.82,641.34 L593.95,641.39 L595.09,641.89 L596.23,642.63 L597.36,643.23 L598.50,643.50 L599.64,644.22 L600.77,644.07 L601.91,644.67 L603.05,645.15 L604.18,645.32 L605.32,645.58 L606.45,645.78 L607.59,646.33 L608.73,647.23 L609.86,647.62 L611.00,647.70 L612.14,648.32 L613.27,648.57 L614.41,649.25 L615.55,649.40 L616.68,649.68 L617.82,650.16 L618.95,650.48 L620.09,650.67 L621.23,651.12 L622.36,651.28 L623.50,651.78 L624.75,651.96 L626.00,652.04 L627.25,652.29 L628.50,652.60 L629.75,653.33 L631.00,653.30 L632.25,653.60 L633.50,654.34 L634.75,654.53 L636.00,655.11 L637.25,655.04 L638.50,655.52 L639.75,655.62 L641.00,655.50 L642.25,655.86 L643.50,655.77 L644.75,656.34 L646.00,656.44 L647.25,656.94 L648.50,657.43 L649.75,657.39 L651.00,657.78 L652.25,657.54 L653.50,657.86 L654.75,658.54 L656.00,658.78 L657.25,658.60 L658.50,659.21 L659.75,658.98 L661.00,659.18 L662.25,659.70 L663.50,660.19 L664.75,659.92 L666.00,659.83 L667.25,660.18 L668.50,660.40 L669.75,660.49 L671.00,660.51 L672.25,661.21 L673.50,661.28 L674.75,661.28 L676.00,661.79 L677.25,662.24 L678.50,661.97 L679.75,662.49 L681.00,662.82 L682.25,662.96 L683.50,662.78 L684.75,662.87 L686.00,663.10 L687.28,663.26 L688.62,663.65 L689.99,663.79 L691.36,663.58 L692.72,663.62 L694.04,664.09 L695.30,664.11 L696.48,664.33 L697.55,664.70 L698.50,664.29 L699.95,664.60 L701.28,664.60 L702.46,664.73 L703.50,665.11 L704.56,665.94 L705.37,666.98 L706.20,667.37 L707.12,667.11 L708.05,665.87 L709.00,665.00 L709.94,665.13 L710.90,665.59 L712.00,665.85 L712.80,666.03 L713.74,666.00 L714.80,666.09 L715.96,665.83 L717.19,665.52 L718.47,665.66 L719.79,665.97 L721.13,665.60 L722.45,665.92 L723.75,666.04 L725.00,666.17 L726.28,666.34 L727.65,666.30 L729.08,665.98 L730.54,666.20 L732.00,666.16 L733.42,666.54 L734.76,666.07 L736.01,665.87 L737.12,666.06 L738.06,666.12 L738.80,666.49" fill="none" stroke="#6c61b2" stroke-width="2.6" stroke-linejoin="round" stroke-linecap="butt"/>
<path d="M369.30,432.50 L370.00,432.50 L370.84,432.49 L371.81,432.49 L372.90,432.48 L374.09,432.46 L375.36,432.45 L376.72,432.44 L378.13,432.42 L379.60,432.41 L381.10,432.39 L382.63,432.38 L384.17,432.37 L385.70,432.36 L387.22,432.36 L388.71,432.73 L390.16,432.75 L391.55,432.68 L392.87,432.90 L394.12,432.42 L395.26,432.60 L396.30,432.43 L397.22,432.52 L398.00,432.40 L399.21,432.88 L400.23,433.26 L401.13,433.61 L402.00,434.26 L402.56,435.21 L403.14,436.33 L403.72,437.23 L404.32,438.41 L404.95,439.35 L405.59,440.44 L406.27,442.01 L406.98,442.94 L407.58,443.54 L408.21,444.46 L408.86,445.29 L409.53,446.74 L410.22,447.55 L410.91,448.31 L411.60,449.40 L412.29,450.45 L412.97,451.87 L413.63,453.12 L414.36,453.70 L415.09,454.74 L415.83,456.08 L416.56,457.00 L417.28,457.82 L417.99,459.12 L418.68,460.13 L419.35,461.30 L420.00,462.09 L420.69,463.21 L421.35,464.55 L421.98,465.58 L422.59,466.71 L423.19,467.88 L423.78,468.58 L424.38,469.43 L425.00,470.40 L425.62,471.52 L426.23,472.37 L426.83,473.26 L427.44,474.37 L428.05,475.13 L428.68,476.37 L429.33,477.20 L430.00,478.11 L430.62,479.65 L431.26,480.81 L431.91,481.76 L432.57,483.04 L433.24,484.14 L433.93,485.34 L434.61,486.20 L435.31,486.90 L436.00,487.86 L436.63,488.77 L437.27,489.95 L437.91,490.90 L438.56,491.71 L439.22,493.07 L439.88,493.75 L440.53,494.74 L441.19,496.00 L441.85,497.05 L442.50,498.11 L443.15,498.77 L443.81,499.94 L444.47,501.29 L445.12,502.00 L445.78,503.15 L446.44,504.36 L447.09,505.23 L447.73,506.22 L448.37,507.11 L449.00,508.20 L449.69,509.08 L450.37,510.51 L451.04,511.79 L451.70,512.88 L452.36,513.60 L453.02,514.72 L453.68,515.87 L454.34,516.47 L455.00,517.48 L455.66,518.43 L456.32,519.62 L456.98,520.51 L457.64,521.48 L458.30,522.24 L458.96,523.50 L459.63,524.64 L460.31,525.08 L461.00,525.90 L461.69,527.35 L462.37,527.83 L463.06,528.53 L463.74,529.82 L464.45,530.70 L465.17,531.50 L465.91,532.56 L466.69,533.41 L467.50,534.43 L468.19,535.89 L468.90,536.76 L469.63,537.36 L470.38,538.44 L471.14,539.63 L471.92,540.38 L472.71,541.56 L473.52,542.31 L474.34,543.48 L475.16,544.62 L476.00,545.79 L476.78,546.59 L477.57,547.66 L478.37,548.66 L479.19,549.06 L480.01,549.74 L480.84,551.00 L481.69,552.10 L482.54,552.49 L483.39,553.30 L484.26,554.05 L485.13,554.78 L486.00,555.97 L486.88,556.75 L487.78,558.10 L488.68,558.74 L489.59,559.41 L490.51,560.21 L491.44,561.08 L492.37,562.44 L493.30,563.56 L494.23,564.16 L495.16,565.39 L496.08,566.54 L497.00,567.19 L497.92,568.15 L498.83,568.59 L499.75,569.62 L500.67,570.21 L501.58,570.99 L502.50,571.71 L503.42,572.65 L504.33,573.69 L505.25,574.67 L506.17,575.71 L507.08,576.53 L508.00,577.37 L508.91,577.99 L509.82,578.61 L510.73,579.28 L511.63,580.51 L512.53,581.48 L513.44,582.58 L514.35,583.13 L515.26,583.60 L516.18,584.96 L517.11,585.80 L518.05,586.69 L519.00,587.67 L519.83,588.16 L520.69,589.04 L521.56,590.25 L522.44,591.25 L523.33,592.27 L524.23,592.97 L525.12,593.42 L526.01,594.12 L526.89,594.97 L527.76,596.28 L528.61,597.41 L529.43,597.92 L530.23,598.53 L531.00,599.64 L532.01,600.37 L532.99,601.45 L533.92,602.38 L534.82,603.21 L535.70,603.76 L536.57,604.87 L537.42,605.42 L538.28,606.27 L539.13,607.15 L540.00,607.41 L540.95,607.79 L541.86,608.73 L542.75,609.74 L543.64,610.47 L544.53,610.59 L545.45,611.02 L546.41,612.18 L547.42,612.63 L548.50,613.35 L549.33,613.85 L550.20,614.68 L551.11,615.21 L552.05,615.88 L553.02,616.71 L554.00,617.62 L555.00,618.72 L556.01,619.93 L557.02,620.35 L558.03,621.00 L559.04,622.12 L560.03,623.19 L561.00,623.92 L562.04,624.18 L563.08,625.00 L564.12,625.87 L565.17,626.33 L566.21,627.52 L567.25,627.89 L568.29,628.44 L569.33,629.31 L570.38,630.52 L571.42,630.99 L572.46,631.44 L573.50,632.17 L574.64,633.39 L575.77,633.85 L576.91,634.37 L578.05,635.34 L579.18,635.52 L580.32,636.43 L581.45,636.86 L582.59,637.76 L583.73,638.33 L584.86,638.78 L586.00,639.10 L587.14,639.77 L588.27,639.93 L589.41,640.47 L590.55,640.77 L591.68,641.27 L592.82,642.12 L593.95,642.91 L595.09,643.24 L596.23,643.73 L597.36,644.26 L598.50,644.92 L599.64,645.40 L600.77,645.85 L601.91,646.52 L603.05,646.79 L604.18,647.40 L605.32,647.73 L606.45,648.17 L607.59,648.57 L608.73,648.93 L609.86,649.18 L611.00,650.14 L612.14,650.68 L613.27,651.15 L614.41,651.68 L615.55,651.89 L616.68,652.20 L617.82,652.61 L618.95,653.01 L620.09,653.50 L621.23,653.88 L622.36,654.62 L623.50,654.78 L624.64,655.02 L625.77,655.40 L626.91,655.72 L628.05,656.49 L629.18,656.92 L630.32,657.13 L631.45,657.70 L632.59,657.96 L633.73,658.51 L634.86,658.51 L636.00,659.01 L637.14,659.40 L638.27,659.57 L639.41,659.86 L640.55,660.29 L641.68,660.95 L642.82,661.59 L643.95,661.75 L645.09,662.10 L646.23,662.57 L647.36,662.77 L648.50,662.85 L649.75,663.18 L651.00,663.87 L652.25,664.24 L653.50,664.46 L654.75,665.07 L656.00,664.88 L657.25,665.24 L658.50,665.37 L659.75,666.09 L661.00,666.15 L662.25,666.15 L663.50,666.29 L664.75,667.23 L666.00,667.61 L667.25,667.55 L668.50,668.11 L669.75,668.57 L671.00,669.10 L672.25,668.99 L673.50,669.14 L674.75,669.27 L676.00,669.68 L677.25,670.22 L678.50,670.19 L679.75,670.07 L681.00,670.25 L682.25,670.71 L683.50,670.76 L684.75,670.71 L686.00,671.21 L687.25,671.34 L688.50,671.66 L689.75,671.63 L691.00,671.73 L692.25,672.22 L693.50,672.80 L694.75,672.78 L696.00,673.02 L697.25,673.06 L698.50,672.92 L699.75,672.88 L701.00,673.14 L702.25,673.28 L703.50,673.83 L704.75,673.93 L706.00,674.37 L707.25,674.38 L708.50,674.69 L709.75,674.34 L711.00,674.86 L712.23,674.94 L713.42,675.32 L714.59,675.19 L715.76,674.96 L716.94,674.89 L718.14,674.81 L719.38,674.94 L720.68,674.98 L722.05,675.00 L723.50,675.06 L724.58,675.24 L725.73,675.82 L726.94,676.09 L728.21,676.53 L729.52,676.37 L730.85,676.48 L732.20,676.19 L733.55,676.62 L734.89,676.66 L736.20,676.59 L737.48,676.84 L738.72,677.36 L739.89,677.66 L740.99,677.68 L742.00,677.54 L743.41,677.60 L744.81,677.81 L746.20,678.08 L747.53,678.15 L748.78,677.74 L749.93,677.37 L750.95,677.18 L751.82,677.46 L752.50,677.91" fill="none" stroke="#962f92" stroke-width="2.6" stroke-linejoin="round" stroke-linecap="butt"/>
<rect x="363.4" y="408.8" width="413.6" height="308.40000000000003" fill="none" stroke="#222222" stroke-width="2.2"/>
<path d="M369.60,717.2 v6.6 M369.60,408.8 v6.6 M401.41,717.2 v3.9 M401.41,408.8 v3.9 M433.21,717.2 v6.6 M433.21,408.8 v6.6 M465.02,717.2 v3.9 M465.02,408.8 v3.9 M496.82,717.2 v6.6 M496.82,408.8 v6.6 M528.62,717.2 v3.9 M528.62,408.8 v3.9 M560.43,717.2 v6.6 M560.43,408.8 v6.6 M592.24,717.2 v3.9 M592.24,408.8 v3.9 M624.04,717.2 v6.6 M624.04,408.8 v6.6 M655.85,717.2 v3.9 M655.85,408.8 v3.9 M687.65,717.2 v6.6 M687.65,408.8 v6.6 M719.46,717.2 v3.9 M719.46,408.8 v3.9 M751.26,717.2 v6.6 M751.26,408.8 v6.6 M363.4,717.20 h-6.6 M777.0,717.20 h-6.6 M363.4,689.18 h-3.9 M777.0,689.18 h-3.9 M363.4,661.16 h-6.6 M777.0,661.16 h-6.6 M363.4,633.14 h-3.9 M777.0,633.14 h-3.9 M363.4,605.12 h-6.6 M777.0,605.12 h-6.6 M363.4,577.10 h-3.9 M777.0,577.10 h-3.9 M363.4,549.08 h-6.6 M777.0,549.08 h-6.6 M363.4,521.06 h-3.9 M777.0,521.06 h-3.9 M363.4,493.04 h-6.6 M777.0,493.04 h-6.6 M363.4,465.02 h-3.9 M777.0,465.02 h-3.9 M363.4,437.00 h-6.6 M777.0,437.00 h-6.6 M363.4,408.98 h-3.9 M777.0,408.98 h-3.9" fill="none" stroke="#222222" stroke-width="2.2"/>
<text x="351.8" y="724.5" font-family='"Liberation Sans", sans-serif' font-size="23.2" font-weight="bold" fill="#222222" text-anchor="end" textLength="64.5" lengthAdjust="spacingAndGlyphs">10000</text>
<text x="351.8" y="668.46" font-family='"Liberation Sans", sans-serif' font-size="23.2" font-weight="bold" fill="#222222" text-anchor="end" textLength="64.5" lengthAdjust="spacingAndGlyphs">20000</text>
<text x="351.8" y="612.42" font-family='"Liberation Sans", sans-serif' font-size="23.2" font-weight="bold" fill="#222222" text-anchor="end" textLength="64.5" lengthAdjust="spacingAndGlyphs">30000</text>
<text x="351.8" y="556.38" font-family='"Liberation Sans", sans-serif' font-size="23.2" font-weight="bold" fill="#222222" text-anchor="end" textLength="64.5" lengthAdjust="spacingAndGlyphs">40000</text>
<text x="351.8" y="500.34" font-family='"Liberation Sans", sans-serif' font-size="23.2" font-weight="bold" fill="#222222" text-anchor="end" textLength="64.5" lengthAdjust="spacingAndGlyphs">50000</text>
<text x="351.8" y="444.3" font-family='"Liberation Sans", sans-serif' font-size="23.2" font-weight="bold" fill="#222222" text-anchor="end" textLength="64.5" lengthAdjust="spacingAndGlyphs">60000</text>
<text x="369.6" y="746.7" font-family='"Liberation Sans", sans-serif' font-size="23.2" font-weight="bold" fill="#222222" text-anchor="middle" textLength="12.2" lengthAdjust="spacingAndGlyphs">0</text>
<text x="433.21" y="746.7" font-family='"Liberation Sans", sans-serif' font-size="23.2" font-weight="bold" fill="#222222" text-anchor="middle" textLength="25" lengthAdjust="spacingAndGlyphs">50</text>
<text x="496.82" y="746.7" font-family='"Liberation Sans", sans-serif' font-size="23.2" font-weight="bold" fill="#222222" text-anchor="middle" textLength="37.8" lengthAdjust="spacingAndGlyphs">100</text>
<text x="560.43" y="746.7" font-family='"Liberation Sans", sans-serif' font-size="23.2" font-weight="bold" fill="#222222" text-anchor="middle" textLength="37.8" lengthAdjust="spacingAndGlyphs">150</text>
<text x="624.04" y="746.7" font-family='"Liberation Sans", sans-serif' font-size="23.2" font-weight="bold" fill="#222222" text-anchor="middle" textLength="37.8" lengthAdjust="spacingAndGlyphs">200</text>
<text x="687.65" y="746.7" font-family='"Liberation Sans", sans-serif' font-size="23.2" font-weight="bold" fill="#222222" text-anchor="middle" textLength="37.8" lengthAdjust="spacingAndGlyphs">250</text>
<text x="751.26" y="746.7" font-family='"Liberation Sans", sans-serif' font-size="23.2" font-weight="bold" fill="#222222" text-anchor="middle" textLength="37.8" lengthAdjust="spacingAndGlyphs">300</text>
<text x="569.7" y="779.3" font-family='"Liberation Sans", sans-serif' font-size="23.2" font-weight="bold" fill="#222222" text-anchor="middle" textLength="90.6" lengthAdjust="spacingAndGlyphs">Time (s)</text>
<text transform="translate(271.5,563) rotate(-90)" font-family='"Liberation Sans", sans-serif' font-size="25" font-weight="bold" fill="#222222" text-anchor="middle" textLength="278" lengthAdjust="spacingAndGlyphs">Intensity (Photon Count)</text>
<text x="427.3" y="439.4" font-family='"Liberation Sans", sans-serif' font-size="19" font-weight="bold" fill="#222222" text-anchor="start" textLength="168" lengthAdjust="spacingAndGlyphs">POD: 0.0003 mg/ml</text>
<text x="758" y="521.1" font-family='"Liberation Sans", sans-serif' font-size="17.3" font-weight="bold" fill="#222222" text-anchor="start" textLength="10.0" lengthAdjust="spacingAndGlyphs">a</text>
<text x="755" y="554.6" font-family='"Liberation Sans", sans-serif' font-size="17.3" font-weight="bold" fill="#222222" text-anchor="start" textLength="10.99" lengthAdjust="spacingAndGlyphs">b</text>
<text x="758" y="582.8" font-family='"Liberation Sans", sans-serif' font-size="17.3" font-weight="bold" fill="#222222" text-anchor="start" textLength="10.0" lengthAdjust="spacingAndGlyphs">c</text>
<text x="755" y="607.2" font-family='"Liberation Sans", sans-serif' font-size="17.3" font-weight="bold" fill="#222222" text-anchor="start" textLength="10.99" lengthAdjust="spacingAndGlyphs">d</text>
<text x="758" y="630.3" font-family='"Liberation Sans", sans-serif' font-size="17.3" font-weight="bold" fill="#222222" text-anchor="start" textLength="10.0" lengthAdjust="spacingAndGlyphs">e</text>
<text x="759" y="655.5" font-family='"Liberation Sans", sans-serif' font-size="17.3" font-weight="bold" fill="#222222" text-anchor="start" textLength="5.99" lengthAdjust="spacingAndGlyphs">f</text>
<text x="744" y="672" font-family='"Liberation Sans", sans-serif' font-size="17.3" font-weight="bold" fill="#222222" text-anchor="start" textLength="10.99" lengthAdjust="spacingAndGlyphs">g</text>
<text x="757" y="686.2" font-family='"Liberation Sans", sans-serif' font-size="17.3" font-weight="bold" fill="#222222" text-anchor="start" textLength="10.99" lengthAdjust="spacingAndGlyphs">h</text>
<text x="514.9" y="822.6" font-family='"Liberation Serif", serif' font-size="27.6" fill="#111" text-anchor="middle">(<tspan font-weight="bold">c</tspan>)</text>
</g>
</svg>
</body>
</html>
